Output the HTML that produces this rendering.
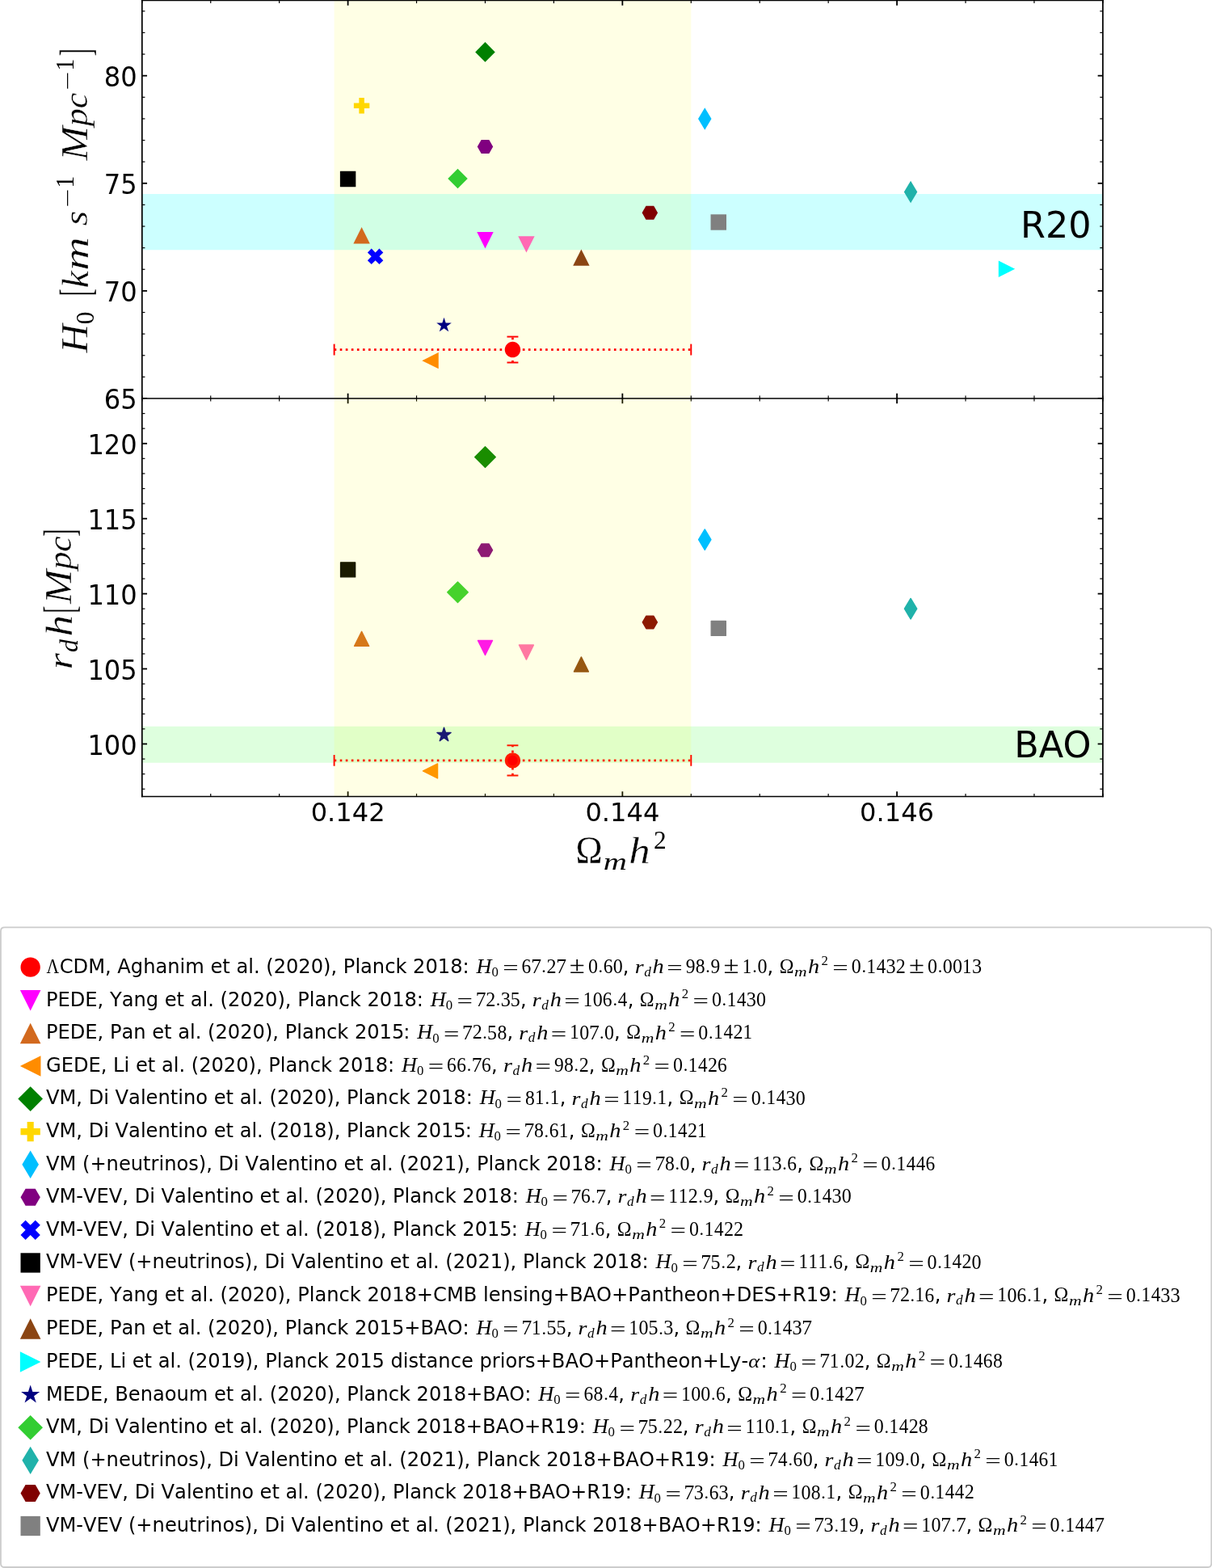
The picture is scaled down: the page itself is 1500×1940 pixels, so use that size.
<!DOCTYPE html>
<html><head><meta charset="utf-8"><title>H0 and r_d h versus Omega_m h^2</title>
<style>html,body{margin:0;padding:0;background:#fff;width:1500px;height:1940px;overflow:hidden}svg{display:block}</style>
</head><body>
<svg width="1500" height="1940" viewBox="0 0 1080 1396.8" version="1.1">
 <defs>
  <style type="text/css">*{stroke-linejoin: round; stroke-linecap: butt}</style>
 </defs>
 <g id="figure_1">
  <g id="patch_1">
   <path d="M 0 1396.8 
L 1080 1396.8 
L 1080 0 
L 0 0 
z
" style="fill: #ffffff"/>
  </g>
  <g id="axes_1">
   <g id="patch_2">
    <path d="M 126.576 354.96 
L 982.728 354.96 
L 982.728 0.36 
L 126.576 0.36 
z
" style="fill: #ffffff"/>
   </g>
   <g id="patch_3">
    <path d="M 126.576 222.703784 
L 982.728 222.703784 
L 982.728 172.868108 
L 126.576 172.868108 
z
" clip-path="url(#pdb8084b078)" style="fill: #00ffff; opacity: 0.2"/>
   </g>
   <g id="patch_4">
    <path d="M 297.8064 354.96 
L 615.805714 354.96 
L 615.805714 0.36 
L 297.8064 0.36 
z
" clip-path="url(#pdb8084b078)" style="fill: #ffff00; opacity: 0.1"/>
   </g>
   <g id="matplotlib.axis_1">
    <g id="xtick_1">
     <g id="line2d_1">
      <g>
       <path d="M 0 0 L 0 -4.5" transform="translate(310.037 354.96)" style="stroke: #000000; stroke-width: 1.3; stroke: #000000; stroke-width: 1.3"/>
      </g>
     </g>
     <g id="line2d_2">
      <g>
       <path d="M 0 0 L 0 4.5" transform="translate(310.037 0.36)" style="stroke: #000000; stroke-width: 1.3; stroke: #000000; stroke-width: 1.3"/>
      </g>
     </g>
    </g>
    <g id="xtick_2">
     <g id="line2d_3">
      <g>
       <path d="M 0 0 L 0 -4.5" transform="translate(554.652 354.96)" style="stroke: #000000; stroke-width: 1.3; stroke: #000000; stroke-width: 1.3"/>
      </g>
     </g>
     <g id="line2d_4">
      <g>
       <path d="M 0 0 L 0 4.5" transform="translate(554.652 0.36)" style="stroke: #000000; stroke-width: 1.3; stroke: #000000; stroke-width: 1.3"/>
      </g>
     </g>
    </g>
    <g id="xtick_3">
     <g id="line2d_5">
      <g>
       <path d="M 0 0 L 0 -4.5" transform="translate(799.267 354.96)" style="stroke: #000000; stroke-width: 1.3; stroke: #000000; stroke-width: 1.3"/>
      </g>
     </g>
     <g id="line2d_6">
      <g>
       <path d="M 0 0 L 0 4.5" transform="translate(799.267 0.36)" style="stroke: #000000; stroke-width: 1.3; stroke: #000000; stroke-width: 1.3"/>
      </g>
     </g>
    </g>
    <g id="xtick_4">
     <g id="line2d_7">
      <g>
       <path d="M 0 0 L 0 -2.6" transform="translate(126.576 354.96)" style="stroke: #000000; stroke-width: 0.85; stroke: #000000; stroke-width: 0.85"/>
      </g>
     </g>
     <g id="line2d_8">
      <g>
       <path d="M 0 0 L 0 2.6" transform="translate(126.576 0.36)" style="stroke: #000000; stroke-width: 0.85; stroke: #000000; stroke-width: 0.85"/>
      </g>
     </g>
    </g>
    <g id="xtick_5">
     <g id="line2d_9">
      <g>
       <path d="M 0 0 L 0 -2.6" transform="translate(187.73 354.96)" style="stroke: #000000; stroke-width: 0.85; stroke: #000000; stroke-width: 0.85"/>
      </g>
     </g>
     <g id="line2d_10">
      <g>
       <path d="M 0 0 L 0 2.6" transform="translate(187.73 0.36)" style="stroke: #000000; stroke-width: 0.85; stroke: #000000; stroke-width: 0.85"/>
      </g>
     </g>
    </g>
    <g id="xtick_6">
     <g id="line2d_11">
      <g>
       <path d="M 0 0 L 0 -2.6" transform="translate(248.883 354.96)" style="stroke: #000000; stroke-width: 0.85; stroke: #000000; stroke-width: 0.85"/>
      </g>
     </g>
     <g id="line2d_12">
      <g>
       <path d="M 0 0 L 0 2.6" transform="translate(248.883 0.36)" style="stroke: #000000; stroke-width: 0.85; stroke: #000000; stroke-width: 0.85"/>
      </g>
     </g>
    </g>
    <g id="xtick_7">
     <g id="line2d_13">
      <g>
       <path d="M 0 0 L 0 -2.6" transform="translate(371.191 354.96)" style="stroke: #000000; stroke-width: 0.85; stroke: #000000; stroke-width: 0.85"/>
      </g>
     </g>
     <g id="line2d_14">
      <g>
       <path d="M 0 0 L 0 2.6" transform="translate(371.191 0.36)" style="stroke: #000000; stroke-width: 0.85; stroke: #000000; stroke-width: 0.85"/>
      </g>
     </g>
    </g>
    <g id="xtick_8">
     <g id="line2d_15">
      <g>
       <path d="M 0 0 L 0 -2.6" transform="translate(432.345 354.96)" style="stroke: #000000; stroke-width: 0.85; stroke: #000000; stroke-width: 0.85"/>
      </g>
     </g>
     <g id="line2d_16">
      <g>
       <path d="M 0 0 L 0 2.6" transform="translate(432.345 0.36)" style="stroke: #000000; stroke-width: 0.85; stroke: #000000; stroke-width: 0.85"/>
      </g>
     </g>
    </g>
    <g id="xtick_9">
     <g id="line2d_17">
      <g>
       <path d="M 0 0 L 0 -2.6" transform="translate(493.498 354.96)" style="stroke: #000000; stroke-width: 0.85; stroke: #000000; stroke-width: 0.85"/>
      </g>
     </g>
     <g id="line2d_18">
      <g>
       <path d="M 0 0 L 0 2.6" transform="translate(493.498 0.36)" style="stroke: #000000; stroke-width: 0.85; stroke: #000000; stroke-width: 0.85"/>
      </g>
     </g>
    </g>
    <g id="xtick_10">
     <g id="line2d_19">
      <g>
       <path d="M 0 0 L 0 -2.6" transform="translate(615.806 354.96)" style="stroke: #000000; stroke-width: 0.85; stroke: #000000; stroke-width: 0.85"/>
      </g>
     </g>
     <g id="line2d_20">
      <g>
       <path d="M 0 0 L 0 2.6" transform="translate(615.806 0.36)" style="stroke: #000000; stroke-width: 0.85; stroke: #000000; stroke-width: 0.85"/>
      </g>
     </g>
    </g>
    <g id="xtick_11">
     <g id="line2d_21">
      <g>
       <path d="M 0 0 L 0 -2.6" transform="translate(676.959 354.96)" style="stroke: #000000; stroke-width: 0.85; stroke: #000000; stroke-width: 0.85"/>
      </g>
     </g>
     <g id="line2d_22">
      <g>
       <path d="M 0 0 L 0 2.6" transform="translate(676.959 0.36)" style="stroke: #000000; stroke-width: 0.85; stroke: #000000; stroke-width: 0.85"/>
      </g>
     </g>
    </g>
    <g id="xtick_12">
     <g id="line2d_23">
      <g>
       <path d="M 0 0 L 0 -2.6" transform="translate(738.113 354.96)" style="stroke: #000000; stroke-width: 0.85; stroke: #000000; stroke-width: 0.85"/>
      </g>
     </g>
     <g id="line2d_24">
      <g>
       <path d="M 0 0 L 0 2.6" transform="translate(738.113 0.36)" style="stroke: #000000; stroke-width: 0.85; stroke: #000000; stroke-width: 0.85"/>
      </g>
     </g>
    </g>
    <g id="xtick_13">
     <g id="line2d_25">
      <g>
       <path d="M 0 0 L 0 -2.6" transform="translate(860.421 354.96)" style="stroke: #000000; stroke-width: 0.85; stroke: #000000; stroke-width: 0.85"/>
      </g>
     </g>
     <g id="line2d_26">
      <g>
       <path d="M 0 0 L 0 2.6" transform="translate(860.421 0.36)" style="stroke: #000000; stroke-width: 0.85; stroke: #000000; stroke-width: 0.85"/>
      </g>
     </g>
    </g>
    <g id="xtick_14">
     <g id="line2d_27">
      <g>
       <path d="M 0 0 L 0 -2.6" transform="translate(921.574 354.96)" style="stroke: #000000; stroke-width: 0.85; stroke: #000000; stroke-width: 0.85"/>
      </g>
     </g>
     <g id="line2d_28">
      <g>
       <path d="M 0 0 L 0 2.6" transform="translate(921.574 0.36)" style="stroke: #000000; stroke-width: 0.85; stroke: #000000; stroke-width: 0.85"/>
      </g>
     </g>
    </g>
    <g id="xtick_15">
     <g id="line2d_29">
      <g>
       <path d="M 0 0 L 0 -2.6" transform="translate(982.728 354.96)" style="stroke: #000000; stroke-width: 0.85; stroke: #000000; stroke-width: 0.85"/>
      </g>
     </g>
     <g id="line2d_30">
      <g>
       <path d="M 0 0 L 0 2.6" transform="translate(982.728 0.36)" style="stroke: #000000; stroke-width: 0.85; stroke: #000000; stroke-width: 0.85"/>
      </g>
     </g>
    </g>
   </g>
   <g id="matplotlib.axis_2">
    <g id="ytick_1">
     <g id="line2d_31">
      <g>
       <path d="M 0 0 L 4.5 0" transform="translate(126.576 354.96)" style="stroke: #000000; stroke-width: 1.3; stroke: #000000; stroke-width: 1.3"/>
      </g>
     </g>
     <g id="line2d_32">
      <g>
       <path d="M 0 0 L -4.5 0" transform="translate(982.728 354.96)" style="stroke: #000000; stroke-width: 1.3; stroke: #000000; stroke-width: 1.3"/>
      </g>
     </g>
     <g id="text_1">
      <text style="font-size: 24px; font-family: 'DejaVu Sans', sans-serif; text-anchor: end" x="122.176" y="364.078" transform="translate(122.176 364.654) scale(0.964 1) translate(-122.176 -364.078)">65</text>
     </g>
    </g>
    <g id="ytick_2">
     <g id="line2d_33">
      <g>
       <path d="M 0 0 L 4.5 0" transform="translate(126.576 259.122)" style="stroke: #000000; stroke-width: 1.3; stroke: #000000; stroke-width: 1.3"/>
      </g>
     </g>
     <g id="line2d_34">
      <g>
       <path d="M 0 0 L -4.5 0" transform="translate(982.728 259.122)" style="stroke: #000000; stroke-width: 1.3; stroke: #000000; stroke-width: 1.3"/>
      </g>
     </g>
     <g id="text_2">
      <text style="font-size: 24px; font-family: 'DejaVu Sans', sans-serif; text-anchor: end" x="122.176" y="268.24" transform="translate(122.176 268.816) scale(0.964 1) translate(-122.176 -268.24)">70</text>
     </g>
    </g>
    <g id="ytick_3">
     <g id="line2d_35">
      <g>
       <path d="M 0 0 L 4.5 0" transform="translate(126.576 163.284)" style="stroke: #000000; stroke-width: 1.3; stroke: #000000; stroke-width: 1.3"/>
      </g>
     </g>
     <g id="line2d_36">
      <g>
       <path d="M 0 0 L -4.5 0" transform="translate(982.728 163.284)" style="stroke: #000000; stroke-width: 1.3; stroke: #000000; stroke-width: 1.3"/>
      </g>
     </g>
     <g id="text_3">
      <text style="font-size: 24px; font-family: 'DejaVu Sans', sans-serif; text-anchor: end" x="122.176" y="172.402" transform="translate(122.176 172.978) scale(0.964 1) translate(-122.176 -172.402)">75</text>
     </g>
    </g>
    <g id="ytick_4">
     <g id="line2d_37">
      <g>
       <path d="M 0 0 L 4.5 0" transform="translate(126.576 67.446)" style="stroke: #000000; stroke-width: 1.3; stroke: #000000; stroke-width: 1.3"/>
      </g>
     </g>
     <g id="line2d_38">
      <g>
       <path d="M 0 0 L -4.5 0" transform="translate(982.728 67.446)" style="stroke: #000000; stroke-width: 1.3; stroke: #000000; stroke-width: 1.3"/>
      </g>
     </g>
     <g id="text_4">
      <text style="font-size: 24px; font-family: 'DejaVu Sans', sans-serif; text-anchor: end" x="122.176" y="76.565" transform="translate(122.176 77.141) scale(0.964 1) translate(-122.176 -76.565)">80</text>
     </g>
    </g>
    <g id="ytick_5">
     <g id="line2d_39">
      <g>
       <path d="M 0 0 L 2.6 0" transform="translate(126.576 335.792)" style="stroke: #000000; stroke-width: 0.85; stroke: #000000; stroke-width: 0.85"/>
      </g>
     </g>
     <g id="line2d_40">
      <g>
       <path d="M 0 0 L -2.6 0" transform="translate(982.728 335.792)" style="stroke: #000000; stroke-width: 0.85; stroke: #000000; stroke-width: 0.85"/>
      </g>
     </g>
    </g>
    <g id="ytick_6">
     <g id="line2d_41">
      <g>
       <path d="M 0 0 L 2.6 0" transform="translate(126.576 316.625)" style="stroke: #000000; stroke-width: 0.85; stroke: #000000; stroke-width: 0.85"/>
      </g>
     </g>
     <g id="line2d_42">
      <g>
       <path d="M 0 0 L -2.6 0" transform="translate(982.728 316.625)" style="stroke: #000000; stroke-width: 0.85; stroke: #000000; stroke-width: 0.85"/>
      </g>
     </g>
    </g>
    <g id="ytick_7">
     <g id="line2d_43">
      <g>
       <path d="M 0 0 L 2.6 0" transform="translate(126.576 297.457)" style="stroke: #000000; stroke-width: 0.85; stroke: #000000; stroke-width: 0.85"/>
      </g>
     </g>
     <g id="line2d_44">
      <g>
       <path d="M 0 0 L -2.6 0" transform="translate(982.728 297.457)" style="stroke: #000000; stroke-width: 0.85; stroke: #000000; stroke-width: 0.85"/>
      </g>
     </g>
    </g>
    <g id="ytick_8">
     <g id="line2d_45">
      <g>
       <path d="M 0 0 L 2.6 0" transform="translate(126.576 278.29)" style="stroke: #000000; stroke-width: 0.85; stroke: #000000; stroke-width: 0.85"/>
      </g>
     </g>
     <g id="line2d_46">
      <g>
       <path d="M 0 0 L -2.6 0" transform="translate(982.728 278.29)" style="stroke: #000000; stroke-width: 0.85; stroke: #000000; stroke-width: 0.85"/>
      </g>
     </g>
    </g>
    <g id="ytick_9">
     <g id="line2d_47">
      <g>
       <path d="M 0 0 L 2.6 0" transform="translate(126.576 239.955)" style="stroke: #000000; stroke-width: 0.85; stroke: #000000; stroke-width: 0.85"/>
      </g>
     </g>
     <g id="line2d_48">
      <g>
       <path d="M 0 0 L -2.6 0" transform="translate(982.728 239.955)" style="stroke: #000000; stroke-width: 0.85; stroke: #000000; stroke-width: 0.85"/>
      </g>
     </g>
    </g>
    <g id="ytick_10">
     <g id="line2d_49">
      <g>
       <path d="M 0 0 L 2.6 0" transform="translate(126.576 220.787)" style="stroke: #000000; stroke-width: 0.85; stroke: #000000; stroke-width: 0.85"/>
      </g>
     </g>
     <g id="line2d_50">
      <g>
       <path d="M 0 0 L -2.6 0" transform="translate(982.728 220.787)" style="stroke: #000000; stroke-width: 0.85; stroke: #000000; stroke-width: 0.85"/>
      </g>
     </g>
    </g>
    <g id="ytick_11">
     <g id="line2d_51">
      <g>
       <path d="M 0 0 L 2.6 0" transform="translate(126.576 201.619)" style="stroke: #000000; stroke-width: 0.85; stroke: #000000; stroke-width: 0.85"/>
      </g>
     </g>
     <g id="line2d_52">
      <g>
       <path d="M 0 0 L -2.6 0" transform="translate(982.728 201.619)" style="stroke: #000000; stroke-width: 0.85; stroke: #000000; stroke-width: 0.85"/>
      </g>
     </g>
    </g>
    <g id="ytick_12">
     <g id="line2d_53">
      <g>
       <path d="M 0 0 L 2.6 0" transform="translate(126.576 182.452)" style="stroke: #000000; stroke-width: 0.85; stroke: #000000; stroke-width: 0.85"/>
      </g>
     </g>
     <g id="line2d_54">
      <g>
       <path d="M 0 0 L -2.6 0" transform="translate(982.728 182.452)" style="stroke: #000000; stroke-width: 0.85; stroke: #000000; stroke-width: 0.85"/>
      </g>
     </g>
    </g>
    <g id="ytick_13">
     <g id="line2d_55">
      <g>
       <path d="M 0 0 L 2.6 0" transform="translate(126.576 144.117)" style="stroke: #000000; stroke-width: 0.85; stroke: #000000; stroke-width: 0.85"/>
      </g>
     </g>
     <g id="line2d_56">
      <g>
       <path d="M 0 0 L -2.6 0" transform="translate(982.728 144.117)" style="stroke: #000000; stroke-width: 0.85; stroke: #000000; stroke-width: 0.85"/>
      </g>
     </g>
    </g>
    <g id="ytick_14">
     <g id="line2d_57">
      <g>
       <path d="M 0 0 L 2.6 0" transform="translate(126.576 124.949)" style="stroke: #000000; stroke-width: 0.85; stroke: #000000; stroke-width: 0.85"/>
      </g>
     </g>
     <g id="line2d_58">
      <g>
       <path d="M 0 0 L -2.6 0" transform="translate(982.728 124.949)" style="stroke: #000000; stroke-width: 0.85; stroke: #000000; stroke-width: 0.85"/>
      </g>
     </g>
    </g>
    <g id="ytick_15">
     <g id="line2d_59">
      <g>
       <path d="M 0 0 L 2.6 0" transform="translate(126.576 105.782)" style="stroke: #000000; stroke-width: 0.85; stroke: #000000; stroke-width: 0.85"/>
      </g>
     </g>
     <g id="line2d_60">
      <g>
       <path d="M 0 0 L -2.6 0" transform="translate(982.728 105.782)" style="stroke: #000000; stroke-width: 0.85; stroke: #000000; stroke-width: 0.85"/>
      </g>
     </g>
    </g>
    <g id="ytick_16">
     <g id="line2d_61">
      <g>
       <path d="M 0 0 L 2.6 0" transform="translate(126.576 86.614)" style="stroke: #000000; stroke-width: 0.85; stroke: #000000; stroke-width: 0.85"/>
      </g>
     </g>
     <g id="line2d_62">
      <g>
       <path d="M 0 0 L -2.6 0" transform="translate(982.728 86.614)" style="stroke: #000000; stroke-width: 0.85; stroke: #000000; stroke-width: 0.85"/>
      </g>
     </g>
    </g>
    <g id="ytick_17">
     <g id="line2d_63">
      <g>
       <path d="M 0 0 L 2.6 0" transform="translate(126.576 48.279)" style="stroke: #000000; stroke-width: 0.85; stroke: #000000; stroke-width: 0.85"/>
      </g>
     </g>
     <g id="line2d_64">
      <g>
       <path d="M 0 0 L -2.6 0" transform="translate(982.728 48.279)" style="stroke: #000000; stroke-width: 0.85; stroke: #000000; stroke-width: 0.85"/>
      </g>
     </g>
    </g>
    <g id="ytick_18">
     <g id="line2d_65">
      <g>
       <path d="M 0 0 L 2.6 0" transform="translate(126.576 29.111)" style="stroke: #000000; stroke-width: 0.85; stroke: #000000; stroke-width: 0.85"/>
      </g>
     </g>
     <g id="line2d_66">
      <g>
       <path d="M 0 0 L -2.6 0" transform="translate(982.728 29.111)" style="stroke: #000000; stroke-width: 0.85; stroke: #000000; stroke-width: 0.85"/>
      </g>
     </g>
    </g>
    <g id="ytick_19">
     <g id="line2d_67">
      <g>
       <path d="M 0 0 L 2.6 0" transform="translate(126.576 9.944)" style="stroke: #000000; stroke-width: 0.85; stroke: #000000; stroke-width: 0.85"/>
      </g>
     </g>
     <g id="line2d_68">
      <g>
       <path d="M 0 0 L -2.6 0" transform="translate(982.728 9.944)" style="stroke: #000000; stroke-width: 0.85; stroke: #000000; stroke-width: 0.85"/>
      </g>
     </g>
    </g>
    <g id="text_5">
     <!-- $H_0\ [km\ s^{-1}\ Mpc^{-1}]$ -->
     <g transform="translate(78.436 315.918) rotate(-90)">
      <text transform="translate(1.581 -0.498) scale(1.0873 1.0433)" style="font-size: 32.4px; font-family: 'Liberation Serif', serif; font-style: italic; stroke: #ffffff; stroke-width: 0.242; stroke-linejoin: round">H</text><text transform="translate(59.507 -0.134) scale(1.0557 1.0162)" style="font-size: 32.4px; font-family: 'Liberation Serif', serif; font-style: italic; stroke: #ffffff; stroke-width: 0.248; stroke-linejoin: round">k</text><text transform="translate(74.983 -0.134) scale(1.2798 0.9617)" style="font-size: 32.4px; font-family: 'Liberation Serif', serif; font-style: italic; stroke: #ffffff; stroke-width: 0.262; stroke-linejoin: round">m</text><text transform="translate(114.785 -0.432) scale(1.0592 0.9421)" style="font-size: 32.4px; font-family: 'Liberation Serif', serif; font-style: italic; stroke: #ffffff; stroke-width: 0.267; stroke-linejoin: round">s</text><text transform="translate(172.973 -0.498) scale(1.1283 1.0433)" style="font-size: 32.4px; font-family: 'Liberation Serif', serif; font-style: italic; stroke: #ffffff; stroke-width: 0.242; stroke-linejoin: round">M</text><text transform="translate(203.422 -0.627) scale(0.9945 0.9293)" style="font-size: 32.4px; font-family: 'Liberation Serif', serif; font-style: italic; stroke: #ffffff; stroke-width: 0.271; stroke-linejoin: round">p</text><text transform="translate(219.262 -0.432) scale(0.9697 0.9421)" style="font-size: 32.4px; font-family: 'Liberation Serif', serif; font-style: italic; stroke: #ffffff; stroke-width: 0.267; stroke-linejoin: round">c</text><text transform="translate(26.947 5.285) scale(0.9931 1.0195)" style="font-size: 22.68px; font-family: 'Liberation Serif', serif">0</text><text transform="translate(148.414 -12.895) scale(0.9487 1.0089)" style="font-size: 22.68px; font-family: 'Liberation Serif', serif">1</text><text transform="translate(252.664 -12.895) scale(0.9487 1.0089)" style="font-size: 22.68px; font-family: 'Liberation Serif', serif">1</text><text transform="translate(52.152 2.365) scale(0.614 1.2083)" style="font-size: 32.4px; font-family: 'Liberation Serif', serif; stroke: #ffffff; stroke-width: 0.209; stroke-linejoin: round">[</text><text transform="translate(265.977 2.365) scale(0.6162 1.2083)" style="font-size: 32.4px; font-family: 'Liberation Serif', serif; stroke: #ffffff; stroke-width: 0.209; stroke-linejoin: round">]</text><text transform="translate(131.12 -12.511) scale(1.3127 0.8039)" style="font-size: 22.68px; font-family: 'Liberation Serif', serif">−</text><text transform="translate(235.37 -12.511) scale(1.3127 0.8039)" style="font-size: 22.68px; font-family: 'Liberation Serif', serif">−</text>
     </g>
    </g>
   </g>
   <g id="LineCollection_1">
    <path d="M 297.8064 311.449622 
L 615.805714 311.449622 
" clip-path="url(#pdb8084b078)" style="fill: none; stroke-dasharray: 1.92,3.168; stroke-dashoffset: 0; stroke: #ff0000; stroke-width: 1.92"/>
   </g>
   <g id="line2d_69">
    <g clip-path="url(#pdb8084b078)">
     <path d="M 0 5 L 0 -5" transform="translate(297.806 311.45)" style="fill: #1f77b4; stroke: #ff0000; stroke-width: 1.4; stroke: #ff0000; stroke-width: 1.4"/>
    </g>
   </g>
   <g id="line2d_70">
    <g clip-path="url(#pdb8084b078)">
     <path d="M 0 5 L 0 -5" transform="translate(615.806 311.45)" style="fill: #1f77b4; stroke: #ff0000; stroke-width: 1.4; stroke: #ff0000; stroke-width: 1.4"/>
    </g>
   </g>
   <g id="LineCollection_2">
    <path d="M 456.806057 322.950162 
L 456.806057 299.949081 
" clip-path="url(#pdb8084b078)" style="fill: none; stroke-dasharray: 1.92,3.168; stroke-dashoffset: 0; stroke: #ff0000; stroke-width: 1.92"/>
   </g>
   <g id="line2d_71">
    <g clip-path="url(#pdb8084b078)">
     <path d="M 5 0 L -5 -0" transform="translate(456.806 322.95)" style="fill: #1f77b4; stroke: #ff0000; stroke-width: 1.4; stroke: #ff0000; stroke-width: 1.4"/>
    </g>
   </g>
   <g id="line2d_72">
    <g clip-path="url(#pdb8084b078)">
     <path d="M 5 0 L -5 -0" transform="translate(456.806 299.949)" style="fill: #1f77b4; stroke: #ff0000; stroke-width: 1.4; stroke: #ff0000; stroke-width: 1.4"/>
    </g>
   </g>
   <g id="line2d_73">
    <g clip-path="url(#pdb8084b078)">
     <path d="M 0 7 C 1.856422 7 3.637059 6.262436 4.949747 4.949747 C 6.262436 3.637059 7 1.856422 7 0 C 7 -1.856422 6.262436 -3.637059 4.949747 -4.949747 C 3.637059 -6.262436 1.856422 -7 0 -7 C -1.856422 -7 -3.637059 -6.262436 -4.949747 -4.949747 C -6.262436 -3.637059 -7 -1.856422 -7 0 C -7 1.856422 -6.262436 3.637059 -4.949747 4.949747 C -3.637059 6.262436 -1.856422 7 0 7 z" transform="translate(456.806 311.45)" style="fill: #ff0000"/>
    </g>
   </g>
   <g id="line2d_74">
    <g clip-path="url(#pdb8084b078)">
     <path d="M -0 7.35 L 7.35 -7.35 L -7.35 -7.35 z" transform="translate(432.345 214.078)" style="fill: #ff00ff"/>
    </g>
   </g>
   <g id="line2d_75">
    <g clip-path="url(#pdb8084b078)">
     <path d="M 0 -7.35 L -7.35 7.35 L 7.35 7.35 z" transform="translate(322.268 209.67)" style="fill: #d2691e"/>
    </g>
   </g>
   <g id="line2d_76">
    <g clip-path="url(#pdb8084b078)">
     <path d="M -7.35 -0 L 7.35 7.35 L 7.35 -7.35 z" transform="translate(383.422 321.225)" style="fill: #ff8c00"/>
    </g>
   </g>
   <g id="line2d_77">
    <g clip-path="url(#pdb8084b078)">
     <path d="M -0 8.838835 L 8.838835 0 L 0 -8.838835 L -8.838835 -0 z" transform="translate(432.345 46.362)" style="fill: #008000"/>
    </g>
   </g>
   <g id="line2d_78">
    <g clip-path="url(#pdb8084b078)">
     <path d="M -2.333333 7 L 2.333333 7 L 2.333333 2.333333 L 7 2.333333 L 7 -2.333333 L 2.333333 -2.333333 L 2.333333 -7 L -2.333333 -7 L -2.333333 -2.333333 L -7 -2.333333 L -7 2.333333 L -2.333333 2.333333 z" transform="translate(322.268 94.089)" style="fill: #ffd700"/>
    </g>
   </g>
   <g id="line2d_79">
    <g clip-path="url(#pdb8084b078)">
     <path d="M -0 9.899495 L 5.939697 0 L 0 -9.899495 L -5.939697 -0 z" transform="translate(628.036 105.782)" style="fill: #00bfff"/>
    </g>
   </g>
   <g id="line2d_80">
    <g clip-path="url(#pdb8084b078)">
     <path d="M -3.5 -6.062178 L -7 -0 L -3.5 6.062178 L 3.5 6.062178 L 7 0 L 3.5 -6.062178 z" transform="translate(432.345 130.699)" style="fill: #800080"/>
    </g>
   </g>
   <g id="line2d_81">
    <g clip-path="url(#pdb8084b078)">
     <path d="M -3.5 7 L 0 3.5 L 3.5 7 L 7 3.5 L 3.5 0 L 7 -3.5 L 3.5 -7 L 0 -3.5 L -3.5 -7 L -7 -3.5 L -3.5 0 L -7 3.5 z" transform="translate(334.499 228.454)" style="fill: #0000ff"/>
    </g>
   </g>
   <g id="line2d_82">
    <g clip-path="url(#pdb8084b078)">
     <path d="M -7 7 L 7 7 L 7 -7 L -7 -7 z" transform="translate(310.037 159.451)" style=""/>
    </g>
   </g>
   <g id="line2d_83">
    <g clip-path="url(#pdb8084b078)">
     <path d="M -0 7.35 L 7.35 -7.35 L -7.35 -7.35 z" transform="translate(469.037 217.72)" style="fill: #ff69b4"/>
    </g>
   </g>
   <g id="line2d_84">
    <g clip-path="url(#pdb8084b078)">
     <path d="M 0 -7.35 L -7.35 7.35 L 7.35 7.35 z" transform="translate(517.96 229.412)" style="fill: #8b4513"/>
    </g>
   </g>
   <g id="line2d_85">
    <g clip-path="url(#pdb8084b078)">
     <path d="M 7.35 0 L -7.35 -7.35 L -7.35 7.35 z" transform="translate(897.113 239.571)" style="fill: #00ffff"/>
    </g>
   </g>
   <g id="line2d_86">
    <g clip-path="url(#pdb8084b078)">
     <path d="M 0 -7 L -1.571598 -2.163119 L -6.657396 -2.163119 L -2.542899 0.826238 L -4.114497 5.663119 L -0 2.673762 L 4.114497 5.663119 L 2.542899 0.826238 L 6.657396 -2.163119 L 1.571598 -2.163119 z" transform="translate(395.652 289.79)" style="fill: #000080"/>
    </g>
   </g>
   <g id="line2d_87">
    <g clip-path="url(#pdb8084b078)">
     <path d="M -0 8.838835 L 8.838835 0 L 0 -8.838835 L -8.838835 -0 z" transform="translate(407.883 159.067)" style="fill: #32cd32"/>
    </g>
   </g>
   <g id="line2d_88">
    <g clip-path="url(#pdb8084b078)">
     <path d="M -0 9.899495 L 5.939697 0 L 0 -9.899495 L -5.939697 -0 z" transform="translate(811.498 170.951)" style="fill: #20b2aa"/>
    </g>
   </g>
   <g id="line2d_89">
    <g clip-path="url(#pdb8084b078)">
     <path d="M -3.5 -6.062178 L -7 -0 L -3.5 6.062178 L 3.5 6.062178 L 7 0 L 3.5 -6.062178 z" transform="translate(579.113 189.544)" style="fill: #800000"/>
    </g>
   </g>
   <g id="line2d_90">
    <g clip-path="url(#pdb8084b078)">
     <path d="M -7 7 L 7 7 L 7 -7 L -7 -7 z" transform="translate(640.267 197.978)" style="fill: #808080"/>
    </g>
   </g>
   <g id="text_6">
    <text style="font-size: 32px; font-family: 'DejaVu Sans', sans-serif; text-anchor: end" x="972.331869" y="211.854941" transform="rotate(-0 972.331869 211.854941)">R20</text>
   </g>
   <g id="patch_5">
    <path d="M 126.576 354.96 
L 126.576 0.36 
" style="fill: none; stroke: #000000; stroke-width: 1.25; stroke-linejoin: miter; stroke-linecap: square"/>
   </g>
   <g id="patch_6">
    <path d="M 982.728 354.96 
L 982.728 0.36 
" style="fill: none; stroke: #000000; stroke-width: 1.25; stroke-linejoin: miter; stroke-linecap: square"/>
   </g>
   <g id="patch_7">
    <path d="M 126.576 0.36 
L 982.728 0.36 
" style="fill: none; stroke: #000000; stroke-width: 1.25; stroke-linejoin: miter; stroke-linecap: square"/>
   </g>
  </g>
  <g id="axes_2">
   <g id="patch_8">
    <path d="M 126.576 709.56 
L 982.728 709.56 
L 982.728 354.96 
L 126.576 354.96 
z
" style="fill: #ffffff"/>
   </g>
   <g id="patch_9">
    <path d="M 126.576 679.452453 
L 982.728 679.452453 
L 982.728 647.070113 
L 126.576 647.070113 
z
" clip-path="url(#p4e50c6712b)" style="fill: #00ff00; opacity: 0.13"/>
   </g>
   <g id="matplotlib.axis_3">
    <g id="xtick_16">
     <g id="line2d_91">
      <g>
       <path d="M 0 0 L 0 -4.5" transform="translate(310.037 709.56)" style="stroke: #000000; stroke-width: 1.3; stroke: #000000; stroke-width: 1.3"/>
      </g>
     </g>
     <g id="line2d_92">
      <g>
       <path d="M 0 0 L 0 4.5" transform="translate(310.037 354.96)" style="stroke: #000000; stroke-width: 1.3; stroke: #000000; stroke-width: 1.3"/>
      </g>
     </g>
     <g id="text_7">
      <text style="font-size: 24px; font-family: 'DejaVu Sans', sans-serif; text-anchor: middle" x="310.037" y="732.196" transform="translate(310.037 731.764) scale(0.964 0.96) translate(-310.037 -732.196)">0.142</text>
     </g>
    </g>
    <g id="xtick_17">
     <g id="line2d_93">
      <g>
       <path d="M 0 0 L 0 -4.5" transform="translate(554.652 709.56)" style="stroke: #000000; stroke-width: 1.3; stroke: #000000; stroke-width: 1.3"/>
      </g>
     </g>
     <g id="line2d_94">
      <g>
       <path d="M 0 0 L 0 4.5" transform="translate(554.652 354.96)" style="stroke: #000000; stroke-width: 1.3; stroke: #000000; stroke-width: 1.3"/>
      </g>
     </g>
     <g id="text_8">
      <text style="font-size: 24px; font-family: 'DejaVu Sans', sans-serif; text-anchor: middle" x="554.652" y="732.196" transform="translate(554.652 731.764) scale(0.964 0.96) translate(-554.652 -732.196)">0.144</text>
     </g>
    </g>
    <g id="xtick_18">
     <g id="line2d_95">
      <g>
       <path d="M 0 0 L 0 -4.5" transform="translate(799.267 709.56)" style="stroke: #000000; stroke-width: 1.3; stroke: #000000; stroke-width: 1.3"/>
      </g>
     </g>
     <g id="line2d_96">
      <g>
       <path d="M 0 0 L 0 4.5" transform="translate(799.267 354.96)" style="stroke: #000000; stroke-width: 1.3; stroke: #000000; stroke-width: 1.3"/>
      </g>
     </g>
     <g id="text_9">
      <text style="font-size: 24px; font-family: 'DejaVu Sans', sans-serif; text-anchor: middle" x="799.267" y="732.196" transform="translate(799.267 731.764) scale(0.964 0.96) translate(-799.267 -732.196)">0.146</text>
     </g>
    </g>
    <g id="xtick_19">
     <g id="line2d_97">
      <g>
       <path d="M 0 0 L 0 -2.6" transform="translate(126.576 709.56)" style="stroke: #000000; stroke-width: 0.85; stroke: #000000; stroke-width: 0.85"/>
      </g>
     </g>
     <g id="line2d_98">
      <g>
       <path d="M 0 0 L 0 2.6" transform="translate(126.576 354.96)" style="stroke: #000000; stroke-width: 0.85; stroke: #000000; stroke-width: 0.85"/>
      </g>
     </g>
    </g>
    <g id="xtick_20">
     <g id="line2d_99">
      <g>
       <path d="M 0 0 L 0 -2.6" transform="translate(187.73 709.56)" style="stroke: #000000; stroke-width: 0.85; stroke: #000000; stroke-width: 0.85"/>
      </g>
     </g>
     <g id="line2d_100">
      <g>
       <path d="M 0 0 L 0 2.6" transform="translate(187.73 354.96)" style="stroke: #000000; stroke-width: 0.85; stroke: #000000; stroke-width: 0.85"/>
      </g>
     </g>
    </g>
    <g id="xtick_21">
     <g id="line2d_101">
      <g>
       <path d="M 0 0 L 0 -2.6" transform="translate(248.883 709.56)" style="stroke: #000000; stroke-width: 0.85; stroke: #000000; stroke-width: 0.85"/>
      </g>
     </g>
     <g id="line2d_102">
      <g>
       <path d="M 0 0 L 0 2.6" transform="translate(248.883 354.96)" style="stroke: #000000; stroke-width: 0.85; stroke: #000000; stroke-width: 0.85"/>
      </g>
     </g>
    </g>
    <g id="xtick_22">
     <g id="line2d_103">
      <g>
       <path d="M 0 0 L 0 -2.6" transform="translate(371.191 709.56)" style="stroke: #000000; stroke-width: 0.85; stroke: #000000; stroke-width: 0.85"/>
      </g>
     </g>
     <g id="line2d_104">
      <g>
       <path d="M 0 0 L 0 2.6" transform="translate(371.191 354.96)" style="stroke: #000000; stroke-width: 0.85; stroke: #000000; stroke-width: 0.85"/>
      </g>
     </g>
    </g>
    <g id="xtick_23">
     <g id="line2d_105">
      <g>
       <path d="M 0 0 L 0 -2.6" transform="translate(432.345 709.56)" style="stroke: #000000; stroke-width: 0.85; stroke: #000000; stroke-width: 0.85"/>
      </g>
     </g>
     <g id="line2d_106">
      <g>
       <path d="M 0 0 L 0 2.6" transform="translate(432.345 354.96)" style="stroke: #000000; stroke-width: 0.85; stroke: #000000; stroke-width: 0.85"/>
      </g>
     </g>
    </g>
    <g id="xtick_24">
     <g id="line2d_107">
      <g>
       <path d="M 0 0 L 0 -2.6" transform="translate(493.498 709.56)" style="stroke: #000000; stroke-width: 0.85; stroke: #000000; stroke-width: 0.85"/>
      </g>
     </g>
     <g id="line2d_108">
      <g>
       <path d="M 0 0 L 0 2.6" transform="translate(493.498 354.96)" style="stroke: #000000; stroke-width: 0.85; stroke: #000000; stroke-width: 0.85"/>
      </g>
     </g>
    </g>
    <g id="xtick_25">
     <g id="line2d_109">
      <g>
       <path d="M 0 0 L 0 -2.6" transform="translate(615.806 709.56)" style="stroke: #000000; stroke-width: 0.85; stroke: #000000; stroke-width: 0.85"/>
      </g>
     </g>
     <g id="line2d_110">
      <g>
       <path d="M 0 0 L 0 2.6" transform="translate(615.806 354.96)" style="stroke: #000000; stroke-width: 0.85; stroke: #000000; stroke-width: 0.85"/>
      </g>
     </g>
    </g>
    <g id="xtick_26">
     <g id="line2d_111">
      <g>
       <path d="M 0 0 L 0 -2.6" transform="translate(676.959 709.56)" style="stroke: #000000; stroke-width: 0.85; stroke: #000000; stroke-width: 0.85"/>
      </g>
     </g>
     <g id="line2d_112">
      <g>
       <path d="M 0 0 L 0 2.6" transform="translate(676.959 354.96)" style="stroke: #000000; stroke-width: 0.85; stroke: #000000; stroke-width: 0.85"/>
      </g>
     </g>
    </g>
    <g id="xtick_27">
     <g id="line2d_113">
      <g>
       <path d="M 0 0 L 0 -2.6" transform="translate(738.113 709.56)" style="stroke: #000000; stroke-width: 0.85; stroke: #000000; stroke-width: 0.85"/>
      </g>
     </g>
     <g id="line2d_114">
      <g>
       <path d="M 0 0 L 0 2.6" transform="translate(738.113 354.96)" style="stroke: #000000; stroke-width: 0.85; stroke: #000000; stroke-width: 0.85"/>
      </g>
     </g>
    </g>
    <g id="xtick_28">
     <g id="line2d_115">
      <g>
       <path d="M 0 0 L 0 -2.6" transform="translate(860.421 709.56)" style="stroke: #000000; stroke-width: 0.85; stroke: #000000; stroke-width: 0.85"/>
      </g>
     </g>
     <g id="line2d_116">
      <g>
       <path d="M 0 0 L 0 2.6" transform="translate(860.421 354.96)" style="stroke: #000000; stroke-width: 0.85; stroke: #000000; stroke-width: 0.85"/>
      </g>
     </g>
    </g>
    <g id="xtick_29">
     <g id="line2d_117">
      <g>
       <path d="M 0 0 L 0 -2.6" transform="translate(921.574 709.56)" style="stroke: #000000; stroke-width: 0.85; stroke: #000000; stroke-width: 0.85"/>
      </g>
     </g>
     <g id="line2d_118">
      <g>
       <path d="M 0 0 L 0 2.6" transform="translate(921.574 354.96)" style="stroke: #000000; stroke-width: 0.85; stroke: #000000; stroke-width: 0.85"/>
      </g>
     </g>
    </g>
    <g id="xtick_30">
     <g id="line2d_119">
      <g>
       <path d="M 0 0 L 0 -2.6" transform="translate(982.728 709.56)" style="stroke: #000000; stroke-width: 0.85; stroke: #000000; stroke-width: 0.85"/>
      </g>
     </g>
     <g id="line2d_120">
      <g>
       <path d="M 0 0 L 0 2.6" transform="translate(982.728 354.96)" style="stroke: #000000; stroke-width: 0.85; stroke: #000000; stroke-width: 0.85"/>
      </g>
     </g>
    </g>
    <g id="text_10">
     <!-- $\Omega_mh^2$ -->
     <g transform="translate(513.18 769.221312)">
      <text transform="translate(-0.235 -0.498) scale(0.9893 1.0649)" style="font-size: 32.4px; font-family: 'Liberation Serif', serif; stroke: #ffffff; stroke-width: 0.237; stroke-linejoin: round">Ω</text><text transform="translate(24.398 5.267) scale(1.2798 0.9617)" style="font-size: 22.68px; font-family: 'Liberation Serif', serif; font-style: italic">m</text><text transform="translate(47.16 -0.134) scale(1.1734 1.0162)" style="font-size: 32.4px; font-family: 'Liberation Serif', serif; font-style: italic; stroke: #ffffff; stroke-width: 0.248; stroke-linejoin: round">h</text><text transform="translate(69.363 -12.895) scale(0.9963 1.0059)" style="font-size: 22.68px; font-family: 'Liberation Serif', serif">2</text>
     </g>
    </g>
   </g>
   <g id="matplotlib.axis_4">
    <g id="ytick_20">
     <g id="line2d_121">
      <g>
       <path d="M 0 0 L 4.5 0" transform="translate(126.576 662.726)" style="stroke: #000000; stroke-width: 1.3; stroke: #000000; stroke-width: 1.3"/>
      </g>
     </g>
     <g id="line2d_122">
      <g>
       <path d="M 0 0 L -4.5 0" transform="translate(982.728 662.726)" style="stroke: #000000; stroke-width: 1.3; stroke: #000000; stroke-width: 1.3"/>
      </g>
     </g>
     <g id="text_11">
      <text style="font-size: 24px; font-family: 'DejaVu Sans', sans-serif; text-anchor: end" x="122.176" y="671.844" transform="translate(122.176 672.42) scale(0.964 1) translate(-122.176 -671.844)">100</text>
     </g>
    </g>
    <g id="ytick_21">
     <g id="line2d_123">
      <g>
       <path d="M 0 0 L 4.5 0" transform="translate(126.576 595.82)" style="stroke: #000000; stroke-width: 1.3; stroke: #000000; stroke-width: 1.3"/>
      </g>
     </g>
     <g id="line2d_124">
      <g>
       <path d="M 0 0 L -4.5 0" transform="translate(982.728 595.82)" style="stroke: #000000; stroke-width: 1.3; stroke: #000000; stroke-width: 1.3"/>
      </g>
     </g>
     <g id="text_12">
      <text style="font-size: 24px; font-family: 'DejaVu Sans', sans-serif; text-anchor: end" x="122.176" y="604.939" transform="translate(122.176 605.515) scale(0.964 1) translate(-122.176 -604.939)">105</text>
     </g>
    </g>
    <g id="ytick_22">
     <g id="line2d_125">
      <g>
       <path d="M 0 0 L 4.5 0" transform="translate(126.576 528.915)" style="stroke: #000000; stroke-width: 1.3; stroke: #000000; stroke-width: 1.3"/>
      </g>
     </g>
     <g id="line2d_126">
      <g>
       <path d="M 0 0 L -4.5 0" transform="translate(982.728 528.915)" style="stroke: #000000; stroke-width: 1.3; stroke: #000000; stroke-width: 1.3"/>
      </g>
     </g>
     <g id="text_13">
      <text style="font-size: 24px; font-family: 'DejaVu Sans', sans-serif; text-anchor: end" x="122.176" y="538.033" transform="translate(122.176 538.609) scale(0.964 1) translate(-122.176 -538.033)">110</text>
     </g>
    </g>
    <g id="ytick_23">
     <g id="line2d_127">
      <g>
       <path d="M 0 0 L 4.5 0" transform="translate(126.576 462.009)" style="stroke: #000000; stroke-width: 1.3; stroke: #000000; stroke-width: 1.3"/>
      </g>
     </g>
     <g id="line2d_128">
      <g>
       <path d="M 0 0 L -4.5 0" transform="translate(982.728 462.009)" style="stroke: #000000; stroke-width: 1.3; stroke: #000000; stroke-width: 1.3"/>
      </g>
     </g>
     <g id="text_14">
      <text style="font-size: 24px; font-family: 'DejaVu Sans', sans-serif; text-anchor: end" x="122.176" y="471.127" transform="translate(122.176 471.703) scale(0.964 1) translate(-122.176 -471.127)">115</text>
     </g>
    </g>
    <g id="ytick_24">
     <g id="line2d_129">
      <g>
       <path d="M 0 0 L 4.5 0" transform="translate(126.576 395.103)" style="stroke: #000000; stroke-width: 1.3; stroke: #000000; stroke-width: 1.3"/>
      </g>
     </g>
     <g id="line2d_130">
      <g>
       <path d="M 0 0 L -4.5 0" transform="translate(982.728 395.103)" style="stroke: #000000; stroke-width: 1.3; stroke: #000000; stroke-width: 1.3"/>
      </g>
     </g>
     <g id="text_15">
      <text style="font-size: 24px; font-family: 'DejaVu Sans', sans-serif; text-anchor: end" x="122.176" y="404.222" transform="translate(122.176 404.798) scale(0.964 1) translate(-122.176 -404.222)">120</text>
     </g>
    </g>
    <g id="ytick_25">
     <g id="line2d_131">
      <g>
       <path d="M 0 0 L 2.6 0" transform="translate(126.576 702.869)" style="stroke: #000000; stroke-width: 0.85; stroke: #000000; stroke-width: 0.85"/>
      </g>
     </g>
     <g id="line2d_132">
      <g>
       <path d="M 0 0 L -2.6 0" transform="translate(982.728 702.869)" style="stroke: #000000; stroke-width: 0.85; stroke: #000000; stroke-width: 0.85"/>
      </g>
     </g>
    </g>
    <g id="ytick_26">
     <g id="line2d_133">
      <g>
       <path d="M 0 0 L 2.6 0" transform="translate(126.576 689.488)" style="stroke: #000000; stroke-width: 0.85; stroke: #000000; stroke-width: 0.85"/>
      </g>
     </g>
     <g id="line2d_134">
      <g>
       <path d="M 0 0 L -2.6 0" transform="translate(982.728 689.488)" style="stroke: #000000; stroke-width: 0.85; stroke: #000000; stroke-width: 0.85"/>
      </g>
     </g>
    </g>
    <g id="ytick_27">
     <g id="line2d_135">
      <g>
       <path d="M 0 0 L 2.6 0" transform="translate(126.576 676.107)" style="stroke: #000000; stroke-width: 0.85; stroke: #000000; stroke-width: 0.85"/>
      </g>
     </g>
     <g id="line2d_136">
      <g>
       <path d="M 0 0 L -2.6 0" transform="translate(982.728 676.107)" style="stroke: #000000; stroke-width: 0.85; stroke: #000000; stroke-width: 0.85"/>
      </g>
     </g>
    </g>
    <g id="ytick_28">
     <g id="line2d_137">
      <g>
       <path d="M 0 0 L 2.6 0" transform="translate(126.576 649.345)" style="stroke: #000000; stroke-width: 0.85; stroke: #000000; stroke-width: 0.85"/>
      </g>
     </g>
     <g id="line2d_138">
      <g>
       <path d="M 0 0 L -2.6 0" transform="translate(982.728 649.345)" style="stroke: #000000; stroke-width: 0.85; stroke: #000000; stroke-width: 0.85"/>
      </g>
     </g>
    </g>
    <g id="ytick_29">
     <g id="line2d_139">
      <g>
       <path d="M 0 0 L 2.6 0" transform="translate(126.576 635.964)" style="stroke: #000000; stroke-width: 0.85; stroke: #000000; stroke-width: 0.85"/>
      </g>
     </g>
     <g id="line2d_140">
      <g>
       <path d="M 0 0 L -2.6 0" transform="translate(982.728 635.964)" style="stroke: #000000; stroke-width: 0.85; stroke: #000000; stroke-width: 0.85"/>
      </g>
     </g>
    </g>
    <g id="ytick_30">
     <g id="line2d_141">
      <g>
       <path d="M 0 0 L 2.6 0" transform="translate(126.576 622.583)" style="stroke: #000000; stroke-width: 0.85; stroke: #000000; stroke-width: 0.85"/>
      </g>
     </g>
     <g id="line2d_142">
      <g>
       <path d="M 0 0 L -2.6 0" transform="translate(982.728 622.583)" style="stroke: #000000; stroke-width: 0.85; stroke: #000000; stroke-width: 0.85"/>
      </g>
     </g>
    </g>
    <g id="ytick_31">
     <g id="line2d_143">
      <g>
       <path d="M 0 0 L 2.6 0" transform="translate(126.576 609.202)" style="stroke: #000000; stroke-width: 0.85; stroke: #000000; stroke-width: 0.85"/>
      </g>
     </g>
     <g id="line2d_144">
      <g>
       <path d="M 0 0 L -2.6 0" transform="translate(982.728 609.202)" style="stroke: #000000; stroke-width: 0.85; stroke: #000000; stroke-width: 0.85"/>
      </g>
     </g>
    </g>
    <g id="ytick_32">
     <g id="line2d_145">
      <g>
       <path d="M 0 0 L 2.6 0" transform="translate(126.576 582.439)" style="stroke: #000000; stroke-width: 0.85; stroke: #000000; stroke-width: 0.85"/>
      </g>
     </g>
     <g id="line2d_146">
      <g>
       <path d="M 0 0 L -2.6 0" transform="translate(982.728 582.439)" style="stroke: #000000; stroke-width: 0.85; stroke: #000000; stroke-width: 0.85"/>
      </g>
     </g>
    </g>
    <g id="ytick_33">
     <g id="line2d_147">
      <g>
       <path d="M 0 0 L 2.6 0" transform="translate(126.576 569.058)" style="stroke: #000000; stroke-width: 0.85; stroke: #000000; stroke-width: 0.85"/>
      </g>
     </g>
     <g id="line2d_148">
      <g>
       <path d="M 0 0 L -2.6 0" transform="translate(982.728 569.058)" style="stroke: #000000; stroke-width: 0.85; stroke: #000000; stroke-width: 0.85"/>
      </g>
     </g>
    </g>
    <g id="ytick_34">
     <g id="line2d_149">
      <g>
       <path d="M 0 0 L 2.6 0" transform="translate(126.576 555.677)" style="stroke: #000000; stroke-width: 0.85; stroke: #000000; stroke-width: 0.85"/>
      </g>
     </g>
     <g id="line2d_150">
      <g>
       <path d="M 0 0 L -2.6 0" transform="translate(982.728 555.677)" style="stroke: #000000; stroke-width: 0.85; stroke: #000000; stroke-width: 0.85"/>
      </g>
     </g>
    </g>
    <g id="ytick_35">
     <g id="line2d_151">
      <g>
       <path d="M 0 0 L 2.6 0" transform="translate(126.576 542.296)" style="stroke: #000000; stroke-width: 0.85; stroke: #000000; stroke-width: 0.85"/>
      </g>
     </g>
     <g id="line2d_152">
      <g>
       <path d="M 0 0 L -2.6 0" transform="translate(982.728 542.296)" style="stroke: #000000; stroke-width: 0.85; stroke: #000000; stroke-width: 0.85"/>
      </g>
     </g>
    </g>
    <g id="ytick_36">
     <g id="line2d_153">
      <g>
       <path d="M 0 0 L 2.6 0" transform="translate(126.576 515.534)" style="stroke: #000000; stroke-width: 0.85; stroke: #000000; stroke-width: 0.85"/>
      </g>
     </g>
     <g id="line2d_154">
      <g>
       <path d="M 0 0 L -2.6 0" transform="translate(982.728 515.534)" style="stroke: #000000; stroke-width: 0.85; stroke: #000000; stroke-width: 0.85"/>
      </g>
     </g>
    </g>
    <g id="ytick_37">
     <g id="line2d_155">
      <g>
       <path d="M 0 0 L 2.6 0" transform="translate(126.576 502.152)" style="stroke: #000000; stroke-width: 0.85; stroke: #000000; stroke-width: 0.85"/>
      </g>
     </g>
     <g id="line2d_156">
      <g>
       <path d="M 0 0 L -2.6 0" transform="translate(982.728 502.152)" style="stroke: #000000; stroke-width: 0.85; stroke: #000000; stroke-width: 0.85"/>
      </g>
     </g>
    </g>
    <g id="ytick_38">
     <g id="line2d_157">
      <g>
       <path d="M 0 0 L 2.6 0" transform="translate(126.576 488.771)" style="stroke: #000000; stroke-width: 0.85; stroke: #000000; stroke-width: 0.85"/>
      </g>
     </g>
     <g id="line2d_158">
      <g>
       <path d="M 0 0 L -2.6 0" transform="translate(982.728 488.771)" style="stroke: #000000; stroke-width: 0.85; stroke: #000000; stroke-width: 0.85"/>
      </g>
     </g>
    </g>
    <g id="ytick_39">
     <g id="line2d_159">
      <g>
       <path d="M 0 0 L 2.6 0" transform="translate(126.576 475.39)" style="stroke: #000000; stroke-width: 0.85; stroke: #000000; stroke-width: 0.85"/>
      </g>
     </g>
     <g id="line2d_160">
      <g>
       <path d="M 0 0 L -2.6 0" transform="translate(982.728 475.39)" style="stroke: #000000; stroke-width: 0.85; stroke: #000000; stroke-width: 0.85"/>
      </g>
     </g>
    </g>
    <g id="ytick_40">
     <g id="line2d_161">
      <g>
       <path d="M 0 0 L 2.6 0" transform="translate(126.576 448.628)" style="stroke: #000000; stroke-width: 0.85; stroke: #000000; stroke-width: 0.85"/>
      </g>
     </g>
     <g id="line2d_162">
      <g>
       <path d="M 0 0 L -2.6 0" transform="translate(982.728 448.628)" style="stroke: #000000; stroke-width: 0.85; stroke: #000000; stroke-width: 0.85"/>
      </g>
     </g>
    </g>
    <g id="ytick_41">
     <g id="line2d_163">
      <g>
       <path d="M 0 0 L 2.6 0" transform="translate(126.576 435.247)" style="stroke: #000000; stroke-width: 0.85; stroke: #000000; stroke-width: 0.85"/>
      </g>
     </g>
     <g id="line2d_164">
      <g>
       <path d="M 0 0 L -2.6 0" transform="translate(982.728 435.247)" style="stroke: #000000; stroke-width: 0.85; stroke: #000000; stroke-width: 0.85"/>
      </g>
     </g>
    </g>
    <g id="ytick_42">
     <g id="line2d_165">
      <g>
       <path d="M 0 0 L 2.6 0" transform="translate(126.576 421.866)" style="stroke: #000000; stroke-width: 0.85; stroke: #000000; stroke-width: 0.85"/>
      </g>
     </g>
     <g id="line2d_166">
      <g>
       <path d="M 0 0 L -2.6 0" transform="translate(982.728 421.866)" style="stroke: #000000; stroke-width: 0.85; stroke: #000000; stroke-width: 0.85"/>
      </g>
     </g>
    </g>
    <g id="ytick_43">
     <g id="line2d_167">
      <g>
       <path d="M 0 0 L 2.6 0" transform="translate(126.576 408.485)" style="stroke: #000000; stroke-width: 0.85; stroke: #000000; stroke-width: 0.85"/>
      </g>
     </g>
     <g id="line2d_168">
      <g>
       <path d="M 0 0 L -2.6 0" transform="translate(982.728 408.485)" style="stroke: #000000; stroke-width: 0.85; stroke: #000000; stroke-width: 0.85"/>
      </g>
     </g>
    </g>
    <g id="ytick_44">
     <g id="line2d_169">
      <g>
       <path d="M 0 0 L 2.6 0" transform="translate(126.576 381.722)" style="stroke: #000000; stroke-width: 0.85; stroke: #000000; stroke-width: 0.85"/>
      </g>
     </g>
     <g id="line2d_170">
      <g>
       <path d="M 0 0 L -2.6 0" transform="translate(982.728 381.722)" style="stroke: #000000; stroke-width: 0.85; stroke: #000000; stroke-width: 0.85"/>
      </g>
     </g>
    </g>
    <g id="ytick_45">
     <g id="line2d_171">
      <g>
       <path d="M 0 0 L 2.6 0" transform="translate(126.576 368.341)" style="stroke: #000000; stroke-width: 0.85; stroke: #000000; stroke-width: 0.85"/>
      </g>
     </g>
     <g id="line2d_172">
      <g>
       <path d="M 0 0 L -2.6 0" transform="translate(982.728 368.341)" style="stroke: #000000; stroke-width: 0.85; stroke: #000000; stroke-width: 0.85"/>
      </g>
     </g>
    </g>
    <g id="ytick_46">
     <g id="line2d_173">
      <g>
       <path d="M 0 0 L 2.6 0" transform="translate(126.576 354.96)" style="stroke: #000000; stroke-width: 0.85; stroke: #000000; stroke-width: 0.85"/>
      </g>
     </g>
     <g id="line2d_174">
      <g>
       <path d="M 0 0 L -2.6 0" transform="translate(982.728 354.96)" style="stroke: #000000; stroke-width: 0.85; stroke: #000000; stroke-width: 0.85"/>
      </g>
     </g>
    </g>
    <g id="text_16">
     <!-- $r_dh[Mpc]$ -->
     <g transform="translate(64.066 595.764) rotate(-90)">
      <text transform="translate(-0.651 -0.339) scale(1.1583 0.9617)" style="font-size: 32.4px; font-family: 'Liberation Serif', serif; font-style: italic; stroke: #ffffff; stroke-width: 0.262; stroke-linejoin: round">r</text><text transform="translate(28.821 -0.339) scale(1.1734 1.0162)" style="font-size: 32.4px; font-family: 'Liberation Serif', serif; font-style: italic; stroke: #ffffff; stroke-width: 0.248; stroke-linejoin: round">h</text><text transform="translate(57.858 -0.703) scale(1.1283 1.0433)" style="font-size: 32.4px; font-family: 'Liberation Serif', serif; font-style: italic; stroke: #ffffff; stroke-width: 0.242; stroke-linejoin: round">M</text><text transform="translate(88.307 -0.833) scale(0.9945 0.9293)" style="font-size: 32.4px; font-family: 'Liberation Serif', serif; font-style: italic; stroke: #ffffff; stroke-width: 0.271; stroke-linejoin: round">p</text><text transform="translate(104.148 -0.637) scale(0.9697 0.9421)" style="font-size: 32.4px; font-family: 'Liberation Serif', serif; font-style: italic; stroke: #ffffff; stroke-width: 0.267; stroke-linejoin: round">c</text><text transform="translate(14.778 4.829) scale(1.0186 1.0014)" style="font-size: 22.68px; font-family: 'Liberation Serif', serif; font-style: italic">d</text><text transform="translate(49.485 2.159) scale(0.614 1.2083)" style="font-size: 32.4px; font-family: 'Liberation Serif', serif; stroke: #ffffff; stroke-width: 0.209; stroke-linejoin: round">[</text><text transform="translate(117.804 2.159) scale(0.6162 1.2083)" style="font-size: 32.4px; font-family: 'Liberation Serif', serif; stroke: #ffffff; stroke-width: 0.209; stroke-linejoin: round">]</text>
     </g>
    </g>
   </g>
   <g id="LineCollection_3">
    <path d="M 297.8064 677.445283 
L 615.805714 677.445283 
" clip-path="url(#p4e50c6712b)" style="fill: none; stroke-dasharray: 1.92,3.168; stroke-dashoffset: 0; stroke: #ff0000; stroke-width: 1.92"/>
   </g>
   <g id="line2d_175">
    <g clip-path="url(#p4e50c6712b)">
     <path d="M 0 5 L 0 -5" transform="translate(297.806 677.445)" style="fill: #1f77b4; stroke: #ff0000; stroke-width: 1.4; stroke: #ff0000; stroke-width: 1.4"/>
    </g>
   </g>
   <g id="line2d_176">
    <g clip-path="url(#p4e50c6712b)">
     <path d="M 0 5 L 0 -5" transform="translate(615.806 677.445)" style="fill: #1f77b4; stroke: #ff0000; stroke-width: 1.4; stroke: #ff0000; stroke-width: 1.4"/>
    </g>
   </g>
   <g id="LineCollection_4">
    <path d="M 456.806057 690.826415 
L 456.806057 664.064151 
" clip-path="url(#p4e50c6712b)" style="fill: none; stroke-dasharray: 1.92,3.168; stroke-dashoffset: 0; stroke: #ff0000; stroke-width: 1.92"/>
   </g>
   <g id="line2d_177">
    <g clip-path="url(#p4e50c6712b)">
     <path d="M 5 0 L -5 -0" transform="translate(456.806 690.826)" style="fill: #1f77b4; stroke: #ff0000; stroke-width: 1.4; stroke: #ff0000; stroke-width: 1.4"/>
    </g>
   </g>
   <g id="line2d_178">
    <g clip-path="url(#p4e50c6712b)">
     <path d="M 5 0 L -5 -0" transform="translate(456.806 664.064)" style="fill: #1f77b4; stroke: #ff0000; stroke-width: 1.4; stroke: #ff0000; stroke-width: 1.4"/>
    </g>
   </g>
   <g id="PathCollection_1">
    <g clip-path="url(#p4e50c6712b)">
     <path d="M 0 6.5 C 1.72382 6.5 3.377269 5.815119 4.596194 4.596194 C 5.815119 3.377269 6.5 1.72382 6.5 0 C 6.5 -1.72382 5.815119 -3.377269 4.596194 -4.596194 C 3.377269 -5.815119 1.72382 -6.5 0 -6.5 C -1.72382 -6.5 -3.377269 -5.815119 -4.596194 -4.596194 C -5.815119 -3.377269 -6.5 -1.72382 -6.5 0 C -6.5 1.72382 -5.815119 3.377269 -4.596194 4.596194 C -3.377269 5.815119 -1.72382 6.5 0 6.5 z" transform="translate(456.806 677.445)" style="fill: #ff0000; stroke: #ff0000; stroke: #ff0000"/>
    </g>
   </g>
   <g id="PathCollection_2">
    <g clip-path="url(#p4e50c6712b)">
     <path d="M -0 6.5 L 6.5 -6.5 L -6.5 -6.5 z" transform="translate(432.345 577.087)" style="fill: #ff00ff; stroke: #ff00ff; stroke: #ff00ff"/>
    </g>
   </g>
   <g id="PathCollection_3">
    <g clip-path="url(#p4e50c6712b)">
     <path d="M 0 -6.5 L -6.5 6.5 L 6.5 6.5 z" transform="translate(322.268 569.058)" style="fill: #d2691e; stroke: #d2691e; stroke: #d2691e"/>
    </g>
   </g>
   <g id="PathCollection_4">
    <g clip-path="url(#p4e50c6712b)">
     <path d="M -6.5 -0 L 6.5 6.5 L 6.5 -6.5 z" transform="translate(383.422 686.812)" style="fill: #ff8c00; stroke: #ff8c00; stroke: #ff8c00"/>
    </g>
   </g>
   <g id="PathCollection_5">
    <g clip-path="url(#p4e50c6712b)">
     <path d="M -0 9.192388 L 9.192388 0 L 0 -9.192388 L -9.192388 -0 z" transform="translate(432.345 407.146)" style="fill: #008000; stroke: #008000; stroke: #008000"/>
    </g>
   </g>
   <g id="PathCollection_6">
    <g clip-path="url(#p4e50c6712b)">
     <path d="M -0 9.192388 L 5.515433 0 L 0 -9.192388 L -5.515433 -0 z" transform="translate(628.036 480.743)" style="fill: #00bfff; stroke: #00bfff; stroke: #00bfff"/>
    </g>
   </g>
   <g id="PathCollection_7">
    <g clip-path="url(#p4e50c6712b)">
     <path d="M -3.25 -5.629165 L -6.5 -0 L -3.25 5.629165 L 3.25 5.629165 L 6.5 0 L 3.25 -5.629165 z" transform="translate(432.345 490.109)" style="fill: #800080; stroke: #800080; stroke: #800080"/>
    </g>
   </g>
   <g id="PathCollection_8">
    <g clip-path="url(#p4e50c6712b)">
     <path d="M -6.5 6.5 L 6.5 6.5 L 6.5 -6.5 L -6.5 -6.5 z" transform="translate(310.037 507.505)" style="stroke: #000000; stroke: #000000"/>
    </g>
   </g>
   <g id="PathCollection_9">
    <g clip-path="url(#p4e50c6712b)">
     <path d="M -0 6.5 L 6.5 -6.5 L -6.5 -6.5 z" transform="translate(469.037 581.101)" style="fill: #ff69b4; stroke: #ff69b4; stroke: #ff69b4"/>
    </g>
   </g>
   <g id="PathCollection_10">
    <g clip-path="url(#p4e50c6712b)">
     <path d="M 0 -6.5 L -6.5 6.5 L 6.5 6.5 z" transform="translate(517.96 591.806)" style="fill: #8b4513; stroke: #8b4513; stroke: #8b4513"/>
    </g>
   </g>
   <g id="PathCollection_11">
    <g clip-path="url(#p4e50c6712b)">
     <path d="M 0 -6.5 L -1.459341 -2.00861 L -6.181867 -2.00861 L -2.361263 0.767221 L -3.820604 5.25861 L -0 2.482779 L 3.820604 5.25861 L 2.361263 0.767221 L 6.181867 -2.00861 L 1.459341 -2.00861 z" transform="translate(395.652 654.697)" style="fill: #000080; stroke: #000080; stroke: #000080"/>
    </g>
   </g>
   <g id="PathCollection_12">
    <g clip-path="url(#p4e50c6712b)">
     <path d="M -0 9.192388 L 9.192388 0 L 0 -9.192388 L -9.192388 -0 z" transform="translate(407.883 527.577)" style="fill: #32cd32; stroke: #32cd32; stroke: #32cd32"/>
    </g>
   </g>
   <g id="PathCollection_13">
    <g clip-path="url(#p4e50c6712b)">
     <path d="M -0 9.192388 L 5.515433 0 L 0 -9.192388 L -5.515433 -0 z" transform="translate(811.498 542.296)" style="fill: #20b2aa; stroke: #20b2aa; stroke: #20b2aa"/>
    </g>
   </g>
   <g id="PathCollection_14">
    <g clip-path="url(#p4e50c6712b)">
     <path d="M -3.25 -5.629165 L -6.5 -0 L -3.25 5.629165 L 3.25 5.629165 L 6.5 0 L 3.25 -5.629165 z" transform="translate(579.113 554.339)" style="fill: #800000; stroke: #800000; stroke: #800000"/>
    </g>
   </g>
   <g id="PathCollection_15">
    <g clip-path="url(#p4e50c6712b)">
     <path d="M -6.5 6.5 L 6.5 6.5 L 6.5 -6.5 L -6.5 -6.5 z" transform="translate(640.267 559.691)" style="fill: #808080; stroke: #808080; stroke: #808080"/>
    </g>
   </g>
   <g id="text_17">
    <text style="font-size: 32px; font-family: 'DejaVu Sans', sans-serif; text-anchor: end" x="972.331869" y="674.769057" transform="rotate(-0 972.331869 674.769057)">BAO</text>
   </g>
   <g id="patch_10">
    <path d="M 297.8064 709.56 
L 615.805714 709.56 
L 615.805714 354.96 
L 297.8064 354.96 
z
" clip-path="url(#p4e50c6712b)" style="fill: #ffff00; opacity: 0.1"/>
   </g>
   <g id="line2d_179">
    <g clip-path="url(#p4e50c6712b)">
     <path d="M 0 4.4 C 1.166894 4.4 2.286151 3.936388 3.11127 3.11127 C 3.936388 2.286151 4.4 1.166894 4.4 0 C 4.4 -1.166894 3.936388 -2.286151 3.11127 -3.11127 C 2.286151 -3.936388 1.166894 -4.4 0 -4.4 C -1.166894 -4.4 -2.286151 -3.936388 -3.11127 -3.11127 C -3.936388 -2.286151 -4.4 -1.166894 -4.4 0 C -4.4 1.166894 -3.936388 2.286151 -3.11127 3.11127 C -2.286151 3.936388 -1.166894 4.4 0 4.4 z" transform="translate(456.806 677.445)" style="fill: #ff0000"/>
    </g>
   </g>
   <g id="patch_11">
    <path d="M 126.576 709.56 
L 126.576 354.96 
" style="fill: none; stroke: #000000; stroke-width: 1.25; stroke-linejoin: miter; stroke-linecap: square"/>
   </g>
   <g id="patch_12">
    <path d="M 982.728 709.56 
L 982.728 354.96 
" style="fill: none; stroke: #000000; stroke-width: 1.25; stroke-linejoin: miter; stroke-linecap: square"/>
   </g>
   <g id="patch_13">
    <path d="M 126.576 709.56 
L 982.728 709.56 
" style="fill: none; stroke: #000000; stroke-width: 1.25; stroke-linejoin: miter; stroke-linecap: square"/>
   </g>
  </g>
  <g id="legend_1">
   <g id="patch_14">
    <path d="M 4.1496 1396.0962 
L 1075.9896 1396.0962 
Q 1079.4696 1396.0962 1079.4696 1392.6162 
L 1079.4696 829.536 
Q 1079.4696 826.056 1075.9896 826.056 
L 4.1496 826.056 
Q 0.6696 826.056 0.6696 829.536 
L 0.6696 1392.6162 
Q 0.6696 1396.0962 4.1496 1396.0962 
z
" style="fill: #ffffff; stroke: #cccccc; stroke-width: 1.3; stroke-linejoin: miter"/>
   </g>
   <g id="line2d_180">
    <g>
     <path d="M 0 8.75 C 2.320527 8.75 4.546324 7.828045 6.187184 6.187184 C 7.828045 4.546324 8.75 2.320527 8.75 0 C 8.75 -2.320527 7.828045 -4.546324 6.187184 -6.187184 C 4.546324 -7.828045 2.320527 -8.75 0 -8.75 C -2.320527 -8.75 -4.546324 -7.828045 -6.187184 -6.187184 C -7.828045 -4.546324 -8.75 -2.320527 -8.75 0 C -8.75 2.320527 -7.828045 4.546324 -6.187184 6.187184 C -4.546324 7.828045 -2.320527 8.75 0 8.75 z" transform="translate(27.118 861.636)" style="fill: #ff0000"/>
    </g>
   </g>
   <g id="text_18">
    <!-- $\Lambda$CDM, Aghanim et al. (2020), Planck 2018: $H_0=67.27\pm0.60$, $r_dh=98.9\pm1.0$, $\Omega_mh^2=0.1432\pm0.0013$ -->
    <g transform="translate(41.0376 866.79)">
     <text><tspan x="12.066437" y="-0.237366" style="font-size: 17.4px; font-family: 'DejaVu Sans', sans-serif">C</tspan><tspan x="24.198395" y="-0.237366" style="font-size: 17.4px; font-family: 'DejaVu Sans', sans-serif">D</tspan><tspan x="37.577484" y="-0.237366" style="font-size: 17.4px; font-family: 'DejaVu Sans', sans-serif">M</tspan><tspan x="52.568512" y="-0.237366" style="font-size: 17.4px; font-family: 'DejaVu Sans', sans-serif">,</tspan><tspan x="58.091522" y="-0.237366" style="font-size: 17.4px; font-family: 'DejaVu Sans', sans-serif"> </tspan><tspan x="63.614532" y="-0.237366" style="font-size: 17.4px; font-family: 'DejaVu Sans', sans-serif">A</tspan><tspan x="75.500458" y="-0.237366" style="font-size: 17.4px; font-family: 'DejaVu Sans', sans-serif">g</tspan><tspan x="86.52951" y="-0.237366" style="font-size: 17.4px; font-family: 'DejaVu Sans', sans-serif">h</tspan><tspan x="97.541595" y="-0.237366" style="font-size: 17.4px; font-family: 'DejaVu Sans', sans-serif">a</tspan><tspan x="108.188873" y="-0.237366" style="font-size: 17.4px; font-family: 'DejaVu Sans', sans-serif">n</tspan><tspan x="119.200958" y="-0.237366" style="font-size: 17.4px; font-family: 'DejaVu Sans', sans-serif">i</tspan><tspan x="124.02829" y="-0.237366" style="font-size: 17.4px; font-family: 'DejaVu Sans', sans-serif">m</tspan><tspan x="140.953644" y="-0.237366" style="font-size: 17.4px; font-family: 'DejaVu Sans', sans-serif"> </tspan><tspan x="146.476654" y="-0.237366" style="font-size: 17.4px; font-family: 'DejaVu Sans', sans-serif">e</tspan><tspan x="157.166351" y="-0.237366" style="font-size: 17.4px; font-family: 'DejaVu Sans', sans-serif">t</tspan><tspan x="163.978912" y="-0.237366" style="font-size: 17.4px; font-family: 'DejaVu Sans', sans-serif"> </tspan><tspan x="169.501923" y="-0.237366" style="font-size: 17.4px; font-family: 'DejaVu Sans', sans-serif">a</tspan><tspan x="180.1492" y="-0.237366" style="font-size: 17.4px; font-family: 'DejaVu Sans', sans-serif">l</tspan><tspan x="184.976532" y="-0.237366" style="font-size: 17.4px; font-family: 'DejaVu Sans', sans-serif">.</tspan><tspan x="190.499542" y="-0.237366" style="font-size: 17.4px; font-family: 'DejaVu Sans', sans-serif"> </tspan><tspan x="196.022552" y="-0.237366" style="font-size: 17.4px; font-family: 'DejaVu Sans', sans-serif">(</tspan><tspan x="202.801178" y="-0.237366" style="font-size: 17.4px; font-family: 'DejaVu Sans', sans-serif">2</tspan><tspan x="213.855682" y="-0.237366" style="font-size: 17.4px; font-family: 'DejaVu Sans', sans-serif">0</tspan><tspan x="224.910187" y="-0.237366" style="font-size: 17.4px; font-family: 'DejaVu Sans', sans-serif">2</tspan><tspan x="235.964691" y="-0.237366" style="font-size: 17.4px; font-family: 'DejaVu Sans', sans-serif">0</tspan><tspan x="247.019196" y="-0.237366" style="font-size: 17.4px; font-family: 'DejaVu Sans', sans-serif">)</tspan><tspan x="253.797821" y="-0.237366" style="font-size: 17.4px; font-family: 'DejaVu Sans', sans-serif">,</tspan><tspan x="259.320831" y="-0.237366" style="font-size: 17.4px; font-family: 'DejaVu Sans', sans-serif"> </tspan><tspan x="264.843842" y="-0.237366" style="font-size: 17.4px; font-family: 'DejaVu Sans', sans-serif">P</tspan><tspan x="275.321442" y="-0.237366" style="font-size: 17.4px; font-family: 'DejaVu Sans', sans-serif">l</tspan><tspan x="280.148773" y="-0.237366" style="font-size: 17.4px; font-family: 'DejaVu Sans', sans-serif">a</tspan><tspan x="290.796051" y="-0.237366" style="font-size: 17.4px; font-family: 'DejaVu Sans', sans-serif">n</tspan><tspan x="301.808136" y="-0.237366" style="font-size: 17.4px; font-family: 'DejaVu Sans', sans-serif">c</tspan><tspan x="311.360992" y="-0.237366" style="font-size: 17.4px; font-family: 'DejaVu Sans', sans-serif">k</tspan><tspan x="321.422882" y="-0.237366" style="font-size: 17.4px; font-family: 'DejaVu Sans', sans-serif"> </tspan><tspan x="326.945892" y="-0.237366" style="font-size: 17.4px; font-family: 'DejaVu Sans', sans-serif">2</tspan><tspan x="338.000397" y="-0.237366" style="font-size: 17.4px; font-family: 'DejaVu Sans', sans-serif">0</tspan><tspan x="349.054901" y="-0.237366" style="font-size: 17.4px; font-family: 'DejaVu Sans', sans-serif">1</tspan><tspan x="360.109406" y="-0.237366" style="font-size: 17.4px; font-family: 'DejaVu Sans', sans-serif">8</tspan><tspan x="371.16391" y="-0.237366" style="font-size: 17.4px; font-family: 'DejaVu Sans', sans-serif">:</tspan><tspan x="377.017792" y="-0.237366" style="font-size: 17.4px; font-family: 'DejaVu Sans', sans-serif"> </tspan><tspan x="513.920476" y="-0.237366" style="font-size: 17.4px; font-family: 'DejaVu Sans', sans-serif">,</tspan><tspan x="519.443487" y="-0.237366" style="font-size: 17.4px; font-family: 'DejaVu Sans', sans-serif"> </tspan><tspan x="642.612837" y="-0.237366" style="font-size: 17.4px; font-family: 'DejaVu Sans', sans-serif">,</tspan><tspan x="648.135847" y="-0.237366" style="font-size: 17.4px; font-family: 'DejaVu Sans', sans-serif"> </tspan></text><text transform="translate(0.409 -0.237) scale(0.892 1.0843)" style="font-size: 17.4px; font-family: 'Liberation Serif', serif">Λ</text><text transform="translate(406.982 0.829) scale(1.4292 0.9375)" style="font-size: 17.4px; font-family: 'Liberation Serif', serif">=</text><text transform="translate(423.811 -0.029) scale(0.9714 1.024)" style="font-size: 17.4px; font-family: 'Liberation Serif', serif">6</text><text transform="translate(432.266 0.145) scale(1.0578 1.0656)" style="font-size: 17.4px; font-family: 'Liberation Serif', serif">7</text><text transform="translate(446.117 -0.237) scale(0.9963 1.0059)" style="font-size: 17.4px; font-family: 'Liberation Serif', serif">2</text><text transform="translate(454.471 0.145) scale(1.0578 1.0656)" style="font-size: 17.4px; font-family: 'Liberation Serif', serif">7</text><text transform="translate(483.041 -0.028) scale(0.9931 1.0195)" style="font-size: 17.4px; font-family: 'Liberation Serif', serif">0</text><text transform="translate(496.534 -0.029) scale(0.9714 1.024)" style="font-size: 17.4px; font-family: 'Liberation Serif', serif">6</text><text transform="translate(505.247 -0.028) scale(0.9931 1.0195)" style="font-size: 17.4px; font-family: 'Liberation Serif', serif">0</text><text transform="translate(553.065 0.829) scale(1.4292 0.9375)" style="font-size: 17.4px; font-family: 'Liberation Serif', serif">=</text><text transform="translate(570.075 -0.029) scale(0.9725 1.024)" style="font-size: 17.4px; font-family: 'Liberation Serif', serif">9</text><text transform="translate(578.667 -0.028) scale(0.9793 1.0195)" style="font-size: 17.4px; font-family: 'Liberation Serif', serif">8</text><text transform="translate(592.28 -0.029) scale(0.9725 1.024)" style="font-size: 17.4px; font-family: 'Liberation Serif', serif">9</text><text transform="translate(620.469 -0.237) scale(0.9487 1.0089)" style="font-size: 17.4px; font-family: 'Liberation Serif', serif">1</text><text transform="translate(633.939 -0.028) scale(0.9931 1.0195)" style="font-size: 17.4px; font-family: 'Liberation Serif', serif">0</text><text transform="translate(653.533 -0.237) scale(0.9893 1.0649)" style="font-size: 17.4px; font-family: 'Liberation Serif', serif">Ω</text><text transform="translate(700.815 0.829) scale(1.4292 0.9375)" style="font-size: 17.4px; font-family: 'Liberation Serif', serif">=</text><text transform="translate(717.662 -0.028) scale(0.9931 1.0195)" style="font-size: 17.4px; font-family: 'Liberation Serif', serif">0</text><text transform="translate(731.212 -0.237) scale(0.9487 1.0089)" style="font-size: 17.4px; font-family: 'Liberation Serif', serif">1</text><text transform="translate(740.006 -0.237) scale(0.9538 1.0119)" style="font-size: 17.4px; font-family: 'Liberation Serif', serif">4</text><text transform="translate(748.435 -0.029) scale(1.0047 1.024)" style="font-size: 17.4px; font-family: 'Liberation Serif', serif">3</text><text transform="translate(757.341 -0.237) scale(0.9963 1.0059)" style="font-size: 17.4px; font-family: 'Liberation Serif', serif">2</text><text transform="translate(785.57 -0.028) scale(0.9931 1.0195)" style="font-size: 17.4px; font-family: 'Liberation Serif', serif">0</text><text transform="translate(799.08 -0.028) scale(0.9931 1.0195)" style="font-size: 17.4px; font-family: 'Liberation Serif', serif">0</text><text transform="translate(807.776 -0.028) scale(0.9931 1.0195)" style="font-size: 17.4px; font-family: 'Liberation Serif', serif">0</text><text transform="translate(816.511 -0.237) scale(0.9487 1.0089)" style="font-size: 17.4px; font-family: 'Liberation Serif', serif">1</text><text transform="translate(825.039 -0.029) scale(1.0047 1.024)" style="font-size: 17.4px; font-family: 'Liberation Serif', serif">3</text><text transform="translate(383.39 -0.237) scale(1.0873 1.0433)" style="font-size: 17.4px; font-family: 'Liberation Serif', serif; font-style: italic">H</text><text transform="translate(441.987 -0.466) scale(0.9298 0.9298)" style="font-size: 17.4px; font-family: 'Liberation Serif', serif; font-style: italic">.</text><text transform="translate(492.505 -0.466) scale(0.9298 0.9298)" style="font-size: 17.4px; font-family: 'Liberation Serif', serif; font-style: italic">.</text><text transform="translate(524.617 -0.042) scale(1.1583 0.9617)" style="font-size: 17.4px; font-family: 'Liberation Serif', serif; font-style: italic">r</text><text transform="translate(540.441 -0.042) scale(1.1734 1.0162)" style="font-size: 17.4px; font-family: 'Liberation Serif', serif; font-style: italic">h</text><text transform="translate(588.07 -0.466) scale(0.9298 0.9298)" style="font-size: 17.4px; font-family: 'Liberation Serif', serif; font-style: italic">.</text><text transform="translate(629.893 -0.466) scale(0.9298 0.9298)" style="font-size: 17.4px; font-family: 'Liberation Serif', serif; font-style: italic">.</text><text transform="translate(678.98 -0.042) scale(1.1734 1.0162)" style="font-size: 17.4px; font-family: 'Liberation Serif', serif; font-style: italic">h</text><text transform="translate(727.126 -0.466) scale(0.9298 0.9298)" style="font-size: 17.4px; font-family: 'Liberation Serif', serif; font-style: italic">.</text><text transform="translate(795.034 -0.466) scale(0.9298 0.9298)" style="font-size: 17.4px; font-family: 'Liberation Serif', serif; font-style: italic">.</text><text transform="translate(397.008 2.868) scale(0.9931 1.0195)" style="font-size: 12.18px; font-family: 'Liberation Serif', serif">0</text><text transform="translate(690.9 -6.895) scale(0.9963 1.0059)" style="font-size: 12.18px; font-family: 'Liberation Serif', serif">2</text><text transform="translate(466.401 -0.237) scale(1.4292 1.1789)" style="font-size: 17.4px; font-family: 'Liberation Serif', serif">±</text><text transform="translate(603.789 -0.237) scale(1.4292 1.1789)" style="font-size: 17.4px; font-family: 'Liberation Serif', serif">±</text><text transform="translate(768.93 -0.237) scale(1.4292 1.1789)" style="font-size: 17.4px; font-family: 'Liberation Serif', serif">±</text><text transform="translate(532.901 2.733) scale(1.0186 1.0014)" style="font-size: 12.18px; font-family: 'Liberation Serif', serif; font-style: italic">d</text><text transform="translate(666.758 2.859) scale(1.2798 0.9617)" style="font-size: 12.18px; font-family: 'Liberation Serif', serif; font-style: italic">m</text>
    </g>
   </g>
   <g id="line2d_181">
    <g>
     <path d="M -0 9.1875 L 9.1875 -9.1875 L -9.1875 -9.1875 z" transform="translate(27.118 891.199)" style="fill: #ff00ff"/>
    </g>
   </g>
   <g id="text_19">
    <!-- PEDE, Yang et al. (2020), Planck 2018: $H_0=72.35$, $r_dh=106.4$, $\Omega_mh^2=0.1430$ -->
    <g transform="translate(41.0376 896.3526)">
     <text><tspan x="0" y="-0.237366" style="font-size: 17.4px; font-family: 'DejaVu Sans', sans-serif">P</tspan><tspan x="10.4776" y="-0.237366" style="font-size: 17.4px; font-family: 'DejaVu Sans', sans-serif">E</tspan><tspan x="21.45575" y="-0.237366" style="font-size: 17.4px; font-family: 'DejaVu Sans', sans-serif">D</tspan><tspan x="34.834839" y="-0.237366" style="font-size: 17.4px; font-family: 'DejaVu Sans', sans-serif">E</tspan><tspan x="45.812988" y="-0.237366" style="font-size: 17.4px; font-family: 'DejaVu Sans', sans-serif">,</tspan><tspan x="51.335999" y="-0.237366" style="font-size: 17.4px; font-family: 'DejaVu Sans', sans-serif"> </tspan><tspan x="56.859009" y="-0.237366" style="font-size: 17.4px; font-family: 'DejaVu Sans', sans-serif">Y</tspan><tspan x="67.472351" y="-0.237366" style="font-size: 17.4px; font-family: 'DejaVu Sans', sans-serif">a</tspan><tspan x="78.119629" y="-0.237366" style="font-size: 17.4px; font-family: 'DejaVu Sans', sans-serif">n</tspan><tspan x="89.131714" y="-0.237366" style="font-size: 17.4px; font-family: 'DejaVu Sans', sans-serif">g</tspan><tspan x="100.160767" y="-0.237366" style="font-size: 17.4px; font-family: 'DejaVu Sans', sans-serif"> </tspan><tspan x="105.683777" y="-0.237366" style="font-size: 17.4px; font-family: 'DejaVu Sans', sans-serif">e</tspan><tspan x="116.373474" y="-0.237366" style="font-size: 17.4px; font-family: 'DejaVu Sans', sans-serif">t</tspan><tspan x="123.186035" y="-0.237366" style="font-size: 17.4px; font-family: 'DejaVu Sans', sans-serif"> </tspan><tspan x="128.709045" y="-0.237366" style="font-size: 17.4px; font-family: 'DejaVu Sans', sans-serif">a</tspan><tspan x="139.356323" y="-0.237366" style="font-size: 17.4px; font-family: 'DejaVu Sans', sans-serif">l</tspan><tspan x="144.183655" y="-0.237366" style="font-size: 17.4px; font-family: 'DejaVu Sans', sans-serif">.</tspan><tspan x="149.706665" y="-0.237366" style="font-size: 17.4px; font-family: 'DejaVu Sans', sans-serif"> </tspan><tspan x="155.229675" y="-0.237366" style="font-size: 17.4px; font-family: 'DejaVu Sans', sans-serif">(</tspan><tspan x="162.008301" y="-0.237366" style="font-size: 17.4px; font-family: 'DejaVu Sans', sans-serif">2</tspan><tspan x="173.062805" y="-0.237366" style="font-size: 17.4px; font-family: 'DejaVu Sans', sans-serif">0</tspan><tspan x="184.11731" y="-0.237366" style="font-size: 17.4px; font-family: 'DejaVu Sans', sans-serif">2</tspan><tspan x="195.171814" y="-0.237366" style="font-size: 17.4px; font-family: 'DejaVu Sans', sans-serif">0</tspan><tspan x="206.226318" y="-0.237366" style="font-size: 17.4px; font-family: 'DejaVu Sans', sans-serif">)</tspan><tspan x="213.004944" y="-0.237366" style="font-size: 17.4px; font-family: 'DejaVu Sans', sans-serif">,</tspan><tspan x="218.527954" y="-0.237366" style="font-size: 17.4px; font-family: 'DejaVu Sans', sans-serif"> </tspan><tspan x="224.050964" y="-0.237366" style="font-size: 17.4px; font-family: 'DejaVu Sans', sans-serif">P</tspan><tspan x="234.528564" y="-0.237366" style="font-size: 17.4px; font-family: 'DejaVu Sans', sans-serif">l</tspan><tspan x="239.355896" y="-0.237366" style="font-size: 17.4px; font-family: 'DejaVu Sans', sans-serif">a</tspan><tspan x="250.003174" y="-0.237366" style="font-size: 17.4px; font-family: 'DejaVu Sans', sans-serif">n</tspan><tspan x="261.015259" y="-0.237366" style="font-size: 17.4px; font-family: 'DejaVu Sans', sans-serif">c</tspan><tspan x="270.568115" y="-0.237366" style="font-size: 17.4px; font-family: 'DejaVu Sans', sans-serif">k</tspan><tspan x="280.630005" y="-0.237366" style="font-size: 17.4px; font-family: 'DejaVu Sans', sans-serif"> </tspan><tspan x="286.153015" y="-0.237366" style="font-size: 17.4px; font-family: 'DejaVu Sans', sans-serif">2</tspan><tspan x="297.20752" y="-0.237366" style="font-size: 17.4px; font-family: 'DejaVu Sans', sans-serif">0</tspan><tspan x="308.262024" y="-0.237366" style="font-size: 17.4px; font-family: 'DejaVu Sans', sans-serif">1</tspan><tspan x="319.316528" y="-0.237366" style="font-size: 17.4px; font-family: 'DejaVu Sans', sans-serif">8</tspan><tspan x="330.371033" y="-0.237366" style="font-size: 17.4px; font-family: 'DejaVu Sans', sans-serif">:</tspan><tspan x="336.224915" y="-0.237366" style="font-size: 17.4px; font-family: 'DejaVu Sans', sans-serif"> </tspan><tspan x="422.609887" y="-0.237366" style="font-size: 17.4px; font-family: 'DejaVu Sans', sans-serif">,</tspan><tspan x="428.132897" y="-0.237366" style="font-size: 17.4px; font-family: 'DejaVu Sans', sans-serif"> </tspan><tspan x="518.17516" y="-0.237366" style="font-size: 17.4px; font-family: 'DejaVu Sans', sans-serif">,</tspan><tspan x="523.69817" y="-0.237366" style="font-size: 17.4px; font-family: 'DejaVu Sans', sans-serif"> </tspan></text><text transform="translate(342.597 -0.237) scale(1.0873 1.0433)" style="font-size: 17.4px; font-family: 'Liberation Serif', serif; font-style: italic">H</text><text transform="translate(401.194 -0.466) scale(0.9298 0.9298)" style="font-size: 17.4px; font-family: 'Liberation Serif', serif; font-style: italic">.</text><text transform="translate(433.306 -0.042) scale(1.1583 0.9617)" style="font-size: 17.4px; font-family: 'Liberation Serif', serif; font-style: italic">r</text><text transform="translate(449.13 -0.042) scale(1.1734 1.0162)" style="font-size: 17.4px; font-family: 'Liberation Serif', serif; font-style: italic">h</text><text transform="translate(505.455 -0.466) scale(0.9298 0.9298)" style="font-size: 17.4px; font-family: 'Liberation Serif', serif; font-style: italic">.</text><text transform="translate(554.542 -0.042) scale(1.1734 1.0162)" style="font-size: 17.4px; font-family: 'Liberation Serif', serif; font-style: italic">h</text><text transform="translate(602.688 -0.466) scale(0.9298 0.9298)" style="font-size: 17.4px; font-family: 'Liberation Serif', serif; font-style: italic">.</text><text transform="translate(356.216 2.868) scale(0.9931 1.0195)" style="font-size: 12.18px; font-family: 'Liberation Serif', serif">0</text><text transform="translate(566.463 -6.895) scale(0.9963 1.0059)" style="font-size: 12.18px; font-family: 'Liberation Serif', serif">2</text><text transform="translate(366.189 0.829) scale(1.4292 0.9375)" style="font-size: 17.4px; font-family: 'Liberation Serif', serif">=</text><text transform="translate(382.778 0.145) scale(1.0578 1.0656)" style="font-size: 17.4px; font-family: 'Liberation Serif', serif">7</text><text transform="translate(391.814 -0.237) scale(0.9963 1.0059)" style="font-size: 17.4px; font-family: 'Liberation Serif', serif">2</text><text transform="translate(405.113 -0.029) scale(1.0047 1.024)" style="font-size: 17.4px; font-family: 'Liberation Serif', serif">3</text><text transform="translate(413.779 -0.031) scale(0.9915 1.0353)" style="font-size: 17.4px; font-family: 'Liberation Serif', serif">5</text><text transform="translate(461.754 0.829) scale(1.4292 0.9375)" style="font-size: 17.4px; font-family: 'Liberation Serif', serif">=</text><text transform="translate(478.641 -0.237) scale(0.9487 1.0089)" style="font-size: 17.4px; font-family: 'Liberation Serif', serif">1</text><text transform="translate(487.296 -0.028) scale(0.9931 1.0195)" style="font-size: 17.4px; font-family: 'Liberation Serif', serif">0</text><text transform="translate(495.974 -0.029) scale(0.9714 1.024)" style="font-size: 17.4px; font-family: 'Liberation Serif', serif">6</text><text transform="translate(509.64 -0.237) scale(0.9538 1.0119)" style="font-size: 17.4px; font-family: 'Liberation Serif', serif">4</text><text transform="translate(529.095 -0.237) scale(0.9893 1.0649)" style="font-size: 17.4px; font-family: 'Liberation Serif', serif">Ω</text><text transform="translate(576.378 0.829) scale(1.4292 0.9375)" style="font-size: 17.4px; font-family: 'Liberation Serif', serif">=</text><text transform="translate(593.224 -0.028) scale(0.9931 1.0195)" style="font-size: 17.4px; font-family: 'Liberation Serif', serif">0</text><text transform="translate(606.774 -0.237) scale(0.9487 1.0089)" style="font-size: 17.4px; font-family: 'Liberation Serif', serif">1</text><text transform="translate(615.568 -0.237) scale(0.9538 1.0119)" style="font-size: 17.4px; font-family: 'Liberation Serif', serif">4</text><text transform="translate(623.997 -0.029) scale(1.0047 1.024)" style="font-size: 17.4px; font-family: 'Liberation Serif', serif">3</text><text transform="translate(632.82 -0.028) scale(0.9931 1.0195)" style="font-size: 17.4px; font-family: 'Liberation Serif', serif">0</text><text transform="translate(441.59 2.733) scale(1.0186 1.0014)" style="font-size: 12.18px; font-family: 'Liberation Serif', serif; font-style: italic">d</text><text transform="translate(542.321 2.859) scale(1.2798 0.9617)" style="font-size: 12.18px; font-family: 'Liberation Serif', serif; font-style: italic">m</text>
    </g>
   </g>
   <g id="line2d_182">
    <g>
     <path d="M 0 -9.1875 L -9.1875 9.1875 L 9.1875 9.1875 z" transform="translate(27.118 920.449)" style="fill: #d2691e"/>
    </g>
   </g>
   <g id="text_20">
    <!-- PEDE, Pan et al. (2020), Planck 2015: $H_0=72.58$, $r_dh=107.0$, $\Omega_mh^2=0.1421$ -->
    <g transform="translate(41.0376 925.6025)">
     <text><tspan x="0" y="-0.237366" style="font-size: 17.4px; font-family: 'DejaVu Sans', sans-serif">P</tspan><tspan x="10.4776" y="-0.237366" style="font-size: 17.4px; font-family: 'DejaVu Sans', sans-serif">E</tspan><tspan x="21.45575" y="-0.237366" style="font-size: 17.4px; font-family: 'DejaVu Sans', sans-serif">D</tspan><tspan x="34.834839" y="-0.237366" style="font-size: 17.4px; font-family: 'DejaVu Sans', sans-serif">E</tspan><tspan x="45.812988" y="-0.237366" style="font-size: 17.4px; font-family: 'DejaVu Sans', sans-serif">,</tspan><tspan x="51.335999" y="-0.237366" style="font-size: 17.4px; font-family: 'DejaVu Sans', sans-serif"> </tspan><tspan x="56.859009" y="-0.237366" style="font-size: 17.4px; font-family: 'DejaVu Sans', sans-serif">P</tspan><tspan x="67.336609" y="-0.237366" style="font-size: 17.4px; font-family: 'DejaVu Sans', sans-serif">a</tspan><tspan x="77.983887" y="-0.237366" style="font-size: 17.4px; font-family: 'DejaVu Sans', sans-serif">n</tspan><tspan x="88.995972" y="-0.237366" style="font-size: 17.4px; font-family: 'DejaVu Sans', sans-serif"> </tspan><tspan x="94.518982" y="-0.237366" style="font-size: 17.4px; font-family: 'DejaVu Sans', sans-serif">e</tspan><tspan x="105.208679" y="-0.237366" style="font-size: 17.4px; font-family: 'DejaVu Sans', sans-serif">t</tspan><tspan x="112.02124" y="-0.237366" style="font-size: 17.4px; font-family: 'DejaVu Sans', sans-serif"> </tspan><tspan x="117.54425" y="-0.237366" style="font-size: 17.4px; font-family: 'DejaVu Sans', sans-serif">a</tspan><tspan x="128.191528" y="-0.237366" style="font-size: 17.4px; font-family: 'DejaVu Sans', sans-serif">l</tspan><tspan x="133.01886" y="-0.237366" style="font-size: 17.4px; font-family: 'DejaVu Sans', sans-serif">.</tspan><tspan x="138.54187" y="-0.237366" style="font-size: 17.4px; font-family: 'DejaVu Sans', sans-serif"> </tspan><tspan x="144.06488" y="-0.237366" style="font-size: 17.4px; font-family: 'DejaVu Sans', sans-serif">(</tspan><tspan x="150.843506" y="-0.237366" style="font-size: 17.4px; font-family: 'DejaVu Sans', sans-serif">2</tspan><tspan x="161.89801" y="-0.237366" style="font-size: 17.4px; font-family: 'DejaVu Sans', sans-serif">0</tspan><tspan x="172.952515" y="-0.237366" style="font-size: 17.4px; font-family: 'DejaVu Sans', sans-serif">2</tspan><tspan x="184.007019" y="-0.237366" style="font-size: 17.4px; font-family: 'DejaVu Sans', sans-serif">0</tspan><tspan x="195.061523" y="-0.237366" style="font-size: 17.4px; font-family: 'DejaVu Sans', sans-serif">)</tspan><tspan x="201.840149" y="-0.237366" style="font-size: 17.4px; font-family: 'DejaVu Sans', sans-serif">,</tspan><tspan x="207.363159" y="-0.237366" style="font-size: 17.4px; font-family: 'DejaVu Sans', sans-serif"> </tspan><tspan x="212.886169" y="-0.237366" style="font-size: 17.4px; font-family: 'DejaVu Sans', sans-serif">P</tspan><tspan x="223.36377" y="-0.237366" style="font-size: 17.4px; font-family: 'DejaVu Sans', sans-serif">l</tspan><tspan x="228.191101" y="-0.237366" style="font-size: 17.4px; font-family: 'DejaVu Sans', sans-serif">a</tspan><tspan x="238.838379" y="-0.237366" style="font-size: 17.4px; font-family: 'DejaVu Sans', sans-serif">n</tspan><tspan x="249.850464" y="-0.237366" style="font-size: 17.4px; font-family: 'DejaVu Sans', sans-serif">c</tspan><tspan x="259.40332" y="-0.237366" style="font-size: 17.4px; font-family: 'DejaVu Sans', sans-serif">k</tspan><tspan x="269.46521" y="-0.237366" style="font-size: 17.4px; font-family: 'DejaVu Sans', sans-serif"> </tspan><tspan x="274.98822" y="-0.237366" style="font-size: 17.4px; font-family: 'DejaVu Sans', sans-serif">2</tspan><tspan x="286.042725" y="-0.237366" style="font-size: 17.4px; font-family: 'DejaVu Sans', sans-serif">0</tspan><tspan x="297.097229" y="-0.237366" style="font-size: 17.4px; font-family: 'DejaVu Sans', sans-serif">1</tspan><tspan x="308.151733" y="-0.237366" style="font-size: 17.4px; font-family: 'DejaVu Sans', sans-serif">5</tspan><tspan x="318.456238" y="-0.237366" style="font-size: 17.4px; font-family: 'DejaVu Sans', sans-serif">:</tspan><tspan x="324.31012" y="-0.237366" style="font-size: 17.4px; font-family: 'DejaVu Sans', sans-serif"> </tspan><tspan x="410.695092" y="-0.237366" style="font-size: 17.4px; font-family: 'DejaVu Sans', sans-serif">,</tspan><tspan x="416.218102" y="-0.237366" style="font-size: 17.4px; font-family: 'DejaVu Sans', sans-serif"> </tspan><tspan x="506.260365" y="-0.237366" style="font-size: 17.4px; font-family: 'DejaVu Sans', sans-serif">,</tspan><tspan x="511.783375" y="-0.237366" style="font-size: 17.4px; font-family: 'DejaVu Sans', sans-serif"> </tspan></text><text transform="translate(330.682 -0.237) scale(1.0873 1.0433)" style="font-size: 17.4px; font-family: 'Liberation Serif', serif; font-style: italic">H</text><text transform="translate(389.28 -0.466) scale(0.9298 0.9298)" style="font-size: 17.4px; font-family: 'Liberation Serif', serif; font-style: italic">.</text><text transform="translate(421.392 -0.042) scale(1.1583 0.9617)" style="font-size: 17.4px; font-family: 'Liberation Serif', serif; font-style: italic">r</text><text transform="translate(437.216 -0.042) scale(1.1734 1.0162)" style="font-size: 17.4px; font-family: 'Liberation Serif', serif; font-style: italic">h</text><text transform="translate(493.54 -0.466) scale(0.9298 0.9298)" style="font-size: 17.4px; font-family: 'Liberation Serif', serif; font-style: italic">.</text><text transform="translate(542.628 -0.042) scale(1.1734 1.0162)" style="font-size: 17.4px; font-family: 'Liberation Serif', serif; font-style: italic">h</text><text transform="translate(590.773 -0.466) scale(0.9298 0.9298)" style="font-size: 17.4px; font-family: 'Liberation Serif', serif; font-style: italic">.</text><text transform="translate(344.301 2.868) scale(0.9931 1.0195)" style="font-size: 12.18px; font-family: 'Liberation Serif', serif">0</text><text transform="translate(554.548 -6.895) scale(0.9963 1.0059)" style="font-size: 12.18px; font-family: 'Liberation Serif', serif">2</text><text transform="translate(354.274 0.829) scale(1.4292 0.9375)" style="font-size: 17.4px; font-family: 'Liberation Serif', serif">=</text><text transform="translate(370.863 0.145) scale(1.0578 1.0656)" style="font-size: 17.4px; font-family: 'Liberation Serif', serif">7</text><text transform="translate(379.899 -0.237) scale(0.9963 1.0059)" style="font-size: 17.4px; font-family: 'Liberation Serif', serif">2</text><text transform="translate(393.169 -0.031) scale(0.9915 1.0353)" style="font-size: 17.4px; font-family: 'Liberation Serif', serif">5</text><text transform="translate(402.081 -0.028) scale(0.9793 1.0195)" style="font-size: 17.4px; font-family: 'Liberation Serif', serif">8</text><text transform="translate(449.839 0.829) scale(1.4292 0.9375)" style="font-size: 17.4px; font-family: 'Liberation Serif', serif">=</text><text transform="translate(466.726 -0.237) scale(0.9487 1.0089)" style="font-size: 17.4px; font-family: 'Liberation Serif', serif">1</text><text transform="translate(475.381 -0.028) scale(0.9931 1.0195)" style="font-size: 17.4px; font-family: 'Liberation Serif', serif">0</text><text transform="translate(483.819 0.145) scale(1.0578 1.0656)" style="font-size: 17.4px; font-family: 'Liberation Serif', serif">7</text><text transform="translate(497.587 -0.028) scale(0.9931 1.0195)" style="font-size: 17.4px; font-family: 'Liberation Serif', serif">0</text><text transform="translate(517.18 -0.237) scale(0.9893 1.0649)" style="font-size: 17.4px; font-family: 'Liberation Serif', serif">Ω</text><text transform="translate(564.463 0.829) scale(1.4292 0.9375)" style="font-size: 17.4px; font-family: 'Liberation Serif', serif">=</text><text transform="translate(581.309 -0.028) scale(0.9931 1.0195)" style="font-size: 17.4px; font-family: 'Liberation Serif', serif">0</text><text transform="translate(594.859 -0.237) scale(0.9487 1.0089)" style="font-size: 17.4px; font-family: 'Liberation Serif', serif">1</text><text transform="translate(603.653 -0.237) scale(0.9538 1.0119)" style="font-size: 17.4px; font-family: 'Liberation Serif', serif">4</text><text transform="translate(612.293 -0.237) scale(0.9963 1.0059)" style="font-size: 17.4px; font-family: 'Liberation Serif', serif">2</text><text transform="translate(620.945 -0.237) scale(0.9487 1.0089)" style="font-size: 17.4px; font-family: 'Liberation Serif', serif">1</text><text transform="translate(429.676 2.733) scale(1.0186 1.0014)" style="font-size: 12.18px; font-family: 'Liberation Serif', serif; font-style: italic">d</text><text transform="translate(530.406 2.859) scale(1.2798 0.9617)" style="font-size: 12.18px; font-family: 'Liberation Serif', serif; font-style: italic">m</text>
    </g>
   </g>
   <g id="line2d_183">
    <g>
     <path d="M -9.1875 -0 L 9.1875 9.1875 L 9.1875 -9.1875 z" transform="translate(27.118 949.663)" style="fill: #ff8c00"/>
    </g>
   </g>
   <g id="text_21">
    <!-- GEDE, Li et al. (2020), Planck 2018: $H_0=66.76$, $r_dh=98.2$, $\Omega_mh^2=0.1426$ -->
    <g transform="translate(41.0376 954.8171)">
     <text><tspan x="0" y="-0.237366" style="font-size: 17.4px; font-family: 'DejaVu Sans', sans-serif">G</tspan><tspan x="13.463928" y="-0.237366" style="font-size: 17.4px; font-family: 'DejaVu Sans', sans-serif">E</tspan><tspan x="24.442078" y="-0.237366" style="font-size: 17.4px; font-family: 'DejaVu Sans', sans-serif">D</tspan><tspan x="37.821167" y="-0.237366" style="font-size: 17.4px; font-family: 'DejaVu Sans', sans-serif">E</tspan><tspan x="48.799316" y="-0.237366" style="font-size: 17.4px; font-family: 'DejaVu Sans', sans-serif">,</tspan><tspan x="54.322327" y="-0.237366" style="font-size: 17.4px; font-family: 'DejaVu Sans', sans-serif"> </tspan><tspan x="59.845337" y="-0.237366" style="font-size: 17.4px; font-family: 'DejaVu Sans', sans-serif">L</tspan><tspan x="69.525452" y="-0.237366" style="font-size: 17.4px; font-family: 'DejaVu Sans', sans-serif">i</tspan><tspan x="74.352783" y="-0.237366" style="font-size: 17.4px; font-family: 'DejaVu Sans', sans-serif"> </tspan><tspan x="79.875793" y="-0.237366" style="font-size: 17.4px; font-family: 'DejaVu Sans', sans-serif">e</tspan><tspan x="90.565491" y="-0.237366" style="font-size: 17.4px; font-family: 'DejaVu Sans', sans-serif">t</tspan><tspan x="97.378052" y="-0.237366" style="font-size: 17.4px; font-family: 'DejaVu Sans', sans-serif"> </tspan><tspan x="102.901062" y="-0.237366" style="font-size: 17.4px; font-family: 'DejaVu Sans', sans-serif">a</tspan><tspan x="113.54834" y="-0.237366" style="font-size: 17.4px; font-family: 'DejaVu Sans', sans-serif">l</tspan><tspan x="118.375671" y="-0.237366" style="font-size: 17.4px; font-family: 'DejaVu Sans', sans-serif">.</tspan><tspan x="123.898682" y="-0.237366" style="font-size: 17.4px; font-family: 'DejaVu Sans', sans-serif"> </tspan><tspan x="129.421692" y="-0.237366" style="font-size: 17.4px; font-family: 'DejaVu Sans', sans-serif">(</tspan><tspan x="136.200317" y="-0.237366" style="font-size: 17.4px; font-family: 'DejaVu Sans', sans-serif">2</tspan><tspan x="147.254822" y="-0.237366" style="font-size: 17.4px; font-family: 'DejaVu Sans', sans-serif">0</tspan><tspan x="158.309326" y="-0.237366" style="font-size: 17.4px; font-family: 'DejaVu Sans', sans-serif">2</tspan><tspan x="169.363831" y="-0.237366" style="font-size: 17.4px; font-family: 'DejaVu Sans', sans-serif">0</tspan><tspan x="180.418335" y="-0.237366" style="font-size: 17.4px; font-family: 'DejaVu Sans', sans-serif">)</tspan><tspan x="187.19696" y="-0.237366" style="font-size: 17.4px; font-family: 'DejaVu Sans', sans-serif">,</tspan><tspan x="192.719971" y="-0.237366" style="font-size: 17.4px; font-family: 'DejaVu Sans', sans-serif"> </tspan><tspan x="198.242981" y="-0.237366" style="font-size: 17.4px; font-family: 'DejaVu Sans', sans-serif">P</tspan><tspan x="208.720581" y="-0.237366" style="font-size: 17.4px; font-family: 'DejaVu Sans', sans-serif">l</tspan><tspan x="213.547913" y="-0.237366" style="font-size: 17.4px; font-family: 'DejaVu Sans', sans-serif">a</tspan><tspan x="224.19519" y="-0.237366" style="font-size: 17.4px; font-family: 'DejaVu Sans', sans-serif">n</tspan><tspan x="235.207275" y="-0.237366" style="font-size: 17.4px; font-family: 'DejaVu Sans', sans-serif">c</tspan><tspan x="244.760132" y="-0.237366" style="font-size: 17.4px; font-family: 'DejaVu Sans', sans-serif">k</tspan><tspan x="254.822021" y="-0.237366" style="font-size: 17.4px; font-family: 'DejaVu Sans', sans-serif"> </tspan><tspan x="260.345032" y="-0.237366" style="font-size: 17.4px; font-family: 'DejaVu Sans', sans-serif">2</tspan><tspan x="271.399536" y="-0.237366" style="font-size: 17.4px; font-family: 'DejaVu Sans', sans-serif">0</tspan><tspan x="282.454041" y="-0.237366" style="font-size: 17.4px; font-family: 'DejaVu Sans', sans-serif">1</tspan><tspan x="293.508545" y="-0.237366" style="font-size: 17.4px; font-family: 'DejaVu Sans', sans-serif">8</tspan><tspan x="304.563049" y="-0.237366" style="font-size: 17.4px; font-family: 'DejaVu Sans', sans-serif">:</tspan><tspan x="310.416931" y="-0.237366" style="font-size: 17.4px; font-family: 'DejaVu Sans', sans-serif"> </tspan><tspan x="396.801903" y="-0.237366" style="font-size: 17.4px; font-family: 'DejaVu Sans', sans-serif">,</tspan><tspan x="402.324914" y="-0.237366" style="font-size: 17.4px; font-family: 'DejaVu Sans', sans-serif"> </tspan><tspan x="483.671864" y="-0.237366" style="font-size: 17.4px; font-family: 'DejaVu Sans', sans-serif">,</tspan><tspan x="489.194874" y="-0.237366" style="font-size: 17.4px; font-family: 'DejaVu Sans', sans-serif"> </tspan></text><text transform="translate(316.789 -0.237) scale(1.0873 1.0433)" style="font-size: 17.4px; font-family: 'Liberation Serif', serif; font-style: italic">H</text><text transform="translate(375.386 -0.466) scale(0.9298 0.9298)" style="font-size: 17.4px; font-family: 'Liberation Serif', serif; font-style: italic">.</text><text transform="translate(407.498 -0.042) scale(1.1583 0.9617)" style="font-size: 17.4px; font-family: 'Liberation Serif', serif; font-style: italic">r</text><text transform="translate(423.323 -0.042) scale(1.1734 1.0162)" style="font-size: 17.4px; font-family: 'Liberation Serif', serif; font-style: italic">h</text><text transform="translate(470.952 -0.466) scale(0.9298 0.9298)" style="font-size: 17.4px; font-family: 'Liberation Serif', serif; font-style: italic">.</text><text transform="translate(520.039 -0.042) scale(1.1734 1.0162)" style="font-size: 17.4px; font-family: 'Liberation Serif', serif; font-style: italic">h</text><text transform="translate(568.185 -0.466) scale(0.9298 0.9298)" style="font-size: 17.4px; font-family: 'Liberation Serif', serif; font-style: italic">.</text><text transform="translate(330.408 2.868) scale(0.9931 1.0195)" style="font-size: 12.18px; font-family: 'Liberation Serif', serif">0</text><text transform="translate(531.959 -6.895) scale(0.9963 1.0059)" style="font-size: 12.18px; font-family: 'Liberation Serif', serif">2</text><text transform="translate(340.381 0.829) scale(1.4292 0.9375)" style="font-size: 17.4px; font-family: 'Liberation Serif', serif">=</text><text transform="translate(357.21 -0.029) scale(0.9714 1.024)" style="font-size: 17.4px; font-family: 'Liberation Serif', serif">6</text><text transform="translate(365.906 -0.029) scale(0.9714 1.024)" style="font-size: 17.4px; font-family: 'Liberation Serif', serif">6</text><text transform="translate(379.175 0.145) scale(1.0578 1.0656)" style="font-size: 17.4px; font-family: 'Liberation Serif', serif">7</text><text transform="translate(388.111 -0.029) scale(0.9714 1.024)" style="font-size: 17.4px; font-family: 'Liberation Serif', serif">6</text><text transform="translate(435.946 0.829) scale(1.4292 0.9375)" style="font-size: 17.4px; font-family: 'Liberation Serif', serif">=</text><text transform="translate(452.957 -0.029) scale(0.9725 1.024)" style="font-size: 17.4px; font-family: 'Liberation Serif', serif">9</text><text transform="translate(461.548 -0.028) scale(0.9793 1.0195)" style="font-size: 17.4px; font-family: 'Liberation Serif', serif">8</text><text transform="translate(475.081 -0.237) scale(0.9963 1.0059)" style="font-size: 17.4px; font-family: 'Liberation Serif', serif">2</text><text transform="translate(494.592 -0.237) scale(0.9893 1.0649)" style="font-size: 17.4px; font-family: 'Liberation Serif', serif">Ω</text><text transform="translate(541.874 0.829) scale(1.4292 0.9375)" style="font-size: 17.4px; font-family: 'Liberation Serif', serif">=</text><text transform="translate(558.721 -0.028) scale(0.9931 1.0195)" style="font-size: 17.4px; font-family: 'Liberation Serif', serif">0</text><text transform="translate(572.271 -0.237) scale(0.9487 1.0089)" style="font-size: 17.4px; font-family: 'Liberation Serif', serif">1</text><text transform="translate(581.065 -0.237) scale(0.9538 1.0119)" style="font-size: 17.4px; font-family: 'Liberation Serif', serif">4</text><text transform="translate(589.705 -0.237) scale(0.9963 1.0059)" style="font-size: 17.4px; font-family: 'Liberation Serif', serif">2</text><text transform="translate(598.3 -0.029) scale(0.9714 1.024)" style="font-size: 17.4px; font-family: 'Liberation Serif', serif">6</text><text transform="translate(415.782 2.733) scale(1.0186 1.0014)" style="font-size: 12.18px; font-family: 'Liberation Serif', serif; font-style: italic">d</text><text transform="translate(507.817 2.859) scale(1.2798 0.9617)" style="font-size: 12.18px; font-family: 'Liberation Serif', serif; font-style: italic">m</text>
    </g>
   </g>
   <g id="line2d_184">
    <g>
     <path d="M -0 11.048543 L 11.048543 0 L 0 -11.048543 L -11.048543 -0 z" transform="translate(27.118 978.878)" style="fill: #008000"/>
    </g>
   </g>
   <g id="text_22">
    <!-- VM, Di Valentino et al. (2020), Planck 2018: $H_0=81.1$, $r_dh=119.1$, $\Omega_mh^2=0.1430$ -->
    <g transform="translate(41.0376 984.0317)">
     <text><tspan x="0" y="-0.237366" style="font-size: 17.4px; font-family: 'DejaVu Sans', sans-serif">V</tspan><tspan x="11.885925" y="-0.237366" style="font-size: 17.4px; font-family: 'DejaVu Sans', sans-serif">M</tspan><tspan x="26.876953" y="-0.237366" style="font-size: 17.4px; font-family: 'DejaVu Sans', sans-serif">,</tspan><tspan x="32.399963" y="-0.237366" style="font-size: 17.4px; font-family: 'DejaVu Sans', sans-serif"> </tspan><tspan x="37.922974" y="-0.237366" style="font-size: 17.4px; font-family: 'DejaVu Sans', sans-serif">D</tspan><tspan x="51.302063" y="-0.237366" style="font-size: 17.4px; font-family: 'DejaVu Sans', sans-serif">i</tspan><tspan x="56.129395" y="-0.237366" style="font-size: 17.4px; font-family: 'DejaVu Sans', sans-serif"> </tspan><tspan x="61.652405" y="-0.237366" style="font-size: 17.4px; font-family: 'DejaVu Sans', sans-serif">V</tspan><tspan x="73.53833" y="-0.237366" style="font-size: 17.4px; font-family: 'DejaVu Sans', sans-serif">a</tspan><tspan x="84.185608" y="-0.237366" style="font-size: 17.4px; font-family: 'DejaVu Sans', sans-serif">l</tspan><tspan x="89.012939" y="-0.237366" style="font-size: 17.4px; font-family: 'DejaVu Sans', sans-serif">e</tspan><tspan x="99.702637" y="-0.237366" style="font-size: 17.4px; font-family: 'DejaVu Sans', sans-serif">n</tspan><tspan x="110.714722" y="-0.237366" style="font-size: 17.4px; font-family: 'DejaVu Sans', sans-serif">t</tspan><tspan x="117.527283" y="-0.237366" style="font-size: 17.4px; font-family: 'DejaVu Sans', sans-serif">i</tspan><tspan x="122.354614" y="-0.237366" style="font-size: 17.4px; font-family: 'DejaVu Sans', sans-serif">n</tspan><tspan x="133.366699" y="-0.237366" style="font-size: 17.4px; font-family: 'DejaVu Sans', sans-serif">o</tspan><tspan x="143.997009" y="-0.237366" style="font-size: 17.4px; font-family: 'DejaVu Sans', sans-serif"> </tspan><tspan x="149.52002" y="-0.237366" style="font-size: 17.4px; font-family: 'DejaVu Sans', sans-serif">e</tspan><tspan x="160.209717" y="-0.237366" style="font-size: 17.4px; font-family: 'DejaVu Sans', sans-serif">t</tspan><tspan x="167.022278" y="-0.237366" style="font-size: 17.4px; font-family: 'DejaVu Sans', sans-serif"> </tspan><tspan x="172.545288" y="-0.237366" style="font-size: 17.4px; font-family: 'DejaVu Sans', sans-serif">a</tspan><tspan x="183.192566" y="-0.237366" style="font-size: 17.4px; font-family: 'DejaVu Sans', sans-serif">l</tspan><tspan x="188.019897" y="-0.237366" style="font-size: 17.4px; font-family: 'DejaVu Sans', sans-serif">.</tspan><tspan x="193.542908" y="-0.237366" style="font-size: 17.4px; font-family: 'DejaVu Sans', sans-serif"> </tspan><tspan x="199.065918" y="-0.237366" style="font-size: 17.4px; font-family: 'DejaVu Sans', sans-serif">(</tspan><tspan x="205.844543" y="-0.237366" style="font-size: 17.4px; font-family: 'DejaVu Sans', sans-serif">2</tspan><tspan x="216.899048" y="-0.237366" style="font-size: 17.4px; font-family: 'DejaVu Sans', sans-serif">0</tspan><tspan x="227.953552" y="-0.237366" style="font-size: 17.4px; font-family: 'DejaVu Sans', sans-serif">2</tspan><tspan x="239.008057" y="-0.237366" style="font-size: 17.4px; font-family: 'DejaVu Sans', sans-serif">0</tspan><tspan x="250.062561" y="-0.237366" style="font-size: 17.4px; font-family: 'DejaVu Sans', sans-serif">)</tspan><tspan x="256.841187" y="-0.237366" style="font-size: 17.4px; font-family: 'DejaVu Sans', sans-serif">,</tspan><tspan x="262.364197" y="-0.237366" style="font-size: 17.4px; font-family: 'DejaVu Sans', sans-serif"> </tspan><tspan x="267.887207" y="-0.237366" style="font-size: 17.4px; font-family: 'DejaVu Sans', sans-serif">P</tspan><tspan x="278.364807" y="-0.237366" style="font-size: 17.4px; font-family: 'DejaVu Sans', sans-serif">l</tspan><tspan x="283.192139" y="-0.237366" style="font-size: 17.4px; font-family: 'DejaVu Sans', sans-serif">a</tspan><tspan x="293.839417" y="-0.237366" style="font-size: 17.4px; font-family: 'DejaVu Sans', sans-serif">n</tspan><tspan x="304.851501" y="-0.237366" style="font-size: 17.4px; font-family: 'DejaVu Sans', sans-serif">c</tspan><tspan x="314.404358" y="-0.237366" style="font-size: 17.4px; font-family: 'DejaVu Sans', sans-serif">k</tspan><tspan x="324.466248" y="-0.237366" style="font-size: 17.4px; font-family: 'DejaVu Sans', sans-serif"> </tspan><tspan x="329.989258" y="-0.237366" style="font-size: 17.4px; font-family: 'DejaVu Sans', sans-serif">2</tspan><tspan x="341.043762" y="-0.237366" style="font-size: 17.4px; font-family: 'DejaVu Sans', sans-serif">0</tspan><tspan x="352.098267" y="-0.237366" style="font-size: 17.4px; font-family: 'DejaVu Sans', sans-serif">1</tspan><tspan x="363.152771" y="-0.237366" style="font-size: 17.4px; font-family: 'DejaVu Sans', sans-serif">8</tspan><tspan x="374.207275" y="-0.237366" style="font-size: 17.4px; font-family: 'DejaVu Sans', sans-serif">:</tspan><tspan x="380.061157" y="-0.237366" style="font-size: 17.4px; font-family: 'DejaVu Sans', sans-serif"> </tspan><tspan x="457.750817" y="-0.237366" style="font-size: 17.4px; font-family: 'DejaVu Sans', sans-serif">,</tspan><tspan x="463.273827" y="-0.237366" style="font-size: 17.4px; font-family: 'DejaVu Sans', sans-serif"> </tspan><tspan x="553.31609" y="-0.237366" style="font-size: 17.4px; font-family: 'DejaVu Sans', sans-serif">,</tspan><tspan x="558.8391" y="-0.237366" style="font-size: 17.4px; font-family: 'DejaVu Sans', sans-serif"> </tspan></text><text transform="translate(386.433 -0.237) scale(1.0873 1.0433)" style="font-size: 17.4px; font-family: 'Liberation Serif', serif; font-style: italic">H</text><text transform="translate(445.031 -0.466) scale(0.9298 0.9298)" style="font-size: 17.4px; font-family: 'Liberation Serif', serif; font-style: italic">.</text><text transform="translate(468.447 -0.042) scale(1.1583 0.9617)" style="font-size: 17.4px; font-family: 'Liberation Serif', serif; font-style: italic">r</text><text transform="translate(484.271 -0.042) scale(1.1734 1.0162)" style="font-size: 17.4px; font-family: 'Liberation Serif', serif; font-style: italic">h</text><text transform="translate(540.596 -0.466) scale(0.9298 0.9298)" style="font-size: 17.4px; font-family: 'Liberation Serif', serif; font-style: italic">.</text><text transform="translate(589.683 -0.042) scale(1.1734 1.0162)" style="font-size: 17.4px; font-family: 'Liberation Serif', serif; font-style: italic">h</text><text transform="translate(637.829 -0.466) scale(0.9298 0.9298)" style="font-size: 17.4px; font-family: 'Liberation Serif', serif; font-style: italic">.</text><text transform="translate(400.052 2.868) scale(0.9931 1.0195)" style="font-size: 12.18px; font-family: 'Liberation Serif', serif">0</text><text transform="translate(601.603 -6.895) scale(0.9963 1.0059)" style="font-size: 12.18px; font-family: 'Liberation Serif', serif">2</text><text transform="translate(410.025 0.829) scale(1.4292 0.9375)" style="font-size: 17.4px; font-family: 'Liberation Serif', serif">=</text><text transform="translate(426.932 -0.028) scale(0.9793 1.0195)" style="font-size: 17.4px; font-family: 'Liberation Serif', serif">8</text><text transform="translate(435.607 -0.237) scale(0.9487 1.0089)" style="font-size: 17.4px; font-family: 'Liberation Serif', serif">1</text><text transform="translate(449.117 -0.237) scale(0.9487 1.0089)" style="font-size: 17.4px; font-family: 'Liberation Serif', serif">1</text><text transform="translate(496.895 0.829) scale(1.4292 0.9375)" style="font-size: 17.4px; font-family: 'Liberation Serif', serif">=</text><text transform="translate(513.782 -0.237) scale(0.9487 1.0089)" style="font-size: 17.4px; font-family: 'Liberation Serif', serif">1</text><text transform="translate(522.477 -0.237) scale(0.9487 1.0089)" style="font-size: 17.4px; font-family: 'Liberation Serif', serif">1</text><text transform="translate(531.296 -0.029) scale(0.9725 1.024)" style="font-size: 17.4px; font-family: 'Liberation Serif', serif">9</text><text transform="translate(544.682 -0.237) scale(0.9487 1.0089)" style="font-size: 17.4px; font-family: 'Liberation Serif', serif">1</text><text transform="translate(564.236 -0.237) scale(0.9893 1.0649)" style="font-size: 17.4px; font-family: 'Liberation Serif', serif">Ω</text><text transform="translate(611.519 0.829) scale(1.4292 0.9375)" style="font-size: 17.4px; font-family: 'Liberation Serif', serif">=</text><text transform="translate(628.365 -0.028) scale(0.9931 1.0195)" style="font-size: 17.4px; font-family: 'Liberation Serif', serif">0</text><text transform="translate(641.915 -0.237) scale(0.9487 1.0089)" style="font-size: 17.4px; font-family: 'Liberation Serif', serif">1</text><text transform="translate(650.709 -0.237) scale(0.9538 1.0119)" style="font-size: 17.4px; font-family: 'Liberation Serif', serif">4</text><text transform="translate(659.138 -0.029) scale(1.0047 1.024)" style="font-size: 17.4px; font-family: 'Liberation Serif', serif">3</text><text transform="translate(667.961 -0.028) scale(0.9931 1.0195)" style="font-size: 17.4px; font-family: 'Liberation Serif', serif">0</text><text transform="translate(476.731 2.733) scale(1.0186 1.0014)" style="font-size: 12.18px; font-family: 'Liberation Serif', serif; font-style: italic">d</text><text transform="translate(577.462 2.859) scale(1.2798 0.9617)" style="font-size: 12.18px; font-family: 'Liberation Serif', serif; font-style: italic">m</text>
    </g>
   </g>
   <g id="line2d_185">
    <g>
     <path d="M -2.916667 8.75 L 2.916667 8.75 L 2.916667 2.916667 L 8.75 2.916667 L 8.75 -2.916667 L 2.916667 -2.916667 L 2.916667 -8.75 L -2.916667 -8.75 L -2.916667 -2.916667 L -8.75 -2.916667 L -8.75 2.916667 L -2.916667 2.916667 z" transform="translate(27.118 1008.092)" style="fill: #ffd700"/>
    </g>
   </g>
   <g id="text_23">
    <!-- VM, Di Valentino et al. (2018), Planck 2015: $H_0=78.61$, $\Omega_mh^2=0.1421$ -->
    <g transform="translate(41.0376 1013.2463)">
     <text><tspan x="0" y="-0.237366" style="font-size: 17.4px; font-family: 'DejaVu Sans', sans-serif">V</tspan><tspan x="11.885925" y="-0.237366" style="font-size: 17.4px; font-family: 'DejaVu Sans', sans-serif">M</tspan><tspan x="26.876953" y="-0.237366" style="font-size: 17.4px; font-family: 'DejaVu Sans', sans-serif">,</tspan><tspan x="32.399963" y="-0.237366" style="font-size: 17.4px; font-family: 'DejaVu Sans', sans-serif"> </tspan><tspan x="37.922974" y="-0.237366" style="font-size: 17.4px; font-family: 'DejaVu Sans', sans-serif">D</tspan><tspan x="51.302063" y="-0.237366" style="font-size: 17.4px; font-family: 'DejaVu Sans', sans-serif">i</tspan><tspan x="56.129395" y="-0.237366" style="font-size: 17.4px; font-family: 'DejaVu Sans', sans-serif"> </tspan><tspan x="61.652405" y="-0.237366" style="font-size: 17.4px; font-family: 'DejaVu Sans', sans-serif">V</tspan><tspan x="73.53833" y="-0.237366" style="font-size: 17.4px; font-family: 'DejaVu Sans', sans-serif">a</tspan><tspan x="84.185608" y="-0.237366" style="font-size: 17.4px; font-family: 'DejaVu Sans', sans-serif">l</tspan><tspan x="89.012939" y="-0.237366" style="font-size: 17.4px; font-family: 'DejaVu Sans', sans-serif">e</tspan><tspan x="99.702637" y="-0.237366" style="font-size: 17.4px; font-family: 'DejaVu Sans', sans-serif">n</tspan><tspan x="110.714722" y="-0.237366" style="font-size: 17.4px; font-family: 'DejaVu Sans', sans-serif">t</tspan><tspan x="117.527283" y="-0.237366" style="font-size: 17.4px; font-family: 'DejaVu Sans', sans-serif">i</tspan><tspan x="122.354614" y="-0.237366" style="font-size: 17.4px; font-family: 'DejaVu Sans', sans-serif">n</tspan><tspan x="133.366699" y="-0.237366" style="font-size: 17.4px; font-family: 'DejaVu Sans', sans-serif">o</tspan><tspan x="143.997009" y="-0.237366" style="font-size: 17.4px; font-family: 'DejaVu Sans', sans-serif"> </tspan><tspan x="149.52002" y="-0.237366" style="font-size: 17.4px; font-family: 'DejaVu Sans', sans-serif">e</tspan><tspan x="160.209717" y="-0.237366" style="font-size: 17.4px; font-family: 'DejaVu Sans', sans-serif">t</tspan><tspan x="167.022278" y="-0.237366" style="font-size: 17.4px; font-family: 'DejaVu Sans', sans-serif"> </tspan><tspan x="172.545288" y="-0.237366" style="font-size: 17.4px; font-family: 'DejaVu Sans', sans-serif">a</tspan><tspan x="183.192566" y="-0.237366" style="font-size: 17.4px; font-family: 'DejaVu Sans', sans-serif">l</tspan><tspan x="188.019897" y="-0.237366" style="font-size: 17.4px; font-family: 'DejaVu Sans', sans-serif">.</tspan><tspan x="193.542908" y="-0.237366" style="font-size: 17.4px; font-family: 'DejaVu Sans', sans-serif"> </tspan><tspan x="199.065918" y="-0.237366" style="font-size: 17.4px; font-family: 'DejaVu Sans', sans-serif">(</tspan><tspan x="205.844543" y="-0.237366" style="font-size: 17.4px; font-family: 'DejaVu Sans', sans-serif">2</tspan><tspan x="216.899048" y="-0.237366" style="font-size: 17.4px; font-family: 'DejaVu Sans', sans-serif">0</tspan><tspan x="227.953552" y="-0.237366" style="font-size: 17.4px; font-family: 'DejaVu Sans', sans-serif">1</tspan><tspan x="239.008057" y="-0.237366" style="font-size: 17.4px; font-family: 'DejaVu Sans', sans-serif">8</tspan><tspan x="250.062561" y="-0.237366" style="font-size: 17.4px; font-family: 'DejaVu Sans', sans-serif">)</tspan><tspan x="256.841187" y="-0.237366" style="font-size: 17.4px; font-family: 'DejaVu Sans', sans-serif">,</tspan><tspan x="262.364197" y="-0.237366" style="font-size: 17.4px; font-family: 'DejaVu Sans', sans-serif"> </tspan><tspan x="267.887207" y="-0.237366" style="font-size: 17.4px; font-family: 'DejaVu Sans', sans-serif">P</tspan><tspan x="278.364807" y="-0.237366" style="font-size: 17.4px; font-family: 'DejaVu Sans', sans-serif">l</tspan><tspan x="283.192139" y="-0.237366" style="font-size: 17.4px; font-family: 'DejaVu Sans', sans-serif">a</tspan><tspan x="293.839417" y="-0.237366" style="font-size: 17.4px; font-family: 'DejaVu Sans', sans-serif">n</tspan><tspan x="304.851501" y="-0.237366" style="font-size: 17.4px; font-family: 'DejaVu Sans', sans-serif">c</tspan><tspan x="314.404358" y="-0.237366" style="font-size: 17.4px; font-family: 'DejaVu Sans', sans-serif">k</tspan><tspan x="324.466248" y="-0.237366" style="font-size: 17.4px; font-family: 'DejaVu Sans', sans-serif"> </tspan><tspan x="329.989258" y="-0.237366" style="font-size: 17.4px; font-family: 'DejaVu Sans', sans-serif">2</tspan><tspan x="341.043762" y="-0.237366" style="font-size: 17.4px; font-family: 'DejaVu Sans', sans-serif">0</tspan><tspan x="352.098267" y="-0.237366" style="font-size: 17.4px; font-family: 'DejaVu Sans', sans-serif">1</tspan><tspan x="363.152771" y="-0.237366" style="font-size: 17.4px; font-family: 'DejaVu Sans', sans-serif">5</tspan><tspan x="373.457275" y="-0.237366" style="font-size: 17.4px; font-family: 'DejaVu Sans', sans-serif">:</tspan><tspan x="379.311157" y="-0.237366" style="font-size: 17.4px; font-family: 'DejaVu Sans', sans-serif"> </tspan><tspan x="465.696129" y="-0.237366" style="font-size: 17.4px; font-family: 'DejaVu Sans', sans-serif">,</tspan><tspan x="471.21914" y="-0.237366" style="font-size: 17.4px; font-family: 'DejaVu Sans', sans-serif"> </tspan></text><text transform="translate(385.683 -0.237) scale(1.0873 1.0433)" style="font-size: 17.4px; font-family: 'Liberation Serif', serif; font-style: italic">H</text><text transform="translate(444.281 -0.466) scale(0.9298 0.9298)" style="font-size: 17.4px; font-family: 'Liberation Serif', serif; font-style: italic">.</text><text transform="translate(502.063 -0.042) scale(1.1734 1.0162)" style="font-size: 17.4px; font-family: 'Liberation Serif', serif; font-style: italic">h</text><text transform="translate(550.209 -0.466) scale(0.9298 0.9298)" style="font-size: 17.4px; font-family: 'Liberation Serif', serif; font-style: italic">.</text><text transform="translate(399.302 2.868) scale(0.9931 1.0195)" style="font-size: 12.18px; font-family: 'Liberation Serif', serif">0</text><text transform="translate(513.984 -6.895) scale(0.9963 1.0059)" style="font-size: 12.18px; font-family: 'Liberation Serif', serif">2</text><text transform="translate(409.275 0.829) scale(1.4292 0.9375)" style="font-size: 17.4px; font-family: 'Liberation Serif', serif">=</text><text transform="translate(425.864 0.145) scale(1.0578 1.0656)" style="font-size: 17.4px; font-family: 'Liberation Serif', serif">7</text><text transform="translate(434.877 -0.028) scale(0.9793 1.0195)" style="font-size: 17.4px; font-family: 'Liberation Serif', serif">8</text><text transform="translate(448.31 -0.029) scale(0.9714 1.024)" style="font-size: 17.4px; font-family: 'Liberation Serif', serif">6</text><text transform="translate(457.062 -0.237) scale(0.9487 1.0089)" style="font-size: 17.4px; font-family: 'Liberation Serif', serif">1</text><text transform="translate(476.616 -0.237) scale(0.9893 1.0649)" style="font-size: 17.4px; font-family: 'Liberation Serif', serif">Ω</text><text transform="translate(523.899 0.829) scale(1.4292 0.9375)" style="font-size: 17.4px; font-family: 'Liberation Serif', serif">=</text><text transform="translate(540.745 -0.028) scale(0.9931 1.0195)" style="font-size: 17.4px; font-family: 'Liberation Serif', serif">0</text><text transform="translate(554.295 -0.237) scale(0.9487 1.0089)" style="font-size: 17.4px; font-family: 'Liberation Serif', serif">1</text><text transform="translate(563.089 -0.237) scale(0.9538 1.0119)" style="font-size: 17.4px; font-family: 'Liberation Serif', serif">4</text><text transform="translate(571.729 -0.237) scale(0.9963 1.0059)" style="font-size: 17.4px; font-family: 'Liberation Serif', serif">2</text><text transform="translate(580.381 -0.237) scale(0.9487 1.0089)" style="font-size: 17.4px; font-family: 'Liberation Serif', serif">1</text><text transform="translate(489.842 2.859) scale(1.2798 0.9617)" style="font-size: 12.18px; font-family: 'Liberation Serif', serif; font-style: italic">m</text>
    </g>
   </g>
   <g id="line2d_186">
    <g>
     <path d="M -0 12.374369 L 7.424621 0 L 0 -12.374369 L -7.424621 -0 z" transform="translate(27.118 1037.307)" style="fill: #00bfff"/>
    </g>
   </g>
   <g id="text_24">
    <!-- VM (+neutrinos), Di Valentino et al. (2021), Planck 2018: $H_0=78.0$, $r_dh=113.6$, $\Omega_mh^2=0.1446$ -->
    <g transform="translate(41.0376 1042.4609)">
     <text><tspan x="0" y="-0.237366" style="font-size: 17.4px; font-family: 'DejaVu Sans', sans-serif">V</tspan><tspan x="11.885925" y="-0.237366" style="font-size: 17.4px; font-family: 'DejaVu Sans', sans-serif">M</tspan><tspan x="26.876953" y="-0.237366" style="font-size: 17.4px; font-family: 'DejaVu Sans', sans-serif"> </tspan><tspan x="32.399963" y="-0.237366" style="font-size: 17.4px; font-family: 'DejaVu Sans', sans-serif">(</tspan><tspan x="39.178589" y="-0.237366" style="font-size: 17.4px; font-family: 'DejaVu Sans', sans-serif">+</tspan><tspan x="53.736938" y="-0.237366" style="font-size: 17.4px; font-family: 'DejaVu Sans', sans-serif">n</tspan><tspan x="64.749023" y="-0.237366" style="font-size: 17.4px; font-family: 'DejaVu Sans', sans-serif">e</tspan><tspan x="75.438721" y="-0.237366" style="font-size: 17.4px; font-family: 'DejaVu Sans', sans-serif">u</tspan><tspan x="86.450806" y="-0.237366" style="font-size: 17.4px; font-family: 'DejaVu Sans', sans-serif">t</tspan><tspan x="93.263367" y="-0.237366" style="font-size: 17.4px; font-family: 'DejaVu Sans', sans-serif">r</tspan><tspan x="100.406799" y="-0.237366" style="font-size: 17.4px; font-family: 'DejaVu Sans', sans-serif">i</tspan><tspan x="105.234131" y="-0.237366" style="font-size: 17.4px; font-family: 'DejaVu Sans', sans-serif">n</tspan><tspan x="116.246216" y="-0.237366" style="font-size: 17.4px; font-family: 'DejaVu Sans', sans-serif">o</tspan><tspan x="126.876526" y="-0.237366" style="font-size: 17.4px; font-family: 'DejaVu Sans', sans-serif">s</tspan><tspan x="135.928833" y="-0.237366" style="font-size: 17.4px; font-family: 'DejaVu Sans', sans-serif">)</tspan><tspan x="142.707458" y="-0.237366" style="font-size: 17.4px; font-family: 'DejaVu Sans', sans-serif">,</tspan><tspan x="148.230469" y="-0.237366" style="font-size: 17.4px; font-family: 'DejaVu Sans', sans-serif"> </tspan><tspan x="153.753479" y="-0.237366" style="font-size: 17.4px; font-family: 'DejaVu Sans', sans-serif">D</tspan><tspan x="167.132568" y="-0.237366" style="font-size: 17.4px; font-family: 'DejaVu Sans', sans-serif">i</tspan><tspan x="171.9599" y="-0.237366" style="font-size: 17.4px; font-family: 'DejaVu Sans', sans-serif"> </tspan><tspan x="177.48291" y="-0.237366" style="font-size: 17.4px; font-family: 'DejaVu Sans', sans-serif">V</tspan><tspan x="189.368835" y="-0.237366" style="font-size: 17.4px; font-family: 'DejaVu Sans', sans-serif">a</tspan><tspan x="200.016113" y="-0.237366" style="font-size: 17.4px; font-family: 'DejaVu Sans', sans-serif">l</tspan><tspan x="204.843445" y="-0.237366" style="font-size: 17.4px; font-family: 'DejaVu Sans', sans-serif">e</tspan><tspan x="215.533142" y="-0.237366" style="font-size: 17.4px; font-family: 'DejaVu Sans', sans-serif">n</tspan><tspan x="226.545227" y="-0.237366" style="font-size: 17.4px; font-family: 'DejaVu Sans', sans-serif">t</tspan><tspan x="233.357788" y="-0.237366" style="font-size: 17.4px; font-family: 'DejaVu Sans', sans-serif">i</tspan><tspan x="238.18512" y="-0.237366" style="font-size: 17.4px; font-family: 'DejaVu Sans', sans-serif">n</tspan><tspan x="249.197205" y="-0.237366" style="font-size: 17.4px; font-family: 'DejaVu Sans', sans-serif">o</tspan><tspan x="259.827515" y="-0.237366" style="font-size: 17.4px; font-family: 'DejaVu Sans', sans-serif"> </tspan><tspan x="265.350525" y="-0.237366" style="font-size: 17.4px; font-family: 'DejaVu Sans', sans-serif">e</tspan><tspan x="276.040222" y="-0.237366" style="font-size: 17.4px; font-family: 'DejaVu Sans', sans-serif">t</tspan><tspan x="282.852783" y="-0.237366" style="font-size: 17.4px; font-family: 'DejaVu Sans', sans-serif"> </tspan><tspan x="288.375793" y="-0.237366" style="font-size: 17.4px; font-family: 'DejaVu Sans', sans-serif">a</tspan><tspan x="299.023071" y="-0.237366" style="font-size: 17.4px; font-family: 'DejaVu Sans', sans-serif">l</tspan><tspan x="303.850403" y="-0.237366" style="font-size: 17.4px; font-family: 'DejaVu Sans', sans-serif">.</tspan><tspan x="309.373413" y="-0.237366" style="font-size: 17.4px; font-family: 'DejaVu Sans', sans-serif"> </tspan><tspan x="314.896423" y="-0.237366" style="font-size: 17.4px; font-family: 'DejaVu Sans', sans-serif">(</tspan><tspan x="321.675049" y="-0.237366" style="font-size: 17.4px; font-family: 'DejaVu Sans', sans-serif">2</tspan><tspan x="332.729553" y="-0.237366" style="font-size: 17.4px; font-family: 'DejaVu Sans', sans-serif">0</tspan><tspan x="343.784058" y="-0.237366" style="font-size: 17.4px; font-family: 'DejaVu Sans', sans-serif">2</tspan><tspan x="354.838562" y="-0.237366" style="font-size: 17.4px; font-family: 'DejaVu Sans', sans-serif">1</tspan><tspan x="365.893066" y="-0.237366" style="font-size: 17.4px; font-family: 'DejaVu Sans', sans-serif">)</tspan><tspan x="372.671692" y="-0.237366" style="font-size: 17.4px; font-family: 'DejaVu Sans', sans-serif">,</tspan><tspan x="378.194702" y="-0.237366" style="font-size: 17.4px; font-family: 'DejaVu Sans', sans-serif"> </tspan><tspan x="383.717712" y="-0.237366" style="font-size: 17.4px; font-family: 'DejaVu Sans', sans-serif">P</tspan><tspan x="394.195312" y="-0.237366" style="font-size: 17.4px; font-family: 'DejaVu Sans', sans-serif">l</tspan><tspan x="399.022644" y="-0.237366" style="font-size: 17.4px; font-family: 'DejaVu Sans', sans-serif">a</tspan><tspan x="409.669922" y="-0.237366" style="font-size: 17.4px; font-family: 'DejaVu Sans', sans-serif">n</tspan><tspan x="420.682007" y="-0.237366" style="font-size: 17.4px; font-family: 'DejaVu Sans', sans-serif">c</tspan><tspan x="430.234863" y="-0.237366" style="font-size: 17.4px; font-family: 'DejaVu Sans', sans-serif">k</tspan><tspan x="440.296753" y="-0.237366" style="font-size: 17.4px; font-family: 'DejaVu Sans', sans-serif"> </tspan><tspan x="445.819763" y="-0.237366" style="font-size: 17.4px; font-family: 'DejaVu Sans', sans-serif">2</tspan><tspan x="456.874268" y="-0.237366" style="font-size: 17.4px; font-family: 'DejaVu Sans', sans-serif">0</tspan><tspan x="467.928772" y="-0.237366" style="font-size: 17.4px; font-family: 'DejaVu Sans', sans-serif">1</tspan><tspan x="478.983276" y="-0.237366" style="font-size: 17.4px; font-family: 'DejaVu Sans', sans-serif">8</tspan><tspan x="490.037781" y="-0.237366" style="font-size: 17.4px; font-family: 'DejaVu Sans', sans-serif">:</tspan><tspan x="495.891663" y="-0.237366" style="font-size: 17.4px; font-family: 'DejaVu Sans', sans-serif"> </tspan><tspan x="573.581322" y="-0.237366" style="font-size: 17.4px; font-family: 'DejaVu Sans', sans-serif">,</tspan><tspan x="579.104332" y="-0.237366" style="font-size: 17.4px; font-family: 'DejaVu Sans', sans-serif"> </tspan><tspan x="669.146595" y="-0.237366" style="font-size: 17.4px; font-family: 'DejaVu Sans', sans-serif">,</tspan><tspan x="674.669606" y="-0.237366" style="font-size: 17.4px; font-family: 'DejaVu Sans', sans-serif"> </tspan></text><text transform="translate(502.264 -0.237) scale(1.0873 1.0433)" style="font-size: 17.4px; font-family: 'Liberation Serif', serif; font-style: italic">H</text><text transform="translate(560.861 -0.466) scale(0.9298 0.9298)" style="font-size: 17.4px; font-family: 'Liberation Serif', serif; font-style: italic">.</text><text transform="translate(584.278 -0.042) scale(1.1583 0.9617)" style="font-size: 17.4px; font-family: 'Liberation Serif', serif; font-style: italic">r</text><text transform="translate(600.102 -0.042) scale(1.1734 1.0162)" style="font-size: 17.4px; font-family: 'Liberation Serif', serif; font-style: italic">h</text><text transform="translate(656.426 -0.466) scale(0.9298 0.9298)" style="font-size: 17.4px; font-family: 'Liberation Serif', serif; font-style: italic">.</text><text transform="translate(705.514 -0.042) scale(1.1734 1.0162)" style="font-size: 17.4px; font-family: 'Liberation Serif', serif; font-style: italic">h</text><text transform="translate(753.659 -0.466) scale(0.9298 0.9298)" style="font-size: 17.4px; font-family: 'Liberation Serif', serif; font-style: italic">.</text><text transform="translate(515.882 2.868) scale(0.9931 1.0195)" style="font-size: 12.18px; font-family: 'Liberation Serif', serif">0</text><text transform="translate(717.434 -6.895) scale(0.9963 1.0059)" style="font-size: 12.18px; font-family: 'Liberation Serif', serif">2</text><text transform="translate(525.856 0.829) scale(1.4292 0.9375)" style="font-size: 17.4px; font-family: 'Liberation Serif', serif">=</text><text transform="translate(542.444 0.145) scale(1.0578 1.0656)" style="font-size: 17.4px; font-family: 'Liberation Serif', serif">7</text><text transform="translate(551.458 -0.028) scale(0.9793 1.0195)" style="font-size: 17.4px; font-family: 'Liberation Serif', serif">8</text><text transform="translate(564.908 -0.028) scale(0.9931 1.0195)" style="font-size: 17.4px; font-family: 'Liberation Serif', serif">0</text><text transform="translate(612.726 0.829) scale(1.4292 0.9375)" style="font-size: 17.4px; font-family: 'Liberation Serif', serif">=</text><text transform="translate(629.612 -0.237) scale(0.9487 1.0089)" style="font-size: 17.4px; font-family: 'Liberation Serif', serif">1</text><text transform="translate(638.307 -0.237) scale(0.9487 1.0089)" style="font-size: 17.4px; font-family: 'Liberation Serif', serif">1</text><text transform="translate(646.835 -0.029) scale(1.0047 1.024)" style="font-size: 17.4px; font-family: 'Liberation Serif', serif">3</text><text transform="translate(660.456 -0.029) scale(0.9714 1.024)" style="font-size: 17.4px; font-family: 'Liberation Serif', serif">6</text><text transform="translate(680.066 -0.237) scale(0.9893 1.0649)" style="font-size: 17.4px; font-family: 'Liberation Serif', serif">Ω</text><text transform="translate(727.349 0.829) scale(1.4292 0.9375)" style="font-size: 17.4px; font-family: 'Liberation Serif', serif">=</text><text transform="translate(744.196 -0.028) scale(0.9931 1.0195)" style="font-size: 17.4px; font-family: 'Liberation Serif', serif">0</text><text transform="translate(757.746 -0.237) scale(0.9487 1.0089)" style="font-size: 17.4px; font-family: 'Liberation Serif', serif">1</text><text transform="translate(766.54 -0.237) scale(0.9538 1.0119)" style="font-size: 17.4px; font-family: 'Liberation Serif', serif">4</text><text transform="translate(775.235 -0.237) scale(0.9538 1.0119)" style="font-size: 17.4px; font-family: 'Liberation Serif', serif">4</text><text transform="translate(783.774 -0.029) scale(0.9714 1.024)" style="font-size: 17.4px; font-family: 'Liberation Serif', serif">6</text><text transform="translate(592.562 2.733) scale(1.0186 1.0014)" style="font-size: 12.18px; font-family: 'Liberation Serif', serif; font-style: italic">d</text><text transform="translate(693.292 2.859) scale(1.2798 0.9617)" style="font-size: 12.18px; font-family: 'Liberation Serif', serif; font-style: italic">m</text>
    </g>
   </g>
   <g id="line2d_187">
    <g>
     <path d="M -4.375 -7.577722 L -8.75 -0 L -4.375 7.577722 L 4.375 7.577722 L 8.75 0 L 4.375 -7.577722 z" transform="translate(27.118 1066.522)" style="fill: #800080"/>
    </g>
   </g>
   <g id="text_25">
    <!-- VM-VEV, Di Valentino et al. (2020), Planck 2018: $H_0=76.7$, $r_dh=112.9$, $\Omega_mh^2=0.1430$ -->
    <g transform="translate(41.0376 1071.6755)">
     <text><tspan x="0" y="-0.237366" style="font-size: 17.4px; font-family: 'DejaVu Sans', sans-serif">V</tspan><tspan x="11.885925" y="-0.237366" style="font-size: 17.4px; font-family: 'DejaVu Sans', sans-serif">M</tspan><tspan x="26.876953" y="-0.237366" style="font-size: 17.4px; font-family: 'DejaVu Sans', sans-serif">-</tspan><tspan x="33.146545" y="-0.237366" style="font-size: 17.4px; font-family: 'DejaVu Sans', sans-serif">V</tspan><tspan x="45.032471" y="-0.237366" style="font-size: 17.4px; font-family: 'DejaVu Sans', sans-serif">E</tspan><tspan x="56.01062" y="-0.237366" style="font-size: 17.4px; font-family: 'DejaVu Sans', sans-serif">V</tspan><tspan x="67.896545" y="-0.237366" style="font-size: 17.4px; font-family: 'DejaVu Sans', sans-serif">,</tspan><tspan x="73.419556" y="-0.237366" style="font-size: 17.4px; font-family: 'DejaVu Sans', sans-serif"> </tspan><tspan x="78.942566" y="-0.237366" style="font-size: 17.4px; font-family: 'DejaVu Sans', sans-serif">D</tspan><tspan x="92.321655" y="-0.237366" style="font-size: 17.4px; font-family: 'DejaVu Sans', sans-serif">i</tspan><tspan x="97.148987" y="-0.237366" style="font-size: 17.4px; font-family: 'DejaVu Sans', sans-serif"> </tspan><tspan x="102.671997" y="-0.237366" style="font-size: 17.4px; font-family: 'DejaVu Sans', sans-serif">V</tspan><tspan x="114.557922" y="-0.237366" style="font-size: 17.4px; font-family: 'DejaVu Sans', sans-serif">a</tspan><tspan x="125.2052" y="-0.237366" style="font-size: 17.4px; font-family: 'DejaVu Sans', sans-serif">l</tspan><tspan x="130.032532" y="-0.237366" style="font-size: 17.4px; font-family: 'DejaVu Sans', sans-serif">e</tspan><tspan x="140.722229" y="-0.237366" style="font-size: 17.4px; font-family: 'DejaVu Sans', sans-serif">n</tspan><tspan x="151.734314" y="-0.237366" style="font-size: 17.4px; font-family: 'DejaVu Sans', sans-serif">t</tspan><tspan x="158.546875" y="-0.237366" style="font-size: 17.4px; font-family: 'DejaVu Sans', sans-serif">i</tspan><tspan x="163.374207" y="-0.237366" style="font-size: 17.4px; font-family: 'DejaVu Sans', sans-serif">n</tspan><tspan x="174.386292" y="-0.237366" style="font-size: 17.4px; font-family: 'DejaVu Sans', sans-serif">o</tspan><tspan x="185.016602" y="-0.237366" style="font-size: 17.4px; font-family: 'DejaVu Sans', sans-serif"> </tspan><tspan x="190.539612" y="-0.237366" style="font-size: 17.4px; font-family: 'DejaVu Sans', sans-serif">e</tspan><tspan x="201.229309" y="-0.237366" style="font-size: 17.4px; font-family: 'DejaVu Sans', sans-serif">t</tspan><tspan x="208.04187" y="-0.237366" style="font-size: 17.4px; font-family: 'DejaVu Sans', sans-serif"> </tspan><tspan x="213.56488" y="-0.237366" style="font-size: 17.4px; font-family: 'DejaVu Sans', sans-serif">a</tspan><tspan x="224.212158" y="-0.237366" style="font-size: 17.4px; font-family: 'DejaVu Sans', sans-serif">l</tspan><tspan x="229.03949" y="-0.237366" style="font-size: 17.4px; font-family: 'DejaVu Sans', sans-serif">.</tspan><tspan x="234.5625" y="-0.237366" style="font-size: 17.4px; font-family: 'DejaVu Sans', sans-serif"> </tspan><tspan x="240.08551" y="-0.237366" style="font-size: 17.4px; font-family: 'DejaVu Sans', sans-serif">(</tspan><tspan x="246.864136" y="-0.237366" style="font-size: 17.4px; font-family: 'DejaVu Sans', sans-serif">2</tspan><tspan x="257.91864" y="-0.237366" style="font-size: 17.4px; font-family: 'DejaVu Sans', sans-serif">0</tspan><tspan x="268.973145" y="-0.237366" style="font-size: 17.4px; font-family: 'DejaVu Sans', sans-serif">2</tspan><tspan x="280.027649" y="-0.237366" style="font-size: 17.4px; font-family: 'DejaVu Sans', sans-serif">0</tspan><tspan x="291.082153" y="-0.237366" style="font-size: 17.4px; font-family: 'DejaVu Sans', sans-serif">)</tspan><tspan x="297.860779" y="-0.237366" style="font-size: 17.4px; font-family: 'DejaVu Sans', sans-serif">,</tspan><tspan x="303.383789" y="-0.237366" style="font-size: 17.4px; font-family: 'DejaVu Sans', sans-serif"> </tspan><tspan x="308.906799" y="-0.237366" style="font-size: 17.4px; font-family: 'DejaVu Sans', sans-serif">P</tspan><tspan x="319.384399" y="-0.237366" style="font-size: 17.4px; font-family: 'DejaVu Sans', sans-serif">l</tspan><tspan x="324.211731" y="-0.237366" style="font-size: 17.4px; font-family: 'DejaVu Sans', sans-serif">a</tspan><tspan x="334.859009" y="-0.237366" style="font-size: 17.4px; font-family: 'DejaVu Sans', sans-serif">n</tspan><tspan x="345.871094" y="-0.237366" style="font-size: 17.4px; font-family: 'DejaVu Sans', sans-serif">c</tspan><tspan x="355.42395" y="-0.237366" style="font-size: 17.4px; font-family: 'DejaVu Sans', sans-serif">k</tspan><tspan x="365.48584" y="-0.237366" style="font-size: 17.4px; font-family: 'DejaVu Sans', sans-serif"> </tspan><tspan x="371.00885" y="-0.237366" style="font-size: 17.4px; font-family: 'DejaVu Sans', sans-serif">2</tspan><tspan x="382.063354" y="-0.237366" style="font-size: 17.4px; font-family: 'DejaVu Sans', sans-serif">0</tspan><tspan x="393.117859" y="-0.237366" style="font-size: 17.4px; font-family: 'DejaVu Sans', sans-serif">1</tspan><tspan x="404.172363" y="-0.237366" style="font-size: 17.4px; font-family: 'DejaVu Sans', sans-serif">8</tspan><tspan x="415.226868" y="-0.237366" style="font-size: 17.4px; font-family: 'DejaVu Sans', sans-serif">:</tspan><tspan x="421.08075" y="-0.237366" style="font-size: 17.4px; font-family: 'DejaVu Sans', sans-serif"> </tspan><tspan x="498.770409" y="-0.237366" style="font-size: 17.4px; font-family: 'DejaVu Sans', sans-serif">,</tspan><tspan x="504.293419" y="-0.237366" style="font-size: 17.4px; font-family: 'DejaVu Sans', sans-serif"> </tspan><tspan x="594.335682" y="-0.237366" style="font-size: 17.4px; font-family: 'DejaVu Sans', sans-serif">,</tspan><tspan x="599.858692" y="-0.237366" style="font-size: 17.4px; font-family: 'DejaVu Sans', sans-serif"> </tspan></text><text transform="translate(427.453 -0.237) scale(1.0873 1.0433)" style="font-size: 17.4px; font-family: 'Liberation Serif', serif; font-style: italic">H</text><text transform="translate(486.05 -0.466) scale(0.9298 0.9298)" style="font-size: 17.4px; font-family: 'Liberation Serif', serif; font-style: italic">.</text><text transform="translate(509.467 -0.042) scale(1.1583 0.9617)" style="font-size: 17.4px; font-family: 'Liberation Serif', serif; font-style: italic">r</text><text transform="translate(525.291 -0.042) scale(1.1734 1.0162)" style="font-size: 17.4px; font-family: 'Liberation Serif', serif; font-style: italic">h</text><text transform="translate(581.616 -0.466) scale(0.9298 0.9298)" style="font-size: 17.4px; font-family: 'Liberation Serif', serif; font-style: italic">.</text><text transform="translate(630.703 -0.042) scale(1.1734 1.0162)" style="font-size: 17.4px; font-family: 'Liberation Serif', serif; font-style: italic">h</text><text transform="translate(678.848 -0.466) scale(0.9298 0.9298)" style="font-size: 17.4px; font-family: 'Liberation Serif', serif; font-style: italic">.</text><text transform="translate(441.071 2.868) scale(0.9931 1.0195)" style="font-size: 12.18px; font-family: 'Liberation Serif', serif">0</text><text transform="translate(642.623 -6.895) scale(0.9963 1.0059)" style="font-size: 12.18px; font-family: 'Liberation Serif', serif">2</text><text transform="translate(451.045 0.829) scale(1.4292 0.9375)" style="font-size: 17.4px; font-family: 'Liberation Serif', serif">=</text><text transform="translate(467.634 0.145) scale(1.0578 1.0656)" style="font-size: 17.4px; font-family: 'Liberation Serif', serif">7</text><text transform="translate(476.569 -0.029) scale(0.9714 1.024)" style="font-size: 17.4px; font-family: 'Liberation Serif', serif">6</text><text transform="translate(489.839 0.145) scale(1.0578 1.0656)" style="font-size: 17.4px; font-family: 'Liberation Serif', serif">7</text><text transform="translate(537.915 0.829) scale(1.4292 0.9375)" style="font-size: 17.4px; font-family: 'Liberation Serif', serif">=</text><text transform="translate(554.801 -0.237) scale(0.9487 1.0089)" style="font-size: 17.4px; font-family: 'Liberation Serif', serif">1</text><text transform="translate(563.497 -0.237) scale(0.9487 1.0089)" style="font-size: 17.4px; font-family: 'Liberation Serif', serif">1</text><text transform="translate(572.235 -0.237) scale(0.9963 1.0059)" style="font-size: 17.4px; font-family: 'Liberation Serif', serif">2</text><text transform="translate(585.826 -0.029) scale(0.9725 1.024)" style="font-size: 17.4px; font-family: 'Liberation Serif', serif">9</text><text transform="translate(605.255 -0.237) scale(0.9893 1.0649)" style="font-size: 17.4px; font-family: 'Liberation Serif', serif">Ω</text><text transform="translate(652.538 0.829) scale(1.4292 0.9375)" style="font-size: 17.4px; font-family: 'Liberation Serif', serif">=</text><text transform="translate(669.385 -0.028) scale(0.9931 1.0195)" style="font-size: 17.4px; font-family: 'Liberation Serif', serif">0</text><text transform="translate(682.935 -0.237) scale(0.9487 1.0089)" style="font-size: 17.4px; font-family: 'Liberation Serif', serif">1</text><text transform="translate(691.729 -0.237) scale(0.9538 1.0119)" style="font-size: 17.4px; font-family: 'Liberation Serif', serif">4</text><text transform="translate(700.158 -0.029) scale(1.0047 1.024)" style="font-size: 17.4px; font-family: 'Liberation Serif', serif">3</text><text transform="translate(708.981 -0.028) scale(0.9931 1.0195)" style="font-size: 17.4px; font-family: 'Liberation Serif', serif">0</text><text transform="translate(517.751 2.733) scale(1.0186 1.0014)" style="font-size: 12.18px; font-family: 'Liberation Serif', serif; font-style: italic">d</text><text transform="translate(618.481 2.859) scale(1.2798 0.9617)" style="font-size: 12.18px; font-family: 'Liberation Serif', serif; font-style: italic">m</text>
    </g>
   </g>
   <g id="line2d_188">
    <g>
     <path d="M -4.375 8.75 L 0 4.375 L 4.375 8.75 L 8.75 4.375 L 4.375 0 L 8.75 -4.375 L 4.375 -8.75 L 0 -4.375 L -4.375 -8.75 L -8.75 -4.375 L -4.375 0 L -8.75 4.375 z" transform="translate(27.118 1095.736)" style="fill: #0000ff"/>
    </g>
   </g>
   <g id="text_26">
    <!-- VM-VEV, Di Valentino et al. (2018), Planck 2015: $H_0=71.6$, $\Omega_mh^2=0.1422$ -->
    <g transform="translate(41.0376 1100.8901)">
     <text><tspan x="0" y="-0.237366" style="font-size: 17.4px; font-family: 'DejaVu Sans', sans-serif">V</tspan><tspan x="11.885925" y="-0.237366" style="font-size: 17.4px; font-family: 'DejaVu Sans', sans-serif">M</tspan><tspan x="26.876953" y="-0.237366" style="font-size: 17.4px; font-family: 'DejaVu Sans', sans-serif">-</tspan><tspan x="33.146545" y="-0.237366" style="font-size: 17.4px; font-family: 'DejaVu Sans', sans-serif">V</tspan><tspan x="45.032471" y="-0.237366" style="font-size: 17.4px; font-family: 'DejaVu Sans', sans-serif">E</tspan><tspan x="56.01062" y="-0.237366" style="font-size: 17.4px; font-family: 'DejaVu Sans', sans-serif">V</tspan><tspan x="67.896545" y="-0.237366" style="font-size: 17.4px; font-family: 'DejaVu Sans', sans-serif">,</tspan><tspan x="73.419556" y="-0.237366" style="font-size: 17.4px; font-family: 'DejaVu Sans', sans-serif"> </tspan><tspan x="78.942566" y="-0.237366" style="font-size: 17.4px; font-family: 'DejaVu Sans', sans-serif">D</tspan><tspan x="92.321655" y="-0.237366" style="font-size: 17.4px; font-family: 'DejaVu Sans', sans-serif">i</tspan><tspan x="97.148987" y="-0.237366" style="font-size: 17.4px; font-family: 'DejaVu Sans', sans-serif"> </tspan><tspan x="102.671997" y="-0.237366" style="font-size: 17.4px; font-family: 'DejaVu Sans', sans-serif">V</tspan><tspan x="114.557922" y="-0.237366" style="font-size: 17.4px; font-family: 'DejaVu Sans', sans-serif">a</tspan><tspan x="125.2052" y="-0.237366" style="font-size: 17.4px; font-family: 'DejaVu Sans', sans-serif">l</tspan><tspan x="130.032532" y="-0.237366" style="font-size: 17.4px; font-family: 'DejaVu Sans', sans-serif">e</tspan><tspan x="140.722229" y="-0.237366" style="font-size: 17.4px; font-family: 'DejaVu Sans', sans-serif">n</tspan><tspan x="151.734314" y="-0.237366" style="font-size: 17.4px; font-family: 'DejaVu Sans', sans-serif">t</tspan><tspan x="158.546875" y="-0.237366" style="font-size: 17.4px; font-family: 'DejaVu Sans', sans-serif">i</tspan><tspan x="163.374207" y="-0.237366" style="font-size: 17.4px; font-family: 'DejaVu Sans', sans-serif">n</tspan><tspan x="174.386292" y="-0.237366" style="font-size: 17.4px; font-family: 'DejaVu Sans', sans-serif">o</tspan><tspan x="185.016602" y="-0.237366" style="font-size: 17.4px; font-family: 'DejaVu Sans', sans-serif"> </tspan><tspan x="190.539612" y="-0.237366" style="font-size: 17.4px; font-family: 'DejaVu Sans', sans-serif">e</tspan><tspan x="201.229309" y="-0.237366" style="font-size: 17.4px; font-family: 'DejaVu Sans', sans-serif">t</tspan><tspan x="208.04187" y="-0.237366" style="font-size: 17.4px; font-family: 'DejaVu Sans', sans-serif"> </tspan><tspan x="213.56488" y="-0.237366" style="font-size: 17.4px; font-family: 'DejaVu Sans', sans-serif">a</tspan><tspan x="224.212158" y="-0.237366" style="font-size: 17.4px; font-family: 'DejaVu Sans', sans-serif">l</tspan><tspan x="229.03949" y="-0.237366" style="font-size: 17.4px; font-family: 'DejaVu Sans', sans-serif">.</tspan><tspan x="234.5625" y="-0.237366" style="font-size: 17.4px; font-family: 'DejaVu Sans', sans-serif"> </tspan><tspan x="240.08551" y="-0.237366" style="font-size: 17.4px; font-family: 'DejaVu Sans', sans-serif">(</tspan><tspan x="246.864136" y="-0.237366" style="font-size: 17.4px; font-family: 'DejaVu Sans', sans-serif">2</tspan><tspan x="257.91864" y="-0.237366" style="font-size: 17.4px; font-family: 'DejaVu Sans', sans-serif">0</tspan><tspan x="268.973145" y="-0.237366" style="font-size: 17.4px; font-family: 'DejaVu Sans', sans-serif">1</tspan><tspan x="280.027649" y="-0.237366" style="font-size: 17.4px; font-family: 'DejaVu Sans', sans-serif">8</tspan><tspan x="291.082153" y="-0.237366" style="font-size: 17.4px; font-family: 'DejaVu Sans', sans-serif">)</tspan><tspan x="297.860779" y="-0.237366" style="font-size: 17.4px; font-family: 'DejaVu Sans', sans-serif">,</tspan><tspan x="303.383789" y="-0.237366" style="font-size: 17.4px; font-family: 'DejaVu Sans', sans-serif"> </tspan><tspan x="308.906799" y="-0.237366" style="font-size: 17.4px; font-family: 'DejaVu Sans', sans-serif">P</tspan><tspan x="319.384399" y="-0.237366" style="font-size: 17.4px; font-family: 'DejaVu Sans', sans-serif">l</tspan><tspan x="324.211731" y="-0.237366" style="font-size: 17.4px; font-family: 'DejaVu Sans', sans-serif">a</tspan><tspan x="334.859009" y="-0.237366" style="font-size: 17.4px; font-family: 'DejaVu Sans', sans-serif">n</tspan><tspan x="345.871094" y="-0.237366" style="font-size: 17.4px; font-family: 'DejaVu Sans', sans-serif">c</tspan><tspan x="355.42395" y="-0.237366" style="font-size: 17.4px; font-family: 'DejaVu Sans', sans-serif">k</tspan><tspan x="365.48584" y="-0.237366" style="font-size: 17.4px; font-family: 'DejaVu Sans', sans-serif"> </tspan><tspan x="371.00885" y="-0.237366" style="font-size: 17.4px; font-family: 'DejaVu Sans', sans-serif">2</tspan><tspan x="382.063354" y="-0.237366" style="font-size: 17.4px; font-family: 'DejaVu Sans', sans-serif">0</tspan><tspan x="393.117859" y="-0.237366" style="font-size: 17.4px; font-family: 'DejaVu Sans', sans-serif">1</tspan><tspan x="404.172363" y="-0.237366" style="font-size: 17.4px; font-family: 'DejaVu Sans', sans-serif">5</tspan><tspan x="414.476868" y="-0.237366" style="font-size: 17.4px; font-family: 'DejaVu Sans', sans-serif">:</tspan><tspan x="420.33075" y="-0.237366" style="font-size: 17.4px; font-family: 'DejaVu Sans', sans-serif"> </tspan><tspan x="498.020409" y="-0.237366" style="font-size: 17.4px; font-family: 'DejaVu Sans', sans-serif">,</tspan><tspan x="503.543419" y="-0.237366" style="font-size: 17.4px; font-family: 'DejaVu Sans', sans-serif"> </tspan></text><text transform="translate(426.703 -0.237) scale(1.0873 1.0433)" style="font-size: 17.4px; font-family: 'Liberation Serif', serif; font-style: italic">H</text><text transform="translate(485.3 -0.466) scale(0.9298 0.9298)" style="font-size: 17.4px; font-family: 'Liberation Serif', serif; font-style: italic">.</text><text transform="translate(534.388 -0.042) scale(1.1734 1.0162)" style="font-size: 17.4px; font-family: 'Liberation Serif', serif; font-style: italic">h</text><text transform="translate(582.533 -0.466) scale(0.9298 0.9298)" style="font-size: 17.4px; font-family: 'Liberation Serif', serif; font-style: italic">.</text><text transform="translate(440.321 2.868) scale(0.9931 1.0195)" style="font-size: 12.18px; font-family: 'Liberation Serif', serif">0</text><text transform="translate(546.308 -6.895) scale(0.9963 1.0059)" style="font-size: 12.18px; font-family: 'Liberation Serif', serif">2</text><text transform="translate(450.295 0.829) scale(1.4292 0.9375)" style="font-size: 17.4px; font-family: 'Liberation Serif', serif">=</text><text transform="translate(466.884 0.145) scale(1.0578 1.0656)" style="font-size: 17.4px; font-family: 'Liberation Serif', serif">7</text><text transform="translate(475.877 -0.237) scale(0.9487 1.0089)" style="font-size: 17.4px; font-family: 'Liberation Serif', serif">1</text><text transform="translate(489.329 -0.029) scale(0.9714 1.024)" style="font-size: 17.4px; font-family: 'Liberation Serif', serif">6</text><text transform="translate(508.94 -0.237) scale(0.9893 1.0649)" style="font-size: 17.4px; font-family: 'Liberation Serif', serif">Ω</text><text transform="translate(556.223 0.829) scale(1.4292 0.9375)" style="font-size: 17.4px; font-family: 'Liberation Serif', serif">=</text><text transform="translate(573.07 -0.028) scale(0.9931 1.0195)" style="font-size: 17.4px; font-family: 'Liberation Serif', serif">0</text><text transform="translate(586.619 -0.237) scale(0.9487 1.0089)" style="font-size: 17.4px; font-family: 'Liberation Serif', serif">1</text><text transform="translate(595.413 -0.237) scale(0.9538 1.0119)" style="font-size: 17.4px; font-family: 'Liberation Serif', serif">4</text><text transform="translate(604.053 -0.237) scale(0.9963 1.0059)" style="font-size: 17.4px; font-family: 'Liberation Serif', serif">2</text><text transform="translate(612.749 -0.237) scale(0.9963 1.0059)" style="font-size: 17.4px; font-family: 'Liberation Serif', serif">2</text><text transform="translate(522.166 2.859) scale(1.2798 0.9617)" style="font-size: 12.18px; font-family: 'Liberation Serif', serif; font-style: italic">m</text>
    </g>
   </g>
   <g id="line2d_189">
    <g>
     <path d="M -8.75 8.75 L 8.75 8.75 L 8.75 -8.75 L -8.75 -8.75 z" transform="translate(27.118 1124.951)" style=""/>
    </g>
   </g>
   <g id="text_27">
    <!-- VM-VEV (+neutrinos), Di Valentino et al. (2021), Planck 2018: $H_0=75.2$, $r_dh=111.6$, $\Omega_mh^2=0.1420$ -->
    <g transform="translate(41.0376 1130.1047)">
     <text><tspan x="0" y="-0.237366" style="font-size: 17.4px; font-family: 'DejaVu Sans', sans-serif">V</tspan><tspan x="11.885925" y="-0.237366" style="font-size: 17.4px; font-family: 'DejaVu Sans', sans-serif">M</tspan><tspan x="26.876953" y="-0.237366" style="font-size: 17.4px; font-family: 'DejaVu Sans', sans-serif">-</tspan><tspan x="33.146545" y="-0.237366" style="font-size: 17.4px; font-family: 'DejaVu Sans', sans-serif">V</tspan><tspan x="45.032471" y="-0.237366" style="font-size: 17.4px; font-family: 'DejaVu Sans', sans-serif">E</tspan><tspan x="56.01062" y="-0.237366" style="font-size: 17.4px; font-family: 'DejaVu Sans', sans-serif">V</tspan><tspan x="67.896545" y="-0.237366" style="font-size: 17.4px; font-family: 'DejaVu Sans', sans-serif"> </tspan><tspan x="73.419556" y="-0.237366" style="font-size: 17.4px; font-family: 'DejaVu Sans', sans-serif">(</tspan><tspan x="80.198181" y="-0.237366" style="font-size: 17.4px; font-family: 'DejaVu Sans', sans-serif">+</tspan><tspan x="94.756531" y="-0.237366" style="font-size: 17.4px; font-family: 'DejaVu Sans', sans-serif">n</tspan><tspan x="105.768616" y="-0.237366" style="font-size: 17.4px; font-family: 'DejaVu Sans', sans-serif">e</tspan><tspan x="116.458313" y="-0.237366" style="font-size: 17.4px; font-family: 'DejaVu Sans', sans-serif">u</tspan><tspan x="127.470398" y="-0.237366" style="font-size: 17.4px; font-family: 'DejaVu Sans', sans-serif">t</tspan><tspan x="134.282959" y="-0.237366" style="font-size: 17.4px; font-family: 'DejaVu Sans', sans-serif">r</tspan><tspan x="141.426392" y="-0.237366" style="font-size: 17.4px; font-family: 'DejaVu Sans', sans-serif">i</tspan><tspan x="146.253723" y="-0.237366" style="font-size: 17.4px; font-family: 'DejaVu Sans', sans-serif">n</tspan><tspan x="157.265808" y="-0.237366" style="font-size: 17.4px; font-family: 'DejaVu Sans', sans-serif">o</tspan><tspan x="167.896118" y="-0.237366" style="font-size: 17.4px; font-family: 'DejaVu Sans', sans-serif">s</tspan><tspan x="176.948425" y="-0.237366" style="font-size: 17.4px; font-family: 'DejaVu Sans', sans-serif">)</tspan><tspan x="183.727051" y="-0.237366" style="font-size: 17.4px; font-family: 'DejaVu Sans', sans-serif">,</tspan><tspan x="189.250061" y="-0.237366" style="font-size: 17.4px; font-family: 'DejaVu Sans', sans-serif"> </tspan><tspan x="194.773071" y="-0.237366" style="font-size: 17.4px; font-family: 'DejaVu Sans', sans-serif">D</tspan><tspan x="208.152161" y="-0.237366" style="font-size: 17.4px; font-family: 'DejaVu Sans', sans-serif">i</tspan><tspan x="212.979492" y="-0.237366" style="font-size: 17.4px; font-family: 'DejaVu Sans', sans-serif"> </tspan><tspan x="218.502502" y="-0.237366" style="font-size: 17.4px; font-family: 'DejaVu Sans', sans-serif">V</tspan><tspan x="230.388428" y="-0.237366" style="font-size: 17.4px; font-family: 'DejaVu Sans', sans-serif">a</tspan><tspan x="241.035706" y="-0.237366" style="font-size: 17.4px; font-family: 'DejaVu Sans', sans-serif">l</tspan><tspan x="245.863037" y="-0.237366" style="font-size: 17.4px; font-family: 'DejaVu Sans', sans-serif">e</tspan><tspan x="256.552734" y="-0.237366" style="font-size: 17.4px; font-family: 'DejaVu Sans', sans-serif">n</tspan><tspan x="267.564819" y="-0.237366" style="font-size: 17.4px; font-family: 'DejaVu Sans', sans-serif">t</tspan><tspan x="274.37738" y="-0.237366" style="font-size: 17.4px; font-family: 'DejaVu Sans', sans-serif">i</tspan><tspan x="279.204712" y="-0.237366" style="font-size: 17.4px; font-family: 'DejaVu Sans', sans-serif">n</tspan><tspan x="290.216797" y="-0.237366" style="font-size: 17.4px; font-family: 'DejaVu Sans', sans-serif">o</tspan><tspan x="300.847107" y="-0.237366" style="font-size: 17.4px; font-family: 'DejaVu Sans', sans-serif"> </tspan><tspan x="306.370117" y="-0.237366" style="font-size: 17.4px; font-family: 'DejaVu Sans', sans-serif">e</tspan><tspan x="317.059814" y="-0.237366" style="font-size: 17.4px; font-family: 'DejaVu Sans', sans-serif">t</tspan><tspan x="323.872375" y="-0.237366" style="font-size: 17.4px; font-family: 'DejaVu Sans', sans-serif"> </tspan><tspan x="329.395386" y="-0.237366" style="font-size: 17.4px; font-family: 'DejaVu Sans', sans-serif">a</tspan><tspan x="340.042664" y="-0.237366" style="font-size: 17.4px; font-family: 'DejaVu Sans', sans-serif">l</tspan><tspan x="344.869995" y="-0.237366" style="font-size: 17.4px; font-family: 'DejaVu Sans', sans-serif">.</tspan><tspan x="350.393005" y="-0.237366" style="font-size: 17.4px; font-family: 'DejaVu Sans', sans-serif"> </tspan><tspan x="355.916016" y="-0.237366" style="font-size: 17.4px; font-family: 'DejaVu Sans', sans-serif">(</tspan><tspan x="362.694641" y="-0.237366" style="font-size: 17.4px; font-family: 'DejaVu Sans', sans-serif">2</tspan><tspan x="373.749146" y="-0.237366" style="font-size: 17.4px; font-family: 'DejaVu Sans', sans-serif">0</tspan><tspan x="384.80365" y="-0.237366" style="font-size: 17.4px; font-family: 'DejaVu Sans', sans-serif">2</tspan><tspan x="395.858154" y="-0.237366" style="font-size: 17.4px; font-family: 'DejaVu Sans', sans-serif">1</tspan><tspan x="406.912659" y="-0.237366" style="font-size: 17.4px; font-family: 'DejaVu Sans', sans-serif">)</tspan><tspan x="413.691284" y="-0.237366" style="font-size: 17.4px; font-family: 'DejaVu Sans', sans-serif">,</tspan><tspan x="419.214294" y="-0.237366" style="font-size: 17.4px; font-family: 'DejaVu Sans', sans-serif"> </tspan><tspan x="424.737305" y="-0.237366" style="font-size: 17.4px; font-family: 'DejaVu Sans', sans-serif">P</tspan><tspan x="435.214905" y="-0.237366" style="font-size: 17.4px; font-family: 'DejaVu Sans', sans-serif">l</tspan><tspan x="440.042236" y="-0.237366" style="font-size: 17.4px; font-family: 'DejaVu Sans', sans-serif">a</tspan><tspan x="450.689514" y="-0.237366" style="font-size: 17.4px; font-family: 'DejaVu Sans', sans-serif">n</tspan><tspan x="461.701599" y="-0.237366" style="font-size: 17.4px; font-family: 'DejaVu Sans', sans-serif">c</tspan><tspan x="471.254456" y="-0.237366" style="font-size: 17.4px; font-family: 'DejaVu Sans', sans-serif">k</tspan><tspan x="481.316345" y="-0.237366" style="font-size: 17.4px; font-family: 'DejaVu Sans', sans-serif"> </tspan><tspan x="486.839355" y="-0.237366" style="font-size: 17.4px; font-family: 'DejaVu Sans', sans-serif">2</tspan><tspan x="497.89386" y="-0.237366" style="font-size: 17.4px; font-family: 'DejaVu Sans', sans-serif">0</tspan><tspan x="508.948364" y="-0.237366" style="font-size: 17.4px; font-family: 'DejaVu Sans', sans-serif">1</tspan><tspan x="520.002869" y="-0.237366" style="font-size: 17.4px; font-family: 'DejaVu Sans', sans-serif">8</tspan><tspan x="531.057373" y="-0.237366" style="font-size: 17.4px; font-family: 'DejaVu Sans', sans-serif">:</tspan><tspan x="536.911255" y="-0.237366" style="font-size: 17.4px; font-family: 'DejaVu Sans', sans-serif"> </tspan><tspan x="614.600915" y="-0.237366" style="font-size: 17.4px; font-family: 'DejaVu Sans', sans-serif">,</tspan><tspan x="620.123925" y="-0.237366" style="font-size: 17.4px; font-family: 'DejaVu Sans', sans-serif"> </tspan><tspan x="710.166188" y="-0.237366" style="font-size: 17.4px; font-family: 'DejaVu Sans', sans-serif">,</tspan><tspan x="715.689198" y="-0.237366" style="font-size: 17.4px; font-family: 'DejaVu Sans', sans-serif"> </tspan></text><text transform="translate(543.283 -0.237) scale(1.0873 1.0433)" style="font-size: 17.4px; font-family: 'Liberation Serif', serif; font-style: italic">H</text><text transform="translate(601.881 -0.466) scale(0.9298 0.9298)" style="font-size: 17.4px; font-family: 'Liberation Serif', serif; font-style: italic">.</text><text transform="translate(625.297 -0.042) scale(1.1583 0.9617)" style="font-size: 17.4px; font-family: 'Liberation Serif', serif; font-style: italic">r</text><text transform="translate(641.122 -0.042) scale(1.1734 1.0162)" style="font-size: 17.4px; font-family: 'Liberation Serif', serif; font-style: italic">h</text><text transform="translate(697.446 -0.466) scale(0.9298 0.9298)" style="font-size: 17.4px; font-family: 'Liberation Serif', serif; font-style: italic">.</text><text transform="translate(746.533 -0.042) scale(1.1734 1.0162)" style="font-size: 17.4px; font-family: 'Liberation Serif', serif; font-style: italic">h</text><text transform="translate(794.679 -0.466) scale(0.9298 0.9298)" style="font-size: 17.4px; font-family: 'Liberation Serif', serif; font-style: italic">.</text><text transform="translate(556.902 2.868) scale(0.9931 1.0195)" style="font-size: 12.18px; font-family: 'Liberation Serif', serif">0</text><text transform="translate(758.454 -6.895) scale(0.9963 1.0059)" style="font-size: 12.18px; font-family: 'Liberation Serif', serif">2</text><text transform="translate(566.875 0.829) scale(1.4292 0.9375)" style="font-size: 17.4px; font-family: 'Liberation Serif', serif">=</text><text transform="translate(583.464 0.145) scale(1.0578 1.0656)" style="font-size: 17.4px; font-family: 'Liberation Serif', serif">7</text><text transform="translate(592.26 -0.031) scale(0.9915 1.0353)" style="font-size: 17.4px; font-family: 'Liberation Serif', serif">5</text><text transform="translate(606.01 -0.237) scale(0.9963 1.0059)" style="font-size: 17.4px; font-family: 'Liberation Serif', serif">2</text><text transform="translate(653.745 0.829) scale(1.4292 0.9375)" style="font-size: 17.4px; font-family: 'Liberation Serif', serif">=</text><text transform="translate(670.632 -0.237) scale(0.9487 1.0089)" style="font-size: 17.4px; font-family: 'Liberation Serif', serif">1</text><text transform="translate(679.327 -0.237) scale(0.9487 1.0089)" style="font-size: 17.4px; font-family: 'Liberation Serif', serif">1</text><text transform="translate(688.022 -0.237) scale(0.9487 1.0089)" style="font-size: 17.4px; font-family: 'Liberation Serif', serif">1</text><text transform="translate(701.475 -0.029) scale(0.9714 1.024)" style="font-size: 17.4px; font-family: 'Liberation Serif', serif">6</text><text transform="translate(721.086 -0.237) scale(0.9893 1.0649)" style="font-size: 17.4px; font-family: 'Liberation Serif', serif">Ω</text><text transform="translate(768.369 0.829) scale(1.4292 0.9375)" style="font-size: 17.4px; font-family: 'Liberation Serif', serif">=</text><text transform="translate(785.215 -0.028) scale(0.9931 1.0195)" style="font-size: 17.4px; font-family: 'Liberation Serif', serif">0</text><text transform="translate(798.765 -0.237) scale(0.9487 1.0089)" style="font-size: 17.4px; font-family: 'Liberation Serif', serif">1</text><text transform="translate(807.559 -0.237) scale(0.9538 1.0119)" style="font-size: 17.4px; font-family: 'Liberation Serif', serif">4</text><text transform="translate(816.199 -0.237) scale(0.9963 1.0059)" style="font-size: 17.4px; font-family: 'Liberation Serif', serif">2</text><text transform="translate(824.811 -0.028) scale(0.9931 1.0195)" style="font-size: 17.4px; font-family: 'Liberation Serif', serif">0</text><text transform="translate(633.581 2.733) scale(1.0186 1.0014)" style="font-size: 12.18px; font-family: 'Liberation Serif', serif; font-style: italic">d</text><text transform="translate(734.312 2.859) scale(1.2798 0.9617)" style="font-size: 12.18px; font-family: 'Liberation Serif', serif; font-style: italic">m</text>
    </g>
   </g>
   <g id="line2d_190">
    <g>
     <path d="M -0 9.1875 L 9.1875 -9.1875 L -9.1875 -9.1875 z" transform="translate(27.118 1154.478)" style="fill: #ff69b4"/>
    </g>
   </g>
   <g id="text_28">
    <!-- PEDE, Yang et al. (2020), Planck 2018+CMB lensing+BAO+Pantheon+DES+R19: $H_0=72.16$, $r_dh=106.1$, $\Omega_mh^2=0.1433$ -->
    <g transform="translate(41.0376 1159.632)">
     <text><tspan x="0" y="-0.237366" style="font-size: 17.4px; font-family: 'DejaVu Sans', sans-serif">P</tspan><tspan x="10.4776" y="-0.237366" style="font-size: 17.4px; font-family: 'DejaVu Sans', sans-serif">E</tspan><tspan x="21.45575" y="-0.237366" style="font-size: 17.4px; font-family: 'DejaVu Sans', sans-serif">D</tspan><tspan x="34.834839" y="-0.237366" style="font-size: 17.4px; font-family: 'DejaVu Sans', sans-serif">E</tspan><tspan x="45.812988" y="-0.237366" style="font-size: 17.4px; font-family: 'DejaVu Sans', sans-serif">,</tspan><tspan x="51.335999" y="-0.237366" style="font-size: 17.4px; font-family: 'DejaVu Sans', sans-serif"> </tspan><tspan x="56.859009" y="-0.237366" style="font-size: 17.4px; font-family: 'DejaVu Sans', sans-serif">Y</tspan><tspan x="67.472351" y="-0.237366" style="font-size: 17.4px; font-family: 'DejaVu Sans', sans-serif">a</tspan><tspan x="78.119629" y="-0.237366" style="font-size: 17.4px; font-family: 'DejaVu Sans', sans-serif">n</tspan><tspan x="89.131714" y="-0.237366" style="font-size: 17.4px; font-family: 'DejaVu Sans', sans-serif">g</tspan><tspan x="100.160767" y="-0.237366" style="font-size: 17.4px; font-family: 'DejaVu Sans', sans-serif"> </tspan><tspan x="105.683777" y="-0.237366" style="font-size: 17.4px; font-family: 'DejaVu Sans', sans-serif">e</tspan><tspan x="116.373474" y="-0.237366" style="font-size: 17.4px; font-family: 'DejaVu Sans', sans-serif">t</tspan><tspan x="123.186035" y="-0.237366" style="font-size: 17.4px; font-family: 'DejaVu Sans', sans-serif"> </tspan><tspan x="128.709045" y="-0.237366" style="font-size: 17.4px; font-family: 'DejaVu Sans', sans-serif">a</tspan><tspan x="139.356323" y="-0.237366" style="font-size: 17.4px; font-family: 'DejaVu Sans', sans-serif">l</tspan><tspan x="144.183655" y="-0.237366" style="font-size: 17.4px; font-family: 'DejaVu Sans', sans-serif">.</tspan><tspan x="149.706665" y="-0.237366" style="font-size: 17.4px; font-family: 'DejaVu Sans', sans-serif"> </tspan><tspan x="155.229675" y="-0.237366" style="font-size: 17.4px; font-family: 'DejaVu Sans', sans-serif">(</tspan><tspan x="162.008301" y="-0.237366" style="font-size: 17.4px; font-family: 'DejaVu Sans', sans-serif">2</tspan><tspan x="173.062805" y="-0.237366" style="font-size: 17.4px; font-family: 'DejaVu Sans', sans-serif">0</tspan><tspan x="184.11731" y="-0.237366" style="font-size: 17.4px; font-family: 'DejaVu Sans', sans-serif">2</tspan><tspan x="195.171814" y="-0.237366" style="font-size: 17.4px; font-family: 'DejaVu Sans', sans-serif">0</tspan><tspan x="206.226318" y="-0.237366" style="font-size: 17.4px; font-family: 'DejaVu Sans', sans-serif">)</tspan><tspan x="213.004944" y="-0.237366" style="font-size: 17.4px; font-family: 'DejaVu Sans', sans-serif">,</tspan><tspan x="218.527954" y="-0.237366" style="font-size: 17.4px; font-family: 'DejaVu Sans', sans-serif"> </tspan><tspan x="224.050964" y="-0.237366" style="font-size: 17.4px; font-family: 'DejaVu Sans', sans-serif">P</tspan><tspan x="234.528564" y="-0.237366" style="font-size: 17.4px; font-family: 'DejaVu Sans', sans-serif">l</tspan><tspan x="239.355896" y="-0.237366" style="font-size: 17.4px; font-family: 'DejaVu Sans', sans-serif">a</tspan><tspan x="250.003174" y="-0.237366" style="font-size: 17.4px; font-family: 'DejaVu Sans', sans-serif">n</tspan><tspan x="261.015259" y="-0.237366" style="font-size: 17.4px; font-family: 'DejaVu Sans', sans-serif">c</tspan><tspan x="270.568115" y="-0.237366" style="font-size: 17.4px; font-family: 'DejaVu Sans', sans-serif">k</tspan><tspan x="280.630005" y="-0.237366" style="font-size: 17.4px; font-family: 'DejaVu Sans', sans-serif"> </tspan><tspan x="286.153015" y="-0.237366" style="font-size: 17.4px; font-family: 'DejaVu Sans', sans-serif">2</tspan><tspan x="297.20752" y="-0.237366" style="font-size: 17.4px; font-family: 'DejaVu Sans', sans-serif">0</tspan><tspan x="308.262024" y="-0.237366" style="font-size: 17.4px; font-family: 'DejaVu Sans', sans-serif">1</tspan><tspan x="319.316528" y="-0.237366" style="font-size: 17.4px; font-family: 'DejaVu Sans', sans-serif">8</tspan><tspan x="330.371033" y="-0.237366" style="font-size: 17.4px; font-family: 'DejaVu Sans', sans-serif">+</tspan><tspan x="344.929382" y="-0.237366" style="font-size: 17.4px; font-family: 'DejaVu Sans', sans-serif">C</tspan><tspan x="357.06134" y="-0.237366" style="font-size: 17.4px; font-family: 'DejaVu Sans', sans-serif">M</tspan><tspan x="372.052368" y="-0.237366" style="font-size: 17.4px; font-family: 'DejaVu Sans', sans-serif">B</tspan><tspan x="383.972229" y="-0.237366" style="font-size: 17.4px; font-family: 'DejaVu Sans', sans-serif"> </tspan><tspan x="389.495239" y="-0.237366" style="font-size: 17.4px; font-family: 'DejaVu Sans', sans-serif">l</tspan><tspan x="394.322571" y="-0.237366" style="font-size: 17.4px; font-family: 'DejaVu Sans', sans-serif">e</tspan><tspan x="405.012268" y="-0.237366" style="font-size: 17.4px; font-family: 'DejaVu Sans', sans-serif">n</tspan><tspan x="416.024353" y="-0.237366" style="font-size: 17.4px; font-family: 'DejaVu Sans', sans-serif">s</tspan><tspan x="425.07666" y="-0.237366" style="font-size: 17.4px; font-family: 'DejaVu Sans', sans-serif">i</tspan><tspan x="429.903992" y="-0.237366" style="font-size: 17.4px; font-family: 'DejaVu Sans', sans-serif">n</tspan><tspan x="440.916077" y="-0.237366" style="font-size: 17.4px; font-family: 'DejaVu Sans', sans-serif">g</tspan><tspan x="451.945129" y="-0.237366" style="font-size: 17.4px; font-family: 'DejaVu Sans', sans-serif">+</tspan><tspan x="466.503479" y="-0.237366" style="font-size: 17.4px; font-family: 'DejaVu Sans', sans-serif">B</tspan><tspan x="478.42334" y="-0.237366" style="font-size: 17.4px; font-family: 'DejaVu Sans', sans-serif">A</tspan><tspan x="490.309265" y="-0.237366" style="font-size: 17.4px; font-family: 'DejaVu Sans', sans-serif">O</tspan><tspan x="503.985291" y="-0.237366" style="font-size: 17.4px; font-family: 'DejaVu Sans', sans-serif">+</tspan><tspan x="518.54364" y="-0.237366" style="font-size: 17.4px; font-family: 'DejaVu Sans', sans-serif">P</tspan><tspan x="529.02124" y="-0.237366" style="font-size: 17.4px; font-family: 'DejaVu Sans', sans-serif">a</tspan><tspan x="539.668518" y="-0.237366" style="font-size: 17.4px; font-family: 'DejaVu Sans', sans-serif">n</tspan><tspan x="550.680603" y="-0.237366" style="font-size: 17.4px; font-family: 'DejaVu Sans', sans-serif">t</tspan><tspan x="557.493164" y="-0.237366" style="font-size: 17.4px; font-family: 'DejaVu Sans', sans-serif">h</tspan><tspan x="568.505249" y="-0.237366" style="font-size: 17.4px; font-family: 'DejaVu Sans', sans-serif">e</tspan><tspan x="579.194946" y="-0.237366" style="font-size: 17.4px; font-family: 'DejaVu Sans', sans-serif">o</tspan><tspan x="589.825256" y="-0.237366" style="font-size: 17.4px; font-family: 'DejaVu Sans', sans-serif">n</tspan><tspan x="600.837341" y="-0.237366" style="font-size: 17.4px; font-family: 'DejaVu Sans', sans-serif">+</tspan><tspan x="615.395691" y="-0.237366" style="font-size: 17.4px; font-family: 'DejaVu Sans', sans-serif">D</tspan><tspan x="628.77478" y="-0.237366" style="font-size: 17.4px; font-family: 'DejaVu Sans', sans-serif">E</tspan><tspan x="639.75293" y="-0.237366" style="font-size: 17.4px; font-family: 'DejaVu Sans', sans-serif">S</tspan><tspan x="650.781982" y="-0.237366" style="font-size: 17.4px; font-family: 'DejaVu Sans', sans-serif">+</tspan><tspan x="665.340332" y="-0.237366" style="font-size: 17.4px; font-family: 'DejaVu Sans', sans-serif">R</tspan><tspan x="677.412903" y="-0.237366" style="font-size: 17.4px; font-family: 'DejaVu Sans', sans-serif">1</tspan><tspan x="688.467407" y="-0.237366" style="font-size: 17.4px; font-family: 'DejaVu Sans', sans-serif">9</tspan><tspan x="699.521912" y="-0.237366" style="font-size: 17.4px; font-family: 'DejaVu Sans', sans-serif">:</tspan><tspan x="705.375793" y="-0.237366" style="font-size: 17.4px; font-family: 'DejaVu Sans', sans-serif"> </tspan><tspan x="791.760766" y="-0.237366" style="font-size: 17.4px; font-family: 'DejaVu Sans', sans-serif">,</tspan><tspan x="797.283776" y="-0.237366" style="font-size: 17.4px; font-family: 'DejaVu Sans', sans-serif"> </tspan><tspan x="887.326039" y="-0.237366" style="font-size: 17.4px; font-family: 'DejaVu Sans', sans-serif">,</tspan><tspan x="892.849049" y="-0.237366" style="font-size: 17.4px; font-family: 'DejaVu Sans', sans-serif"> </tspan></text><text transform="translate(711.748 -0.237) scale(1.0873 1.0433)" style="font-size: 17.4px; font-family: 'Liberation Serif', serif; font-style: italic">H</text><text transform="translate(770.345 -0.466) scale(0.9298 0.9298)" style="font-size: 17.4px; font-family: 'Liberation Serif', serif; font-style: italic">.</text><text transform="translate(802.457 -0.042) scale(1.1583 0.9617)" style="font-size: 17.4px; font-family: 'Liberation Serif', serif; font-style: italic">r</text><text transform="translate(818.281 -0.042) scale(1.1734 1.0162)" style="font-size: 17.4px; font-family: 'Liberation Serif', serif; font-style: italic">h</text><text transform="translate(874.606 -0.466) scale(0.9298 0.9298)" style="font-size: 17.4px; font-family: 'Liberation Serif', serif; font-style: italic">.</text><text transform="translate(923.693 -0.042) scale(1.1734 1.0162)" style="font-size: 17.4px; font-family: 'Liberation Serif', serif; font-style: italic">h</text><text transform="translate(971.839 -0.466) scale(0.9298 0.9298)" style="font-size: 17.4px; font-family: 'Liberation Serif', serif; font-style: italic">.</text><text transform="translate(725.366 2.868) scale(0.9931 1.0195)" style="font-size: 12.18px; font-family: 'Liberation Serif', serif">0</text><text transform="translate(935.613 -6.895) scale(0.9963 1.0059)" style="font-size: 12.18px; font-family: 'Liberation Serif', serif">2</text><text transform="translate(735.34 0.829) scale(1.4292 0.9375)" style="font-size: 17.4px; font-family: 'Liberation Serif', serif">=</text><text transform="translate(751.929 0.145) scale(1.0578 1.0656)" style="font-size: 17.4px; font-family: 'Liberation Serif', serif">7</text><text transform="translate(760.965 -0.237) scale(0.9963 1.0059)" style="font-size: 17.4px; font-family: 'Liberation Serif', serif">2</text><text transform="translate(774.432 -0.237) scale(0.9487 1.0089)" style="font-size: 17.4px; font-family: 'Liberation Serif', serif">1</text><text transform="translate(783.07 -0.029) scale(0.9714 1.024)" style="font-size: 17.4px; font-family: 'Liberation Serif', serif">6</text><text transform="translate(830.905 0.829) scale(1.4292 0.9375)" style="font-size: 17.4px; font-family: 'Liberation Serif', serif">=</text><text transform="translate(847.792 -0.237) scale(0.9487 1.0089)" style="font-size: 17.4px; font-family: 'Liberation Serif', serif">1</text><text transform="translate(856.447 -0.028) scale(0.9931 1.0195)" style="font-size: 17.4px; font-family: 'Liberation Serif', serif">0</text><text transform="translate(865.125 -0.029) scale(0.9714 1.024)" style="font-size: 17.4px; font-family: 'Liberation Serif', serif">6</text><text transform="translate(878.692 -0.237) scale(0.9487 1.0089)" style="font-size: 17.4px; font-family: 'Liberation Serif', serif">1</text><text transform="translate(898.246 -0.237) scale(0.9893 1.0649)" style="font-size: 17.4px; font-family: 'Liberation Serif', serif">Ω</text><text transform="translate(945.529 0.829) scale(1.4292 0.9375)" style="font-size: 17.4px; font-family: 'Liberation Serif', serif">=</text><text transform="translate(962.375 -0.028) scale(0.9931 1.0195)" style="font-size: 17.4px; font-family: 'Liberation Serif', serif">0</text><text transform="translate(975.925 -0.237) scale(0.9487 1.0089)" style="font-size: 17.4px; font-family: 'Liberation Serif', serif">1</text><text transform="translate(984.719 -0.237) scale(0.9538 1.0119)" style="font-size: 17.4px; font-family: 'Liberation Serif', serif">4</text><text transform="translate(993.148 -0.029) scale(1.0047 1.024)" style="font-size: 17.4px; font-family: 'Liberation Serif', serif">3</text><text transform="translate(1001.844 -0.029) scale(1.0047 1.024)" style="font-size: 17.4px; font-family: 'Liberation Serif', serif">3</text><text transform="translate(810.741 2.733) scale(1.0186 1.0014)" style="font-size: 12.18px; font-family: 'Liberation Serif', serif; font-style: italic">d</text><text transform="translate(911.472 2.859) scale(1.2798 0.9617)" style="font-size: 12.18px; font-family: 'Liberation Serif', serif; font-style: italic">m</text>
    </g>
   </g>
   <g id="line2d_191">
    <g>
     <path d="M 0 -9.1875 L -9.1875 9.1875 L 9.1875 9.1875 z" transform="translate(27.118 1183.728)" style="fill: #8b4513"/>
    </g>
   </g>
   <g id="text_29">
    <!-- PEDE, Pan et al. (2020), Planck 2015+BAO: $H_0=71.55$, $r_dh=105.3$, $\Omega_mh^2=0.1437$ -->
    <g transform="translate(41.0376 1188.8819)">
     <text><tspan x="0" y="-0.237366" style="font-size: 17.4px; font-family: 'DejaVu Sans', sans-serif">P</tspan><tspan x="10.4776" y="-0.237366" style="font-size: 17.4px; font-family: 'DejaVu Sans', sans-serif">E</tspan><tspan x="21.45575" y="-0.237366" style="font-size: 17.4px; font-family: 'DejaVu Sans', sans-serif">D</tspan><tspan x="34.834839" y="-0.237366" style="font-size: 17.4px; font-family: 'DejaVu Sans', sans-serif">E</tspan><tspan x="45.812988" y="-0.237366" style="font-size: 17.4px; font-family: 'DejaVu Sans', sans-serif">,</tspan><tspan x="51.335999" y="-0.237366" style="font-size: 17.4px; font-family: 'DejaVu Sans', sans-serif"> </tspan><tspan x="56.859009" y="-0.237366" style="font-size: 17.4px; font-family: 'DejaVu Sans', sans-serif">P</tspan><tspan x="67.336609" y="-0.237366" style="font-size: 17.4px; font-family: 'DejaVu Sans', sans-serif">a</tspan><tspan x="77.983887" y="-0.237366" style="font-size: 17.4px; font-family: 'DejaVu Sans', sans-serif">n</tspan><tspan x="88.995972" y="-0.237366" style="font-size: 17.4px; font-family: 'DejaVu Sans', sans-serif"> </tspan><tspan x="94.518982" y="-0.237366" style="font-size: 17.4px; font-family: 'DejaVu Sans', sans-serif">e</tspan><tspan x="105.208679" y="-0.237366" style="font-size: 17.4px; font-family: 'DejaVu Sans', sans-serif">t</tspan><tspan x="112.02124" y="-0.237366" style="font-size: 17.4px; font-family: 'DejaVu Sans', sans-serif"> </tspan><tspan x="117.54425" y="-0.237366" style="font-size: 17.4px; font-family: 'DejaVu Sans', sans-serif">a</tspan><tspan x="128.191528" y="-0.237366" style="font-size: 17.4px; font-family: 'DejaVu Sans', sans-serif">l</tspan><tspan x="133.01886" y="-0.237366" style="font-size: 17.4px; font-family: 'DejaVu Sans', sans-serif">.</tspan><tspan x="138.54187" y="-0.237366" style="font-size: 17.4px; font-family: 'DejaVu Sans', sans-serif"> </tspan><tspan x="144.06488" y="-0.237366" style="font-size: 17.4px; font-family: 'DejaVu Sans', sans-serif">(</tspan><tspan x="150.843506" y="-0.237366" style="font-size: 17.4px; font-family: 'DejaVu Sans', sans-serif">2</tspan><tspan x="161.89801" y="-0.237366" style="font-size: 17.4px; font-family: 'DejaVu Sans', sans-serif">0</tspan><tspan x="172.952515" y="-0.237366" style="font-size: 17.4px; font-family: 'DejaVu Sans', sans-serif">2</tspan><tspan x="184.007019" y="-0.237366" style="font-size: 17.4px; font-family: 'DejaVu Sans', sans-serif">0</tspan><tspan x="195.061523" y="-0.237366" style="font-size: 17.4px; font-family: 'DejaVu Sans', sans-serif">)</tspan><tspan x="201.840149" y="-0.237366" style="font-size: 17.4px; font-family: 'DejaVu Sans', sans-serif">,</tspan><tspan x="207.363159" y="-0.237366" style="font-size: 17.4px; font-family: 'DejaVu Sans', sans-serif"> </tspan><tspan x="212.886169" y="-0.237366" style="font-size: 17.4px; font-family: 'DejaVu Sans', sans-serif">P</tspan><tspan x="223.36377" y="-0.237366" style="font-size: 17.4px; font-family: 'DejaVu Sans', sans-serif">l</tspan><tspan x="228.191101" y="-0.237366" style="font-size: 17.4px; font-family: 'DejaVu Sans', sans-serif">a</tspan><tspan x="238.838379" y="-0.237366" style="font-size: 17.4px; font-family: 'DejaVu Sans', sans-serif">n</tspan><tspan x="249.850464" y="-0.237366" style="font-size: 17.4px; font-family: 'DejaVu Sans', sans-serif">c</tspan><tspan x="259.40332" y="-0.237366" style="font-size: 17.4px; font-family: 'DejaVu Sans', sans-serif">k</tspan><tspan x="269.46521" y="-0.237366" style="font-size: 17.4px; font-family: 'DejaVu Sans', sans-serif"> </tspan><tspan x="274.98822" y="-0.237366" style="font-size: 17.4px; font-family: 'DejaVu Sans', sans-serif">2</tspan><tspan x="286.042725" y="-0.237366" style="font-size: 17.4px; font-family: 'DejaVu Sans', sans-serif">0</tspan><tspan x="297.097229" y="-0.237366" style="font-size: 17.4px; font-family: 'DejaVu Sans', sans-serif">1</tspan><tspan x="308.151733" y="-0.237366" style="font-size: 17.4px; font-family: 'DejaVu Sans', sans-serif">5</tspan><tspan x="319.206238" y="-0.237366" style="font-size: 17.4px; font-family: 'DejaVu Sans', sans-serif">+</tspan><tspan x="333.764587" y="-0.237366" style="font-size: 17.4px; font-family: 'DejaVu Sans', sans-serif">B</tspan><tspan x="345.684448" y="-0.237366" style="font-size: 17.4px; font-family: 'DejaVu Sans', sans-serif">A</tspan><tspan x="357.570374" y="-0.237366" style="font-size: 17.4px; font-family: 'DejaVu Sans', sans-serif">O</tspan><tspan x="371.246399" y="-0.237366" style="font-size: 17.4px; font-family: 'DejaVu Sans', sans-serif">:</tspan><tspan x="377.100281" y="-0.237366" style="font-size: 17.4px; font-family: 'DejaVu Sans', sans-serif"> </tspan><tspan x="463.485253" y="-0.237366" style="font-size: 17.4px; font-family: 'DejaVu Sans', sans-serif">,</tspan><tspan x="469.008263" y="-0.237366" style="font-size: 17.4px; font-family: 'DejaVu Sans', sans-serif"> </tspan><tspan x="559.050526" y="-0.237366" style="font-size: 17.4px; font-family: 'DejaVu Sans', sans-serif">,</tspan><tspan x="564.573536" y="-0.237366" style="font-size: 17.4px; font-family: 'DejaVu Sans', sans-serif"> </tspan></text><text transform="translate(383.472 -0.237) scale(1.0873 1.0433)" style="font-size: 17.4px; font-family: 'Liberation Serif', serif; font-style: italic">H</text><text transform="translate(442.07 -0.466) scale(0.9298 0.9298)" style="font-size: 17.4px; font-family: 'Liberation Serif', serif; font-style: italic">.</text><text transform="translate(474.182 -0.042) scale(1.1583 0.9617)" style="font-size: 17.4px; font-family: 'Liberation Serif', serif; font-style: italic">r</text><text transform="translate(490.006 -0.042) scale(1.1734 1.0162)" style="font-size: 17.4px; font-family: 'Liberation Serif', serif; font-style: italic">h</text><text transform="translate(546.33 -0.466) scale(0.9298 0.9298)" style="font-size: 17.4px; font-family: 'Liberation Serif', serif; font-style: italic">.</text><text transform="translate(595.418 -0.042) scale(1.1734 1.0162)" style="font-size: 17.4px; font-family: 'Liberation Serif', serif; font-style: italic">h</text><text transform="translate(643.563 -0.466) scale(0.9298 0.9298)" style="font-size: 17.4px; font-family: 'Liberation Serif', serif; font-style: italic">.</text><text transform="translate(397.091 2.868) scale(0.9931 1.0195)" style="font-size: 12.18px; font-family: 'Liberation Serif', serif">0</text><text transform="translate(607.338 -6.895) scale(0.9963 1.0059)" style="font-size: 12.18px; font-family: 'Liberation Serif', serif">2</text><text transform="translate(407.064 0.829) scale(1.4292 0.9375)" style="font-size: 17.4px; font-family: 'Liberation Serif', serif">=</text><text transform="translate(423.653 0.145) scale(1.0578 1.0656)" style="font-size: 17.4px; font-family: 'Liberation Serif', serif">7</text><text transform="translate(432.646 -0.237) scale(0.9487 1.0089)" style="font-size: 17.4px; font-family: 'Liberation Serif', serif">1</text><text transform="translate(445.959 -0.031) scale(0.9915 1.0353)" style="font-size: 17.4px; font-family: 'Liberation Serif', serif">5</text><text transform="translate(454.654 -0.031) scale(0.9915 1.0353)" style="font-size: 17.4px; font-family: 'Liberation Serif', serif">5</text><text transform="translate(502.63 0.829) scale(1.4292 0.9375)" style="font-size: 17.4px; font-family: 'Liberation Serif', serif">=</text><text transform="translate(519.516 -0.237) scale(0.9487 1.0089)" style="font-size: 17.4px; font-family: 'Liberation Serif', serif">1</text><text transform="translate(528.171 -0.028) scale(0.9931 1.0195)" style="font-size: 17.4px; font-family: 'Liberation Serif', serif">0</text><text transform="translate(536.709 -0.031) scale(0.9915 1.0353)" style="font-size: 17.4px; font-family: 'Liberation Serif', serif">5</text><text transform="translate(550.249 -0.029) scale(1.0047 1.024)" style="font-size: 17.4px; font-family: 'Liberation Serif', serif">3</text><text transform="translate(569.97 -0.237) scale(0.9893 1.0649)" style="font-size: 17.4px; font-family: 'Liberation Serif', serif">Ω</text><text transform="translate(617.253 0.829) scale(1.4292 0.9375)" style="font-size: 17.4px; font-family: 'Liberation Serif', serif">=</text><text transform="translate(634.1 -0.028) scale(0.9931 1.0195)" style="font-size: 17.4px; font-family: 'Liberation Serif', serif">0</text><text transform="translate(647.65 -0.237) scale(0.9487 1.0089)" style="font-size: 17.4px; font-family: 'Liberation Serif', serif">1</text><text transform="translate(656.444 -0.237) scale(0.9538 1.0119)" style="font-size: 17.4px; font-family: 'Liberation Serif', serif">4</text><text transform="translate(664.873 -0.029) scale(1.0047 1.024)" style="font-size: 17.4px; font-family: 'Liberation Serif', serif">3</text><text transform="translate(673.438 0.145) scale(1.0578 1.0656)" style="font-size: 17.4px; font-family: 'Liberation Serif', serif">7</text><text transform="translate(482.466 2.733) scale(1.0186 1.0014)" style="font-size: 12.18px; font-family: 'Liberation Serif', serif; font-style: italic">d</text><text transform="translate(583.196 2.859) scale(1.2798 0.9617)" style="font-size: 12.18px; font-family: 'Liberation Serif', serif; font-style: italic">m</text>
    </g>
   </g>
   <g id="line2d_192">
    <g>
     <path d="M 9.1875 0 L -9.1875 -9.1875 L -9.1875 9.1875 z" transform="translate(27.118 1213.255)" style="fill: #00ffff"/>
    </g>
   </g>
   <g id="text_30">
    <!-- PEDE, Li et al. (2019), Planck 2015 distance priors+BAO+Pantheon+Ly-$\alpha$: $H_0=71.02$, $\Omega_mh^2=0.1468$ -->
    <g transform="translate(41.0376 1218.4092)">
     <text><tspan x="0" y="-0.237366" style="font-size: 17.4px; font-family: 'DejaVu Sans', sans-serif">P</tspan><tspan x="10.4776" y="-0.237366" style="font-size: 17.4px; font-family: 'DejaVu Sans', sans-serif">E</tspan><tspan x="21.45575" y="-0.237366" style="font-size: 17.4px; font-family: 'DejaVu Sans', sans-serif">D</tspan><tspan x="34.834839" y="-0.237366" style="font-size: 17.4px; font-family: 'DejaVu Sans', sans-serif">E</tspan><tspan x="45.812988" y="-0.237366" style="font-size: 17.4px; font-family: 'DejaVu Sans', sans-serif">,</tspan><tspan x="51.335999" y="-0.237366" style="font-size: 17.4px; font-family: 'DejaVu Sans', sans-serif"> </tspan><tspan x="56.859009" y="-0.237366" style="font-size: 17.4px; font-family: 'DejaVu Sans', sans-serif">L</tspan><tspan x="66.539124" y="-0.237366" style="font-size: 17.4px; font-family: 'DejaVu Sans', sans-serif">i</tspan><tspan x="71.366455" y="-0.237366" style="font-size: 17.4px; font-family: 'DejaVu Sans', sans-serif"> </tspan><tspan x="76.889465" y="-0.237366" style="font-size: 17.4px; font-family: 'DejaVu Sans', sans-serif">e</tspan><tspan x="87.579163" y="-0.237366" style="font-size: 17.4px; font-family: 'DejaVu Sans', sans-serif">t</tspan><tspan x="94.391724" y="-0.237366" style="font-size: 17.4px; font-family: 'DejaVu Sans', sans-serif"> </tspan><tspan x="99.914734" y="-0.237366" style="font-size: 17.4px; font-family: 'DejaVu Sans', sans-serif">a</tspan><tspan x="110.562012" y="-0.237366" style="font-size: 17.4px; font-family: 'DejaVu Sans', sans-serif">l</tspan><tspan x="115.389343" y="-0.237366" style="font-size: 17.4px; font-family: 'DejaVu Sans', sans-serif">.</tspan><tspan x="120.912354" y="-0.237366" style="font-size: 17.4px; font-family: 'DejaVu Sans', sans-serif"> </tspan><tspan x="126.435364" y="-0.237366" style="font-size: 17.4px; font-family: 'DejaVu Sans', sans-serif">(</tspan><tspan x="133.213989" y="-0.237366" style="font-size: 17.4px; font-family: 'DejaVu Sans', sans-serif">2</tspan><tspan x="144.268494" y="-0.237366" style="font-size: 17.4px; font-family: 'DejaVu Sans', sans-serif">0</tspan><tspan x="155.322998" y="-0.237366" style="font-size: 17.4px; font-family: 'DejaVu Sans', sans-serif">1</tspan><tspan x="166.377502" y="-0.237366" style="font-size: 17.4px; font-family: 'DejaVu Sans', sans-serif">9</tspan><tspan x="177.432007" y="-0.237366" style="font-size: 17.4px; font-family: 'DejaVu Sans', sans-serif">)</tspan><tspan x="184.210632" y="-0.237366" style="font-size: 17.4px; font-family: 'DejaVu Sans', sans-serif">,</tspan><tspan x="189.733643" y="-0.237366" style="font-size: 17.4px; font-family: 'DejaVu Sans', sans-serif"> </tspan><tspan x="195.256653" y="-0.237366" style="font-size: 17.4px; font-family: 'DejaVu Sans', sans-serif">P</tspan><tspan x="205.734253" y="-0.237366" style="font-size: 17.4px; font-family: 'DejaVu Sans', sans-serif">l</tspan><tspan x="210.561584" y="-0.237366" style="font-size: 17.4px; font-family: 'DejaVu Sans', sans-serif">a</tspan><tspan x="221.208862" y="-0.237366" style="font-size: 17.4px; font-family: 'DejaVu Sans', sans-serif">n</tspan><tspan x="232.220947" y="-0.237366" style="font-size: 17.4px; font-family: 'DejaVu Sans', sans-serif">c</tspan><tspan x="241.773804" y="-0.237366" style="font-size: 17.4px; font-family: 'DejaVu Sans', sans-serif">k</tspan><tspan x="251.835693" y="-0.237366" style="font-size: 17.4px; font-family: 'DejaVu Sans', sans-serif"> </tspan><tspan x="257.358704" y="-0.237366" style="font-size: 17.4px; font-family: 'DejaVu Sans', sans-serif">2</tspan><tspan x="268.413208" y="-0.237366" style="font-size: 17.4px; font-family: 'DejaVu Sans', sans-serif">0</tspan><tspan x="279.467712" y="-0.237366" style="font-size: 17.4px; font-family: 'DejaVu Sans', sans-serif">1</tspan><tspan x="290.522217" y="-0.237366" style="font-size: 17.4px; font-family: 'DejaVu Sans', sans-serif">5</tspan><tspan x="301.576721" y="-0.237366" style="font-size: 17.4px; font-family: 'DejaVu Sans', sans-serif"> </tspan><tspan x="307.099731" y="-0.237366" style="font-size: 17.4px; font-family: 'DejaVu Sans', sans-serif">d</tspan><tspan x="318.128784" y="-0.237366" style="font-size: 17.4px; font-family: 'DejaVu Sans', sans-serif">i</tspan><tspan x="322.956116" y="-0.237366" style="font-size: 17.4px; font-family: 'DejaVu Sans', sans-serif">s</tspan><tspan x="332.008423" y="-0.237366" style="font-size: 17.4px; font-family: 'DejaVu Sans', sans-serif">t</tspan><tspan x="338.820984" y="-0.237366" style="font-size: 17.4px; font-family: 'DejaVu Sans', sans-serif">a</tspan><tspan x="349.468262" y="-0.237366" style="font-size: 17.4px; font-family: 'DejaVu Sans', sans-serif">n</tspan><tspan x="360.480347" y="-0.237366" style="font-size: 17.4px; font-family: 'DejaVu Sans', sans-serif">c</tspan><tspan x="370.033203" y="-0.237366" style="font-size: 17.4px; font-family: 'DejaVu Sans', sans-serif">e</tspan><tspan x="380.7229" y="-0.237366" style="font-size: 17.4px; font-family: 'DejaVu Sans', sans-serif"> </tspan><tspan x="386.245911" y="-0.237366" style="font-size: 17.4px; font-family: 'DejaVu Sans', sans-serif">p</tspan><tspan x="397.274963" y="-0.237366" style="font-size: 17.4px; font-family: 'DejaVu Sans', sans-serif">r</tspan><tspan x="404.418396" y="-0.237366" style="font-size: 17.4px; font-family: 'DejaVu Sans', sans-serif">i</tspan><tspan x="409.245728" y="-0.237366" style="font-size: 17.4px; font-family: 'DejaVu Sans', sans-serif">o</tspan><tspan x="419.876038" y="-0.237366" style="font-size: 17.4px; font-family: 'DejaVu Sans', sans-serif">r</tspan><tspan x="427.01947" y="-0.237366" style="font-size: 17.4px; font-family: 'DejaVu Sans', sans-serif">s</tspan><tspan x="436.071777" y="-0.237366" style="font-size: 17.4px; font-family: 'DejaVu Sans', sans-serif">+</tspan><tspan x="450.630127" y="-0.237366" style="font-size: 17.4px; font-family: 'DejaVu Sans', sans-serif">B</tspan><tspan x="462.549988" y="-0.237366" style="font-size: 17.4px; font-family: 'DejaVu Sans', sans-serif">A</tspan><tspan x="474.435913" y="-0.237366" style="font-size: 17.4px; font-family: 'DejaVu Sans', sans-serif">O</tspan><tspan x="488.111938" y="-0.237366" style="font-size: 17.4px; font-family: 'DejaVu Sans', sans-serif">+</tspan><tspan x="502.670288" y="-0.237366" style="font-size: 17.4px; font-family: 'DejaVu Sans', sans-serif">P</tspan><tspan x="513.147888" y="-0.237366" style="font-size: 17.4px; font-family: 'DejaVu Sans', sans-serif">a</tspan><tspan x="523.795166" y="-0.237366" style="font-size: 17.4px; font-family: 'DejaVu Sans', sans-serif">n</tspan><tspan x="534.807251" y="-0.237366" style="font-size: 17.4px; font-family: 'DejaVu Sans', sans-serif">t</tspan><tspan x="541.619812" y="-0.237366" style="font-size: 17.4px; font-family: 'DejaVu Sans', sans-serif">h</tspan><tspan x="552.631897" y="-0.237366" style="font-size: 17.4px; font-family: 'DejaVu Sans', sans-serif">e</tspan><tspan x="563.321594" y="-0.237366" style="font-size: 17.4px; font-family: 'DejaVu Sans', sans-serif">o</tspan><tspan x="573.951904" y="-0.237366" style="font-size: 17.4px; font-family: 'DejaVu Sans', sans-serif">n</tspan><tspan x="584.963989" y="-0.237366" style="font-size: 17.4px; font-family: 'DejaVu Sans', sans-serif">+</tspan><tspan x="599.522339" y="-0.237366" style="font-size: 17.4px; font-family: 'DejaVu Sans', sans-serif">L</tspan><tspan x="609.202454" y="-0.237366" style="font-size: 17.4px; font-family: 'DejaVu Sans', sans-serif">y</tspan><tspan x="619.484924" y="-0.237366" style="font-size: 17.4px; font-family: 'DejaVu Sans', sans-serif">-</tspan><tspan x="636.869904" y="-0.237366" style="font-size: 17.4px; font-family: 'DejaVu Sans', sans-serif">:</tspan><tspan x="642.723785" y="-0.237366" style="font-size: 17.4px; font-family: 'DejaVu Sans', sans-serif"> </tspan><tspan x="729.108758" y="-0.237366" style="font-size: 17.4px; font-family: 'DejaVu Sans', sans-serif">,</tspan><tspan x="734.631768" y="-0.237366" style="font-size: 17.4px; font-family: 'DejaVu Sans', sans-serif"> </tspan></text><text transform="translate(625.882 -0.21) scale(1.0983 0.9402)" style="font-size: 17.4px; font-family: 'Liberation Serif', serif; font-style: italic">α</text><text transform="translate(649.096 -0.237) scale(1.0873 1.0433)" style="font-size: 17.4px; font-family: 'Liberation Serif', serif; font-style: italic">H</text><text transform="translate(707.693 -0.466) scale(0.9298 0.9298)" style="font-size: 17.4px; font-family: 'Liberation Serif', serif; font-style: italic">.</text><text transform="translate(765.476 -0.042) scale(1.1734 1.0162)" style="font-size: 17.4px; font-family: 'Liberation Serif', serif; font-style: italic">h</text><text transform="translate(813.622 -0.466) scale(0.9298 0.9298)" style="font-size: 17.4px; font-family: 'Liberation Serif', serif; font-style: italic">.</text><text transform="translate(662.714 2.868) scale(0.9931 1.0195)" style="font-size: 12.18px; font-family: 'Liberation Serif', serif">0</text><text transform="translate(777.396 -6.895) scale(0.9963 1.0059)" style="font-size: 12.18px; font-family: 'Liberation Serif', serif">2</text><text transform="translate(672.688 0.829) scale(1.4292 0.9375)" style="font-size: 17.4px; font-family: 'Liberation Serif', serif">=</text><text transform="translate(689.277 0.145) scale(1.0578 1.0656)" style="font-size: 17.4px; font-family: 'Liberation Serif', serif">7</text><text transform="translate(698.27 -0.237) scale(0.9487 1.0089)" style="font-size: 17.4px; font-family: 'Liberation Serif', serif">1</text><text transform="translate(711.74 -0.028) scale(0.9931 1.0195)" style="font-size: 17.4px; font-family: 'Liberation Serif', serif">0</text><text transform="translate(720.518 -0.237) scale(0.9963 1.0059)" style="font-size: 17.4px; font-family: 'Liberation Serif', serif">2</text><text transform="translate(740.028 -0.237) scale(0.9893 1.0649)" style="font-size: 17.4px; font-family: 'Liberation Serif', serif">Ω</text><text transform="translate(787.311 0.829) scale(1.4292 0.9375)" style="font-size: 17.4px; font-family: 'Liberation Serif', serif">=</text><text transform="translate(804.158 -0.028) scale(0.9931 1.0195)" style="font-size: 17.4px; font-family: 'Liberation Serif', serif">0</text><text transform="translate(817.708 -0.237) scale(0.9487 1.0089)" style="font-size: 17.4px; font-family: 'Liberation Serif', serif">1</text><text transform="translate(826.502 -0.237) scale(0.9538 1.0119)" style="font-size: 17.4px; font-family: 'Liberation Serif', serif">4</text><text transform="translate(835.041 -0.029) scale(0.9714 1.024)" style="font-size: 17.4px; font-family: 'Liberation Serif', serif">6</text><text transform="translate(843.814 -0.028) scale(0.9793 1.0195)" style="font-size: 17.4px; font-family: 'Liberation Serif', serif">8</text><text transform="translate(753.254 2.859) scale(1.2798 0.9617)" style="font-size: 12.18px; font-family: 'Liberation Serif', serif; font-style: italic">m</text>
    </g>
   </g>
   <g id="line2d_193">
    <g>
     <path d="M 0 -8.75 L -1.964497 -2.703899 L -8.321745 -2.703899 L -3.178623 1.032797 L -5.143121 7.078899 L -0 3.342203 L 5.143121 7.078899 L 3.178623 1.032797 L 8.321745 -2.703899 L 1.964497 -2.703899 z" transform="translate(27.118 1242.505)" style="fill: #000080"/>
    </g>
   </g>
   <g id="text_31">
    <!-- MEDE, Benaoum et al. (2020), Planck 2018+BAO: $H_0=68.4$, $r_dh=100.6$, $\Omega_mh^2=0.1427$ -->
    <g transform="translate(41.0376 1247.6591)">
     <text><tspan x="0" y="-0.237366" style="font-size: 17.4px; font-family: 'DejaVu Sans', sans-serif">M</tspan><tspan x="14.991028" y="-0.237366" style="font-size: 17.4px; font-family: 'DejaVu Sans', sans-serif">E</tspan><tspan x="25.969177" y="-0.237366" style="font-size: 17.4px; font-family: 'DejaVu Sans', sans-serif">D</tspan><tspan x="39.348267" y="-0.237366" style="font-size: 17.4px; font-family: 'DejaVu Sans', sans-serif">E</tspan><tspan x="50.326416" y="-0.237366" style="font-size: 17.4px; font-family: 'DejaVu Sans', sans-serif">,</tspan><tspan x="55.849426" y="-0.237366" style="font-size: 17.4px; font-family: 'DejaVu Sans', sans-serif"> </tspan><tspan x="61.372437" y="-0.237366" style="font-size: 17.4px; font-family: 'DejaVu Sans', sans-serif">B</tspan><tspan x="73.292297" y="-0.237366" style="font-size: 17.4px; font-family: 'DejaVu Sans', sans-serif">e</tspan><tspan x="83.981995" y="-0.237366" style="font-size: 17.4px; font-family: 'DejaVu Sans', sans-serif">n</tspan><tspan x="94.99408" y="-0.237366" style="font-size: 17.4px; font-family: 'DejaVu Sans', sans-serif">a</tspan><tspan x="105.641357" y="-0.237366" style="font-size: 17.4px; font-family: 'DejaVu Sans', sans-serif">o</tspan><tspan x="116.271667" y="-0.237366" style="font-size: 17.4px; font-family: 'DejaVu Sans', sans-serif">u</tspan><tspan x="127.283752" y="-0.237366" style="font-size: 17.4px; font-family: 'DejaVu Sans', sans-serif">m</tspan><tspan x="144.209106" y="-0.237366" style="font-size: 17.4px; font-family: 'DejaVu Sans', sans-serif"> </tspan><tspan x="149.732117" y="-0.237366" style="font-size: 17.4px; font-family: 'DejaVu Sans', sans-serif">e</tspan><tspan x="160.421814" y="-0.237366" style="font-size: 17.4px; font-family: 'DejaVu Sans', sans-serif">t</tspan><tspan x="167.234375" y="-0.237366" style="font-size: 17.4px; font-family: 'DejaVu Sans', sans-serif"> </tspan><tspan x="172.757385" y="-0.237366" style="font-size: 17.4px; font-family: 'DejaVu Sans', sans-serif">a</tspan><tspan x="183.404663" y="-0.237366" style="font-size: 17.4px; font-family: 'DejaVu Sans', sans-serif">l</tspan><tspan x="188.231995" y="-0.237366" style="font-size: 17.4px; font-family: 'DejaVu Sans', sans-serif">.</tspan><tspan x="193.755005" y="-0.237366" style="font-size: 17.4px; font-family: 'DejaVu Sans', sans-serif"> </tspan><tspan x="199.278015" y="-0.237366" style="font-size: 17.4px; font-family: 'DejaVu Sans', sans-serif">(</tspan><tspan x="206.056641" y="-0.237366" style="font-size: 17.4px; font-family: 'DejaVu Sans', sans-serif">2</tspan><tspan x="217.111145" y="-0.237366" style="font-size: 17.4px; font-family: 'DejaVu Sans', sans-serif">0</tspan><tspan x="228.165649" y="-0.237366" style="font-size: 17.4px; font-family: 'DejaVu Sans', sans-serif">2</tspan><tspan x="239.220154" y="-0.237366" style="font-size: 17.4px; font-family: 'DejaVu Sans', sans-serif">0</tspan><tspan x="250.274658" y="-0.237366" style="font-size: 17.4px; font-family: 'DejaVu Sans', sans-serif">)</tspan><tspan x="257.053284" y="-0.237366" style="font-size: 17.4px; font-family: 'DejaVu Sans', sans-serif">,</tspan><tspan x="262.576294" y="-0.237366" style="font-size: 17.4px; font-family: 'DejaVu Sans', sans-serif"> </tspan><tspan x="268.099304" y="-0.237366" style="font-size: 17.4px; font-family: 'DejaVu Sans', sans-serif">P</tspan><tspan x="278.576904" y="-0.237366" style="font-size: 17.4px; font-family: 'DejaVu Sans', sans-serif">l</tspan><tspan x="283.404236" y="-0.237366" style="font-size: 17.4px; font-family: 'DejaVu Sans', sans-serif">a</tspan><tspan x="294.051514" y="-0.237366" style="font-size: 17.4px; font-family: 'DejaVu Sans', sans-serif">n</tspan><tspan x="305.063599" y="-0.237366" style="font-size: 17.4px; font-family: 'DejaVu Sans', sans-serif">c</tspan><tspan x="314.616455" y="-0.237366" style="font-size: 17.4px; font-family: 'DejaVu Sans', sans-serif">k</tspan><tspan x="324.678345" y="-0.237366" style="font-size: 17.4px; font-family: 'DejaVu Sans', sans-serif"> </tspan><tspan x="330.201355" y="-0.237366" style="font-size: 17.4px; font-family: 'DejaVu Sans', sans-serif">2</tspan><tspan x="341.255859" y="-0.237366" style="font-size: 17.4px; font-family: 'DejaVu Sans', sans-serif">0</tspan><tspan x="352.310364" y="-0.237366" style="font-size: 17.4px; font-family: 'DejaVu Sans', sans-serif">1</tspan><tspan x="363.364868" y="-0.237366" style="font-size: 17.4px; font-family: 'DejaVu Sans', sans-serif">8</tspan><tspan x="374.419373" y="-0.237366" style="font-size: 17.4px; font-family: 'DejaVu Sans', sans-serif">+</tspan><tspan x="388.977722" y="-0.237366" style="font-size: 17.4px; font-family: 'DejaVu Sans', sans-serif">B</tspan><tspan x="400.897583" y="-0.237366" style="font-size: 17.4px; font-family: 'DejaVu Sans', sans-serif">A</tspan><tspan x="412.783508" y="-0.237366" style="font-size: 17.4px; font-family: 'DejaVu Sans', sans-serif">O</tspan><tspan x="426.459534" y="-0.237366" style="font-size: 17.4px; font-family: 'DejaVu Sans', sans-serif">:</tspan><tspan x="432.313416" y="-0.237366" style="font-size: 17.4px; font-family: 'DejaVu Sans', sans-serif"> </tspan><tspan x="510.003075" y="-0.237366" style="font-size: 17.4px; font-family: 'DejaVu Sans', sans-serif">,</tspan><tspan x="515.526085" y="-0.237366" style="font-size: 17.4px; font-family: 'DejaVu Sans', sans-serif"> </tspan><tspan x="605.568348" y="-0.237366" style="font-size: 17.4px; font-family: 'DejaVu Sans', sans-serif">,</tspan><tspan x="611.091358" y="-0.237366" style="font-size: 17.4px; font-family: 'DejaVu Sans', sans-serif"> </tspan></text><text transform="translate(438.685 -0.237) scale(1.0873 1.0433)" style="font-size: 17.4px; font-family: 'Liberation Serif', serif; font-style: italic">H</text><text transform="translate(497.283 -0.466) scale(0.9298 0.9298)" style="font-size: 17.4px; font-family: 'Liberation Serif', serif; font-style: italic">.</text><text transform="translate(520.7 -0.042) scale(1.1583 0.9617)" style="font-size: 17.4px; font-family: 'Liberation Serif', serif; font-style: italic">r</text><text transform="translate(536.524 -0.042) scale(1.1734 1.0162)" style="font-size: 17.4px; font-family: 'Liberation Serif', serif; font-style: italic">h</text><text transform="translate(592.848 -0.466) scale(0.9298 0.9298)" style="font-size: 17.4px; font-family: 'Liberation Serif', serif; font-style: italic">.</text><text transform="translate(641.935 -0.042) scale(1.1734 1.0162)" style="font-size: 17.4px; font-family: 'Liberation Serif', serif; font-style: italic">h</text><text transform="translate(690.081 -0.466) scale(0.9298 0.9298)" style="font-size: 17.4px; font-family: 'Liberation Serif', serif; font-style: italic">.</text><text transform="translate(452.304 2.868) scale(0.9931 1.0195)" style="font-size: 12.18px; font-family: 'Liberation Serif', serif">0</text><text transform="translate(653.856 -6.895) scale(0.9963 1.0059)" style="font-size: 12.18px; font-family: 'Liberation Serif', serif">2</text><text transform="translate(462.277 0.829) scale(1.4292 0.9375)" style="font-size: 17.4px; font-family: 'Liberation Serif', serif">=</text><text transform="translate(479.107 -0.029) scale(0.9714 1.024)" style="font-size: 17.4px; font-family: 'Liberation Serif', serif">6</text><text transform="translate(487.879 -0.028) scale(0.9793 1.0195)" style="font-size: 17.4px; font-family: 'Liberation Serif', serif">8</text><text transform="translate(501.468 -0.237) scale(0.9538 1.0119)" style="font-size: 17.4px; font-family: 'Liberation Serif', serif">4</text><text transform="translate(549.147 0.829) scale(1.4292 0.9375)" style="font-size: 17.4px; font-family: 'Liberation Serif', serif">=</text><text transform="translate(566.034 -0.237) scale(0.9487 1.0089)" style="font-size: 17.4px; font-family: 'Liberation Serif', serif">1</text><text transform="translate(574.689 -0.028) scale(0.9931 1.0195)" style="font-size: 17.4px; font-family: 'Liberation Serif', serif">0</text><text transform="translate(583.385 -0.028) scale(0.9931 1.0195)" style="font-size: 17.4px; font-family: 'Liberation Serif', serif">0</text><text transform="translate(596.877 -0.029) scale(0.9714 1.024)" style="font-size: 17.4px; font-family: 'Liberation Serif', serif">6</text><text transform="translate(616.488 -0.237) scale(0.9893 1.0649)" style="font-size: 17.4px; font-family: 'Liberation Serif', serif">Ω</text><text transform="translate(663.771 0.829) scale(1.4292 0.9375)" style="font-size: 17.4px; font-family: 'Liberation Serif', serif">=</text><text transform="translate(680.617 -0.028) scale(0.9931 1.0195)" style="font-size: 17.4px; font-family: 'Liberation Serif', serif">0</text><text transform="translate(694.167 -0.237) scale(0.9487 1.0089)" style="font-size: 17.4px; font-family: 'Liberation Serif', serif">1</text><text transform="translate(702.961 -0.237) scale(0.9538 1.0119)" style="font-size: 17.4px; font-family: 'Liberation Serif', serif">4</text><text transform="translate(711.601 -0.237) scale(0.9963 1.0059)" style="font-size: 17.4px; font-family: 'Liberation Serif', serif">2</text><text transform="translate(719.956 0.145) scale(1.0578 1.0656)" style="font-size: 17.4px; font-family: 'Liberation Serif', serif">7</text><text transform="translate(528.984 2.733) scale(1.0186 1.0014)" style="font-size: 12.18px; font-family: 'Liberation Serif', serif; font-style: italic">d</text><text transform="translate(629.714 2.859) scale(1.2798 0.9617)" style="font-size: 12.18px; font-family: 'Liberation Serif', serif; font-style: italic">m</text>
    </g>
   </g>
   <g id="line2d_194">
    <g>
     <path d="M -0 11.048543 L 11.048543 0 L 0 -11.048543 L -11.048543 -0 z" transform="translate(27.118 1271.72)" style="fill: #32cd32"/>
    </g>
   </g>
   <g id="text_32">
    <!-- VM, Di Valentino et al. (2020), Planck 2018+BAO+R19: $H_0=75.22$, $r_dh=110.1$, $\Omega_mh^2=0.1428$ -->
    <g transform="translate(41.0376 1276.8737)">
     <text><tspan x="0" y="-0.237366" style="font-size: 17.4px; font-family: 'DejaVu Sans', sans-serif">V</tspan><tspan x="11.885925" y="-0.237366" style="font-size: 17.4px; font-family: 'DejaVu Sans', sans-serif">M</tspan><tspan x="26.876953" y="-0.237366" style="font-size: 17.4px; font-family: 'DejaVu Sans', sans-serif">,</tspan><tspan x="32.399963" y="-0.237366" style="font-size: 17.4px; font-family: 'DejaVu Sans', sans-serif"> </tspan><tspan x="37.922974" y="-0.237366" style="font-size: 17.4px; font-family: 'DejaVu Sans', sans-serif">D</tspan><tspan x="51.302063" y="-0.237366" style="font-size: 17.4px; font-family: 'DejaVu Sans', sans-serif">i</tspan><tspan x="56.129395" y="-0.237366" style="font-size: 17.4px; font-family: 'DejaVu Sans', sans-serif"> </tspan><tspan x="61.652405" y="-0.237366" style="font-size: 17.4px; font-family: 'DejaVu Sans', sans-serif">V</tspan><tspan x="73.53833" y="-0.237366" style="font-size: 17.4px; font-family: 'DejaVu Sans', sans-serif">a</tspan><tspan x="84.185608" y="-0.237366" style="font-size: 17.4px; font-family: 'DejaVu Sans', sans-serif">l</tspan><tspan x="89.012939" y="-0.237366" style="font-size: 17.4px; font-family: 'DejaVu Sans', sans-serif">e</tspan><tspan x="99.702637" y="-0.237366" style="font-size: 17.4px; font-family: 'DejaVu Sans', sans-serif">n</tspan><tspan x="110.714722" y="-0.237366" style="font-size: 17.4px; font-family: 'DejaVu Sans', sans-serif">t</tspan><tspan x="117.527283" y="-0.237366" style="font-size: 17.4px; font-family: 'DejaVu Sans', sans-serif">i</tspan><tspan x="122.354614" y="-0.237366" style="font-size: 17.4px; font-family: 'DejaVu Sans', sans-serif">n</tspan><tspan x="133.366699" y="-0.237366" style="font-size: 17.4px; font-family: 'DejaVu Sans', sans-serif">o</tspan><tspan x="143.997009" y="-0.237366" style="font-size: 17.4px; font-family: 'DejaVu Sans', sans-serif"> </tspan><tspan x="149.52002" y="-0.237366" style="font-size: 17.4px; font-family: 'DejaVu Sans', sans-serif">e</tspan><tspan x="160.209717" y="-0.237366" style="font-size: 17.4px; font-family: 'DejaVu Sans', sans-serif">t</tspan><tspan x="167.022278" y="-0.237366" style="font-size: 17.4px; font-family: 'DejaVu Sans', sans-serif"> </tspan><tspan x="172.545288" y="-0.237366" style="font-size: 17.4px; font-family: 'DejaVu Sans', sans-serif">a</tspan><tspan x="183.192566" y="-0.237366" style="font-size: 17.4px; font-family: 'DejaVu Sans', sans-serif">l</tspan><tspan x="188.019897" y="-0.237366" style="font-size: 17.4px; font-family: 'DejaVu Sans', sans-serif">.</tspan><tspan x="193.542908" y="-0.237366" style="font-size: 17.4px; font-family: 'DejaVu Sans', sans-serif"> </tspan><tspan x="199.065918" y="-0.237366" style="font-size: 17.4px; font-family: 'DejaVu Sans', sans-serif">(</tspan><tspan x="205.844543" y="-0.237366" style="font-size: 17.4px; font-family: 'DejaVu Sans', sans-serif">2</tspan><tspan x="216.899048" y="-0.237366" style="font-size: 17.4px; font-family: 'DejaVu Sans', sans-serif">0</tspan><tspan x="227.953552" y="-0.237366" style="font-size: 17.4px; font-family: 'DejaVu Sans', sans-serif">2</tspan><tspan x="239.008057" y="-0.237366" style="font-size: 17.4px; font-family: 'DejaVu Sans', sans-serif">0</tspan><tspan x="250.062561" y="-0.237366" style="font-size: 17.4px; font-family: 'DejaVu Sans', sans-serif">)</tspan><tspan x="256.841187" y="-0.237366" style="font-size: 17.4px; font-family: 'DejaVu Sans', sans-serif">,</tspan><tspan x="262.364197" y="-0.237366" style="font-size: 17.4px; font-family: 'DejaVu Sans', sans-serif"> </tspan><tspan x="267.887207" y="-0.237366" style="font-size: 17.4px; font-family: 'DejaVu Sans', sans-serif">P</tspan><tspan x="278.364807" y="-0.237366" style="font-size: 17.4px; font-family: 'DejaVu Sans', sans-serif">l</tspan><tspan x="283.192139" y="-0.237366" style="font-size: 17.4px; font-family: 'DejaVu Sans', sans-serif">a</tspan><tspan x="293.839417" y="-0.237366" style="font-size: 17.4px; font-family: 'DejaVu Sans', sans-serif">n</tspan><tspan x="304.851501" y="-0.237366" style="font-size: 17.4px; font-family: 'DejaVu Sans', sans-serif">c</tspan><tspan x="314.404358" y="-0.237366" style="font-size: 17.4px; font-family: 'DejaVu Sans', sans-serif">k</tspan><tspan x="324.466248" y="-0.237366" style="font-size: 17.4px; font-family: 'DejaVu Sans', sans-serif"> </tspan><tspan x="329.989258" y="-0.237366" style="font-size: 17.4px; font-family: 'DejaVu Sans', sans-serif">2</tspan><tspan x="341.043762" y="-0.237366" style="font-size: 17.4px; font-family: 'DejaVu Sans', sans-serif">0</tspan><tspan x="352.098267" y="-0.237366" style="font-size: 17.4px; font-family: 'DejaVu Sans', sans-serif">1</tspan><tspan x="363.152771" y="-0.237366" style="font-size: 17.4px; font-family: 'DejaVu Sans', sans-serif">8</tspan><tspan x="374.207275" y="-0.237366" style="font-size: 17.4px; font-family: 'DejaVu Sans', sans-serif">+</tspan><tspan x="388.765625" y="-0.237366" style="font-size: 17.4px; font-family: 'DejaVu Sans', sans-serif">B</tspan><tspan x="400.685486" y="-0.237366" style="font-size: 17.4px; font-family: 'DejaVu Sans', sans-serif">A</tspan><tspan x="412.571411" y="-0.237366" style="font-size: 17.4px; font-family: 'DejaVu Sans', sans-serif">O</tspan><tspan x="426.247437" y="-0.237366" style="font-size: 17.4px; font-family: 'DejaVu Sans', sans-serif">+</tspan><tspan x="440.805786" y="-0.237366" style="font-size: 17.4px; font-family: 'DejaVu Sans', sans-serif">R</tspan><tspan x="452.878357" y="-0.237366" style="font-size: 17.4px; font-family: 'DejaVu Sans', sans-serif">1</tspan><tspan x="463.932861" y="-0.237366" style="font-size: 17.4px; font-family: 'DejaVu Sans', sans-serif">9</tspan><tspan x="474.987366" y="-0.237366" style="font-size: 17.4px; font-family: 'DejaVu Sans', sans-serif">:</tspan><tspan x="480.841248" y="-0.237366" style="font-size: 17.4px; font-family: 'DejaVu Sans', sans-serif"> </tspan><tspan x="567.22622" y="-0.237366" style="font-size: 17.4px; font-family: 'DejaVu Sans', sans-serif">,</tspan><tspan x="572.74923" y="-0.237366" style="font-size: 17.4px; font-family: 'DejaVu Sans', sans-serif"> </tspan><tspan x="662.791493" y="-0.237366" style="font-size: 17.4px; font-family: 'DejaVu Sans', sans-serif">,</tspan><tspan x="668.314503" y="-0.237366" style="font-size: 17.4px; font-family: 'DejaVu Sans', sans-serif"> </tspan></text><text transform="translate(487.213 -0.237) scale(1.0873 1.0433)" style="font-size: 17.4px; font-family: 'Liberation Serif', serif; font-style: italic">H</text><text transform="translate(545.811 -0.466) scale(0.9298 0.9298)" style="font-size: 17.4px; font-family: 'Liberation Serif', serif; font-style: italic">.</text><text transform="translate(577.923 -0.042) scale(1.1583 0.9617)" style="font-size: 17.4px; font-family: 'Liberation Serif', serif; font-style: italic">r</text><text transform="translate(593.747 -0.042) scale(1.1734 1.0162)" style="font-size: 17.4px; font-family: 'Liberation Serif', serif; font-style: italic">h</text><text transform="translate(650.071 -0.466) scale(0.9298 0.9298)" style="font-size: 17.4px; font-family: 'Liberation Serif', serif; font-style: italic">.</text><text transform="translate(699.159 -0.042) scale(1.1734 1.0162)" style="font-size: 17.4px; font-family: 'Liberation Serif', serif; font-style: italic">h</text><text transform="translate(747.304 -0.466) scale(0.9298 0.9298)" style="font-size: 17.4px; font-family: 'Liberation Serif', serif; font-style: italic">.</text><text transform="translate(500.832 2.868) scale(0.9931 1.0195)" style="font-size: 12.18px; font-family: 'Liberation Serif', serif">0</text><text transform="translate(711.079 -6.895) scale(0.9963 1.0059)" style="font-size: 12.18px; font-family: 'Liberation Serif', serif">2</text><text transform="translate(510.805 0.829) scale(1.4292 0.9375)" style="font-size: 17.4px; font-family: 'Liberation Serif', serif">=</text><text transform="translate(527.394 0.145) scale(1.0578 1.0656)" style="font-size: 17.4px; font-family: 'Liberation Serif', serif">7</text><text transform="translate(536.19 -0.031) scale(0.9915 1.0353)" style="font-size: 17.4px; font-family: 'Liberation Serif', serif">5</text><text transform="translate(549.94 -0.237) scale(0.9963 1.0059)" style="font-size: 17.4px; font-family: 'Liberation Serif', serif">2</text><text transform="translate(558.636 -0.237) scale(0.9963 1.0059)" style="font-size: 17.4px; font-family: 'Liberation Serif', serif">2</text><text transform="translate(606.371 0.829) scale(1.4292 0.9375)" style="font-size: 17.4px; font-family: 'Liberation Serif', serif">=</text><text transform="translate(623.257 -0.237) scale(0.9487 1.0089)" style="font-size: 17.4px; font-family: 'Liberation Serif', serif">1</text><text transform="translate(631.952 -0.237) scale(0.9487 1.0089)" style="font-size: 17.4px; font-family: 'Liberation Serif', serif">1</text><text transform="translate(640.608 -0.028) scale(0.9931 1.0195)" style="font-size: 17.4px; font-family: 'Liberation Serif', serif">0</text><text transform="translate(654.158 -0.237) scale(0.9487 1.0089)" style="font-size: 17.4px; font-family: 'Liberation Serif', serif">1</text><text transform="translate(673.711 -0.237) scale(0.9893 1.0649)" style="font-size: 17.4px; font-family: 'Liberation Serif', serif">Ω</text><text transform="translate(720.994 0.829) scale(1.4292 0.9375)" style="font-size: 17.4px; font-family: 'Liberation Serif', serif">=</text><text transform="translate(737.841 -0.028) scale(0.9931 1.0195)" style="font-size: 17.4px; font-family: 'Liberation Serif', serif">0</text><text transform="translate(751.391 -0.237) scale(0.9487 1.0089)" style="font-size: 17.4px; font-family: 'Liberation Serif', serif">1</text><text transform="translate(760.184 -0.237) scale(0.9538 1.0119)" style="font-size: 17.4px; font-family: 'Liberation Serif', serif">4</text><text transform="translate(768.824 -0.237) scale(0.9963 1.0059)" style="font-size: 17.4px; font-family: 'Liberation Serif', serif">2</text><text transform="translate(777.497 -0.028) scale(0.9793 1.0195)" style="font-size: 17.4px; font-family: 'Liberation Serif', serif">8</text><text transform="translate(586.207 2.733) scale(1.0186 1.0014)" style="font-size: 12.18px; font-family: 'Liberation Serif', serif; font-style: italic">d</text><text transform="translate(686.937 2.859) scale(1.2798 0.9617)" style="font-size: 12.18px; font-family: 'Liberation Serif', serif; font-style: italic">m</text>
    </g>
   </g>
   <g id="line2d_195">
    <g>
     <path d="M -0 12.374369 L 7.424621 0 L 0 -12.374369 L -7.424621 -0 z" transform="translate(27.118 1300.934)" style="fill: #20b2aa"/>
    </g>
   </g>
   <g id="text_33">
    <!-- VM (+neutrinos), Di Valentino et al. (2021), Planck 2018+BAO+R19: $H_0=74.60$, $r_dh=109.0$, $\Omega_mh^2=0.1461$ -->
    <g transform="translate(41.0376 1306.0883)">
     <text><tspan x="0" y="-0.237366" style="font-size: 17.4px; font-family: 'DejaVu Sans', sans-serif">V</tspan><tspan x="11.885925" y="-0.237366" style="font-size: 17.4px; font-family: 'DejaVu Sans', sans-serif">M</tspan><tspan x="26.876953" y="-0.237366" style="font-size: 17.4px; font-family: 'DejaVu Sans', sans-serif"> </tspan><tspan x="32.399963" y="-0.237366" style="font-size: 17.4px; font-family: 'DejaVu Sans', sans-serif">(</tspan><tspan x="39.178589" y="-0.237366" style="font-size: 17.4px; font-family: 'DejaVu Sans', sans-serif">+</tspan><tspan x="53.736938" y="-0.237366" style="font-size: 17.4px; font-family: 'DejaVu Sans', sans-serif">n</tspan><tspan x="64.749023" y="-0.237366" style="font-size: 17.4px; font-family: 'DejaVu Sans', sans-serif">e</tspan><tspan x="75.438721" y="-0.237366" style="font-size: 17.4px; font-family: 'DejaVu Sans', sans-serif">u</tspan><tspan x="86.450806" y="-0.237366" style="font-size: 17.4px; font-family: 'DejaVu Sans', sans-serif">t</tspan><tspan x="93.263367" y="-0.237366" style="font-size: 17.4px; font-family: 'DejaVu Sans', sans-serif">r</tspan><tspan x="100.406799" y="-0.237366" style="font-size: 17.4px; font-family: 'DejaVu Sans', sans-serif">i</tspan><tspan x="105.234131" y="-0.237366" style="font-size: 17.4px; font-family: 'DejaVu Sans', sans-serif">n</tspan><tspan x="116.246216" y="-0.237366" style="font-size: 17.4px; font-family: 'DejaVu Sans', sans-serif">o</tspan><tspan x="126.876526" y="-0.237366" style="font-size: 17.4px; font-family: 'DejaVu Sans', sans-serif">s</tspan><tspan x="135.928833" y="-0.237366" style="font-size: 17.4px; font-family: 'DejaVu Sans', sans-serif">)</tspan><tspan x="142.707458" y="-0.237366" style="font-size: 17.4px; font-family: 'DejaVu Sans', sans-serif">,</tspan><tspan x="148.230469" y="-0.237366" style="font-size: 17.4px; font-family: 'DejaVu Sans', sans-serif"> </tspan><tspan x="153.753479" y="-0.237366" style="font-size: 17.4px; font-family: 'DejaVu Sans', sans-serif">D</tspan><tspan x="167.132568" y="-0.237366" style="font-size: 17.4px; font-family: 'DejaVu Sans', sans-serif">i</tspan><tspan x="171.9599" y="-0.237366" style="font-size: 17.4px; font-family: 'DejaVu Sans', sans-serif"> </tspan><tspan x="177.48291" y="-0.237366" style="font-size: 17.4px; font-family: 'DejaVu Sans', sans-serif">V</tspan><tspan x="189.368835" y="-0.237366" style="font-size: 17.4px; font-family: 'DejaVu Sans', sans-serif">a</tspan><tspan x="200.016113" y="-0.237366" style="font-size: 17.4px; font-family: 'DejaVu Sans', sans-serif">l</tspan><tspan x="204.843445" y="-0.237366" style="font-size: 17.4px; font-family: 'DejaVu Sans', sans-serif">e</tspan><tspan x="215.533142" y="-0.237366" style="font-size: 17.4px; font-family: 'DejaVu Sans', sans-serif">n</tspan><tspan x="226.545227" y="-0.237366" style="font-size: 17.4px; font-family: 'DejaVu Sans', sans-serif">t</tspan><tspan x="233.357788" y="-0.237366" style="font-size: 17.4px; font-family: 'DejaVu Sans', sans-serif">i</tspan><tspan x="238.18512" y="-0.237366" style="font-size: 17.4px; font-family: 'DejaVu Sans', sans-serif">n</tspan><tspan x="249.197205" y="-0.237366" style="font-size: 17.4px; font-family: 'DejaVu Sans', sans-serif">o</tspan><tspan x="259.827515" y="-0.237366" style="font-size: 17.4px; font-family: 'DejaVu Sans', sans-serif"> </tspan><tspan x="265.350525" y="-0.237366" style="font-size: 17.4px; font-family: 'DejaVu Sans', sans-serif">e</tspan><tspan x="276.040222" y="-0.237366" style="font-size: 17.4px; font-family: 'DejaVu Sans', sans-serif">t</tspan><tspan x="282.852783" y="-0.237366" style="font-size: 17.4px; font-family: 'DejaVu Sans', sans-serif"> </tspan><tspan x="288.375793" y="-0.237366" style="font-size: 17.4px; font-family: 'DejaVu Sans', sans-serif">a</tspan><tspan x="299.023071" y="-0.237366" style="font-size: 17.4px; font-family: 'DejaVu Sans', sans-serif">l</tspan><tspan x="303.850403" y="-0.237366" style="font-size: 17.4px; font-family: 'DejaVu Sans', sans-serif">.</tspan><tspan x="309.373413" y="-0.237366" style="font-size: 17.4px; font-family: 'DejaVu Sans', sans-serif"> </tspan><tspan x="314.896423" y="-0.237366" style="font-size: 17.4px; font-family: 'DejaVu Sans', sans-serif">(</tspan><tspan x="321.675049" y="-0.237366" style="font-size: 17.4px; font-family: 'DejaVu Sans', sans-serif">2</tspan><tspan x="332.729553" y="-0.237366" style="font-size: 17.4px; font-family: 'DejaVu Sans', sans-serif">0</tspan><tspan x="343.784058" y="-0.237366" style="font-size: 17.4px; font-family: 'DejaVu Sans', sans-serif">2</tspan><tspan x="354.838562" y="-0.237366" style="font-size: 17.4px; font-family: 'DejaVu Sans', sans-serif">1</tspan><tspan x="365.893066" y="-0.237366" style="font-size: 17.4px; font-family: 'DejaVu Sans', sans-serif">)</tspan><tspan x="372.671692" y="-0.237366" style="font-size: 17.4px; font-family: 'DejaVu Sans', sans-serif">,</tspan><tspan x="378.194702" y="-0.237366" style="font-size: 17.4px; font-family: 'DejaVu Sans', sans-serif"> </tspan><tspan x="383.717712" y="-0.237366" style="font-size: 17.4px; font-family: 'DejaVu Sans', sans-serif">P</tspan><tspan x="394.195312" y="-0.237366" style="font-size: 17.4px; font-family: 'DejaVu Sans', sans-serif">l</tspan><tspan x="399.022644" y="-0.237366" style="font-size: 17.4px; font-family: 'DejaVu Sans', sans-serif">a</tspan><tspan x="409.669922" y="-0.237366" style="font-size: 17.4px; font-family: 'DejaVu Sans', sans-serif">n</tspan><tspan x="420.682007" y="-0.237366" style="font-size: 17.4px; font-family: 'DejaVu Sans', sans-serif">c</tspan><tspan x="430.234863" y="-0.237366" style="font-size: 17.4px; font-family: 'DejaVu Sans', sans-serif">k</tspan><tspan x="440.296753" y="-0.237366" style="font-size: 17.4px; font-family: 'DejaVu Sans', sans-serif"> </tspan><tspan x="445.819763" y="-0.237366" style="font-size: 17.4px; font-family: 'DejaVu Sans', sans-serif">2</tspan><tspan x="456.874268" y="-0.237366" style="font-size: 17.4px; font-family: 'DejaVu Sans', sans-serif">0</tspan><tspan x="467.928772" y="-0.237366" style="font-size: 17.4px; font-family: 'DejaVu Sans', sans-serif">1</tspan><tspan x="478.983276" y="-0.237366" style="font-size: 17.4px; font-family: 'DejaVu Sans', sans-serif">8</tspan><tspan x="490.037781" y="-0.237366" style="font-size: 17.4px; font-family: 'DejaVu Sans', sans-serif">+</tspan><tspan x="504.59613" y="-0.237366" style="font-size: 17.4px; font-family: 'DejaVu Sans', sans-serif">B</tspan><tspan x="516.515991" y="-0.237366" style="font-size: 17.4px; font-family: 'DejaVu Sans', sans-serif">A</tspan><tspan x="528.401917" y="-0.237366" style="font-size: 17.4px; font-family: 'DejaVu Sans', sans-serif">O</tspan><tspan x="542.077942" y="-0.237366" style="font-size: 17.4px; font-family: 'DejaVu Sans', sans-serif">+</tspan><tspan x="556.636292" y="-0.237366" style="font-size: 17.4px; font-family: 'DejaVu Sans', sans-serif">R</tspan><tspan x="568.708862" y="-0.237366" style="font-size: 17.4px; font-family: 'DejaVu Sans', sans-serif">1</tspan><tspan x="579.763367" y="-0.237366" style="font-size: 17.4px; font-family: 'DejaVu Sans', sans-serif">9</tspan><tspan x="590.817871" y="-0.237366" style="font-size: 17.4px; font-family: 'DejaVu Sans', sans-serif">:</tspan><tspan x="596.671753" y="-0.237366" style="font-size: 17.4px; font-family: 'DejaVu Sans', sans-serif"> </tspan><tspan x="683.056725" y="-0.237366" style="font-size: 17.4px; font-family: 'DejaVu Sans', sans-serif">,</tspan><tspan x="688.579735" y="-0.237366" style="font-size: 17.4px; font-family: 'DejaVu Sans', sans-serif"> </tspan><tspan x="778.621998" y="-0.237366" style="font-size: 17.4px; font-family: 'DejaVu Sans', sans-serif">,</tspan><tspan x="784.145008" y="-0.237366" style="font-size: 17.4px; font-family: 'DejaVu Sans', sans-serif"> </tspan></text><text transform="translate(603.044 -0.237) scale(1.0873 1.0433)" style="font-size: 17.4px; font-family: 'Liberation Serif', serif; font-style: italic">H</text><text transform="translate(661.641 -0.466) scale(0.9298 0.9298)" style="font-size: 17.4px; font-family: 'Liberation Serif', serif; font-style: italic">.</text><text transform="translate(693.753 -0.042) scale(1.1583 0.9617)" style="font-size: 17.4px; font-family: 'Liberation Serif', serif; font-style: italic">r</text><text transform="translate(709.577 -0.042) scale(1.1734 1.0162)" style="font-size: 17.4px; font-family: 'Liberation Serif', serif; font-style: italic">h</text><text transform="translate(765.902 -0.466) scale(0.9298 0.9298)" style="font-size: 17.4px; font-family: 'Liberation Serif', serif; font-style: italic">.</text><text transform="translate(814.989 -0.042) scale(1.1734 1.0162)" style="font-size: 17.4px; font-family: 'Liberation Serif', serif; font-style: italic">h</text><text transform="translate(863.135 -0.466) scale(0.9298 0.9298)" style="font-size: 17.4px; font-family: 'Liberation Serif', serif; font-style: italic">.</text><text transform="translate(616.662 2.868) scale(0.9931 1.0195)" style="font-size: 12.18px; font-family: 'Liberation Serif', serif">0</text><text transform="translate(826.909 -6.895) scale(0.9963 1.0059)" style="font-size: 12.18px; font-family: 'Liberation Serif', serif">2</text><text transform="translate(626.636 0.829) scale(1.4292 0.9375)" style="font-size: 17.4px; font-family: 'Liberation Serif', serif">=</text><text transform="translate(643.225 0.145) scale(1.0578 1.0656)" style="font-size: 17.4px; font-family: 'Liberation Serif', serif">7</text><text transform="translate(652.316 -0.237) scale(0.9538 1.0119)" style="font-size: 17.4px; font-family: 'Liberation Serif', serif">4</text><text transform="translate(665.67 -0.029) scale(0.9714 1.024)" style="font-size: 17.4px; font-family: 'Liberation Serif', serif">6</text><text transform="translate(674.383 -0.028) scale(0.9931 1.0195)" style="font-size: 17.4px; font-family: 'Liberation Serif', serif">0</text><text transform="translate(722.201 0.829) scale(1.4292 0.9375)" style="font-size: 17.4px; font-family: 'Liberation Serif', serif">=</text><text transform="translate(739.088 -0.237) scale(0.9487 1.0089)" style="font-size: 17.4px; font-family: 'Liberation Serif', serif">1</text><text transform="translate(747.743 -0.028) scale(0.9931 1.0195)" style="font-size: 17.4px; font-family: 'Liberation Serif', serif">0</text><text transform="translate(756.602 -0.029) scale(0.9725 1.024)" style="font-size: 17.4px; font-family: 'Liberation Serif', serif">9</text><text transform="translate(769.948 -0.028) scale(0.9931 1.0195)" style="font-size: 17.4px; font-family: 'Liberation Serif', serif">0</text><text transform="translate(789.542 -0.237) scale(0.9893 1.0649)" style="font-size: 17.4px; font-family: 'Liberation Serif', serif">Ω</text><text transform="translate(836.825 0.829) scale(1.4292 0.9375)" style="font-size: 17.4px; font-family: 'Liberation Serif', serif">=</text><text transform="translate(853.671 -0.028) scale(0.9931 1.0195)" style="font-size: 17.4px; font-family: 'Liberation Serif', serif">0</text><text transform="translate(867.221 -0.237) scale(0.9487 1.0089)" style="font-size: 17.4px; font-family: 'Liberation Serif', serif">1</text><text transform="translate(876.015 -0.237) scale(0.9538 1.0119)" style="font-size: 17.4px; font-family: 'Liberation Serif', serif">4</text><text transform="translate(884.555 -0.029) scale(0.9714 1.024)" style="font-size: 17.4px; font-family: 'Liberation Serif', serif">6</text><text transform="translate(893.307 -0.237) scale(0.9487 1.0089)" style="font-size: 17.4px; font-family: 'Liberation Serif', serif">1</text><text transform="translate(702.037 2.733) scale(1.0186 1.0014)" style="font-size: 12.18px; font-family: 'Liberation Serif', serif; font-style: italic">d</text><text transform="translate(802.768 2.859) scale(1.2798 0.9617)" style="font-size: 12.18px; font-family: 'Liberation Serif', serif; font-style: italic">m</text>
    </g>
   </g>
   <g id="line2d_196">
    <g>
     <path d="M -4.375 -7.577722 L -8.75 -0 L -4.375 7.577722 L 4.375 7.577722 L 8.75 0 L 4.375 -7.577722 z" transform="translate(27.118 1330.149)" style="fill: #800000"/>
    </g>
   </g>
   <g id="text_34">
    <!-- VM-VEV, Di Valentino et al. (2020), Planck 2018+BAO+R19: $H_0=73.63$, $r_dh=108.1$, $\Omega_mh^2=0.1442$ -->
    <g transform="translate(41.0376 1335.3029)">
     <text><tspan x="0" y="-0.237366" style="font-size: 17.4px; font-family: 'DejaVu Sans', sans-serif">V</tspan><tspan x="11.885925" y="-0.237366" style="font-size: 17.4px; font-family: 'DejaVu Sans', sans-serif">M</tspan><tspan x="26.876953" y="-0.237366" style="font-size: 17.4px; font-family: 'DejaVu Sans', sans-serif">-</tspan><tspan x="33.146545" y="-0.237366" style="font-size: 17.4px; font-family: 'DejaVu Sans', sans-serif">V</tspan><tspan x="45.032471" y="-0.237366" style="font-size: 17.4px; font-family: 'DejaVu Sans', sans-serif">E</tspan><tspan x="56.01062" y="-0.237366" style="font-size: 17.4px; font-family: 'DejaVu Sans', sans-serif">V</tspan><tspan x="67.896545" y="-0.237366" style="font-size: 17.4px; font-family: 'DejaVu Sans', sans-serif">,</tspan><tspan x="73.419556" y="-0.237366" style="font-size: 17.4px; font-family: 'DejaVu Sans', sans-serif"> </tspan><tspan x="78.942566" y="-0.237366" style="font-size: 17.4px; font-family: 'DejaVu Sans', sans-serif">D</tspan><tspan x="92.321655" y="-0.237366" style="font-size: 17.4px; font-family: 'DejaVu Sans', sans-serif">i</tspan><tspan x="97.148987" y="-0.237366" style="font-size: 17.4px; font-family: 'DejaVu Sans', sans-serif"> </tspan><tspan x="102.671997" y="-0.237366" style="font-size: 17.4px; font-family: 'DejaVu Sans', sans-serif">V</tspan><tspan x="114.557922" y="-0.237366" style="font-size: 17.4px; font-family: 'DejaVu Sans', sans-serif">a</tspan><tspan x="125.2052" y="-0.237366" style="font-size: 17.4px; font-family: 'DejaVu Sans', sans-serif">l</tspan><tspan x="130.032532" y="-0.237366" style="font-size: 17.4px; font-family: 'DejaVu Sans', sans-serif">e</tspan><tspan x="140.722229" y="-0.237366" style="font-size: 17.4px; font-family: 'DejaVu Sans', sans-serif">n</tspan><tspan x="151.734314" y="-0.237366" style="font-size: 17.4px; font-family: 'DejaVu Sans', sans-serif">t</tspan><tspan x="158.546875" y="-0.237366" style="font-size: 17.4px; font-family: 'DejaVu Sans', sans-serif">i</tspan><tspan x="163.374207" y="-0.237366" style="font-size: 17.4px; font-family: 'DejaVu Sans', sans-serif">n</tspan><tspan x="174.386292" y="-0.237366" style="font-size: 17.4px; font-family: 'DejaVu Sans', sans-serif">o</tspan><tspan x="185.016602" y="-0.237366" style="font-size: 17.4px; font-family: 'DejaVu Sans', sans-serif"> </tspan><tspan x="190.539612" y="-0.237366" style="font-size: 17.4px; font-family: 'DejaVu Sans', sans-serif">e</tspan><tspan x="201.229309" y="-0.237366" style="font-size: 17.4px; font-family: 'DejaVu Sans', sans-serif">t</tspan><tspan x="208.04187" y="-0.237366" style="font-size: 17.4px; font-family: 'DejaVu Sans', sans-serif"> </tspan><tspan x="213.56488" y="-0.237366" style="font-size: 17.4px; font-family: 'DejaVu Sans', sans-serif">a</tspan><tspan x="224.212158" y="-0.237366" style="font-size: 17.4px; font-family: 'DejaVu Sans', sans-serif">l</tspan><tspan x="229.03949" y="-0.237366" style="font-size: 17.4px; font-family: 'DejaVu Sans', sans-serif">.</tspan><tspan x="234.5625" y="-0.237366" style="font-size: 17.4px; font-family: 'DejaVu Sans', sans-serif"> </tspan><tspan x="240.08551" y="-0.237366" style="font-size: 17.4px; font-family: 'DejaVu Sans', sans-serif">(</tspan><tspan x="246.864136" y="-0.237366" style="font-size: 17.4px; font-family: 'DejaVu Sans', sans-serif">2</tspan><tspan x="257.91864" y="-0.237366" style="font-size: 17.4px; font-family: 'DejaVu Sans', sans-serif">0</tspan><tspan x="268.973145" y="-0.237366" style="font-size: 17.4px; font-family: 'DejaVu Sans', sans-serif">2</tspan><tspan x="280.027649" y="-0.237366" style="font-size: 17.4px; font-family: 'DejaVu Sans', sans-serif">0</tspan><tspan x="291.082153" y="-0.237366" style="font-size: 17.4px; font-family: 'DejaVu Sans', sans-serif">)</tspan><tspan x="297.860779" y="-0.237366" style="font-size: 17.4px; font-family: 'DejaVu Sans', sans-serif">,</tspan><tspan x="303.383789" y="-0.237366" style="font-size: 17.4px; font-family: 'DejaVu Sans', sans-serif"> </tspan><tspan x="308.906799" y="-0.237366" style="font-size: 17.4px; font-family: 'DejaVu Sans', sans-serif">P</tspan><tspan x="319.384399" y="-0.237366" style="font-size: 17.4px; font-family: 'DejaVu Sans', sans-serif">l</tspan><tspan x="324.211731" y="-0.237366" style="font-size: 17.4px; font-family: 'DejaVu Sans', sans-serif">a</tspan><tspan x="334.859009" y="-0.237366" style="font-size: 17.4px; font-family: 'DejaVu Sans', sans-serif">n</tspan><tspan x="345.871094" y="-0.237366" style="font-size: 17.4px; font-family: 'DejaVu Sans', sans-serif">c</tspan><tspan x="355.42395" y="-0.237366" style="font-size: 17.4px; font-family: 'DejaVu Sans', sans-serif">k</tspan><tspan x="365.48584" y="-0.237366" style="font-size: 17.4px; font-family: 'DejaVu Sans', sans-serif"> </tspan><tspan x="371.00885" y="-0.237366" style="font-size: 17.4px; font-family: 'DejaVu Sans', sans-serif">2</tspan><tspan x="382.063354" y="-0.237366" style="font-size: 17.4px; font-family: 'DejaVu Sans', sans-serif">0</tspan><tspan x="393.117859" y="-0.237366" style="font-size: 17.4px; font-family: 'DejaVu Sans', sans-serif">1</tspan><tspan x="404.172363" y="-0.237366" style="font-size: 17.4px; font-family: 'DejaVu Sans', sans-serif">8</tspan><tspan x="415.226868" y="-0.237366" style="font-size: 17.4px; font-family: 'DejaVu Sans', sans-serif">+</tspan><tspan x="429.785217" y="-0.237366" style="font-size: 17.4px; font-family: 'DejaVu Sans', sans-serif">B</tspan><tspan x="441.705078" y="-0.237366" style="font-size: 17.4px; font-family: 'DejaVu Sans', sans-serif">A</tspan><tspan x="453.591003" y="-0.237366" style="font-size: 17.4px; font-family: 'DejaVu Sans', sans-serif">O</tspan><tspan x="467.267029" y="-0.237366" style="font-size: 17.4px; font-family: 'DejaVu Sans', sans-serif">+</tspan><tspan x="481.825378" y="-0.237366" style="font-size: 17.4px; font-family: 'DejaVu Sans', sans-serif">R</tspan><tspan x="493.897949" y="-0.237366" style="font-size: 17.4px; font-family: 'DejaVu Sans', sans-serif">1</tspan><tspan x="504.952454" y="-0.237366" style="font-size: 17.4px; font-family: 'DejaVu Sans', sans-serif">9</tspan><tspan x="516.006958" y="-0.237366" style="font-size: 17.4px; font-family: 'DejaVu Sans', sans-serif">:</tspan><tspan x="521.86084" y="-0.237366" style="font-size: 17.4px; font-family: 'DejaVu Sans', sans-serif"> </tspan><tspan x="608.245812" y="-0.237366" style="font-size: 17.4px; font-family: 'DejaVu Sans', sans-serif">,</tspan><tspan x="613.768822" y="-0.237366" style="font-size: 17.4px; font-family: 'DejaVu Sans', sans-serif"> </tspan><tspan x="703.811085" y="-0.237366" style="font-size: 17.4px; font-family: 'DejaVu Sans', sans-serif">,</tspan><tspan x="709.334095" y="-0.237366" style="font-size: 17.4px; font-family: 'DejaVu Sans', sans-serif"> </tspan></text><text transform="translate(528.233 -0.237) scale(1.0873 1.0433)" style="font-size: 17.4px; font-family: 'Liberation Serif', serif; font-style: italic">H</text><text transform="translate(586.83 -0.466) scale(0.9298 0.9298)" style="font-size: 17.4px; font-family: 'Liberation Serif', serif; font-style: italic">.</text><text transform="translate(618.942 -0.042) scale(1.1583 0.9617)" style="font-size: 17.4px; font-family: 'Liberation Serif', serif; font-style: italic">r</text><text transform="translate(634.766 -0.042) scale(1.1734 1.0162)" style="font-size: 17.4px; font-family: 'Liberation Serif', serif; font-style: italic">h</text><text transform="translate(691.091 -0.466) scale(0.9298 0.9298)" style="font-size: 17.4px; font-family: 'Liberation Serif', serif; font-style: italic">.</text><text transform="translate(740.178 -0.042) scale(1.1734 1.0162)" style="font-size: 17.4px; font-family: 'Liberation Serif', serif; font-style: italic">h</text><text transform="translate(788.324 -0.466) scale(0.9298 0.9298)" style="font-size: 17.4px; font-family: 'Liberation Serif', serif; font-style: italic">.</text><text transform="translate(541.852 2.868) scale(0.9931 1.0195)" style="font-size: 12.18px; font-family: 'Liberation Serif', serif">0</text><text transform="translate(752.098 -6.895) scale(0.9963 1.0059)" style="font-size: 12.18px; font-family: 'Liberation Serif', serif">2</text><text transform="translate(551.825 0.829) scale(1.4292 0.9375)" style="font-size: 17.4px; font-family: 'Liberation Serif', serif">=</text><text transform="translate(568.414 0.145) scale(1.0578 1.0656)" style="font-size: 17.4px; font-family: 'Liberation Serif', serif">7</text><text transform="translate(577.239 -0.029) scale(1.0047 1.024)" style="font-size: 17.4px; font-family: 'Liberation Serif', serif">3</text><text transform="translate(590.86 -0.029) scale(0.9714 1.024)" style="font-size: 17.4px; font-family: 'Liberation Serif', serif">6</text><text transform="translate(599.445 -0.029) scale(1.0047 1.024)" style="font-size: 17.4px; font-family: 'Liberation Serif', serif">3</text><text transform="translate(647.39 0.829) scale(1.4292 0.9375)" style="font-size: 17.4px; font-family: 'Liberation Serif', serif">=</text><text transform="translate(664.277 -0.237) scale(0.9487 1.0089)" style="font-size: 17.4px; font-family: 'Liberation Serif', serif">1</text><text transform="translate(672.932 -0.028) scale(0.9931 1.0195)" style="font-size: 17.4px; font-family: 'Liberation Serif', serif">0</text><text transform="translate(681.687 -0.028) scale(0.9793 1.0195)" style="font-size: 17.4px; font-family: 'Liberation Serif', serif">8</text><text transform="translate(695.177 -0.237) scale(0.9487 1.0089)" style="font-size: 17.4px; font-family: 'Liberation Serif', serif">1</text><text transform="translate(714.731 -0.237) scale(0.9893 1.0649)" style="font-size: 17.4px; font-family: 'Liberation Serif', serif">Ω</text><text transform="translate(762.014 0.829) scale(1.4292 0.9375)" style="font-size: 17.4px; font-family: 'Liberation Serif', serif">=</text><text transform="translate(778.86 -0.028) scale(0.9931 1.0195)" style="font-size: 17.4px; font-family: 'Liberation Serif', serif">0</text><text transform="translate(792.41 -0.237) scale(0.9487 1.0089)" style="font-size: 17.4px; font-family: 'Liberation Serif', serif">1</text><text transform="translate(801.204 -0.237) scale(0.9538 1.0119)" style="font-size: 17.4px; font-family: 'Liberation Serif', serif">4</text><text transform="translate(809.899 -0.237) scale(0.9538 1.0119)" style="font-size: 17.4px; font-family: 'Liberation Serif', serif">4</text><text transform="translate(818.539 -0.237) scale(0.9963 1.0059)" style="font-size: 17.4px; font-family: 'Liberation Serif', serif">2</text><text transform="translate(627.226 2.733) scale(1.0186 1.0014)" style="font-size: 12.18px; font-family: 'Liberation Serif', serif; font-style: italic">d</text><text transform="translate(727.957 2.859) scale(1.2798 0.9617)" style="font-size: 12.18px; font-family: 'Liberation Serif', serif; font-style: italic">m</text>
    </g>
   </g>
   <g id="line2d_197">
    <g>
     <path d="M -8.75 8.75 L 8.75 8.75 L 8.75 -8.75 L -8.75 -8.75 z" transform="translate(27.118 1359.364)" style="fill: #808080"/>
    </g>
   </g>
   <g id="text_35">
    <!-- VM-VEV (+neutrinos), Di Valentino et al. (2021), Planck 2018+BAO+R19: $H_0=73.19$, $r_dh=107.7$, $\Omega_mh^2=0.1447$ -->
    <g transform="translate(41.0376 1364.5175)">
     <text><tspan x="0" y="-0.237366" style="font-size: 17.4px; font-family: 'DejaVu Sans', sans-serif">V</tspan><tspan x="11.885925" y="-0.237366" style="font-size: 17.4px; font-family: 'DejaVu Sans', sans-serif">M</tspan><tspan x="26.876953" y="-0.237366" style="font-size: 17.4px; font-family: 'DejaVu Sans', sans-serif">-</tspan><tspan x="33.146545" y="-0.237366" style="font-size: 17.4px; font-family: 'DejaVu Sans', sans-serif">V</tspan><tspan x="45.032471" y="-0.237366" style="font-size: 17.4px; font-family: 'DejaVu Sans', sans-serif">E</tspan><tspan x="56.01062" y="-0.237366" style="font-size: 17.4px; font-family: 'DejaVu Sans', sans-serif">V</tspan><tspan x="67.896545" y="-0.237366" style="font-size: 17.4px; font-family: 'DejaVu Sans', sans-serif"> </tspan><tspan x="73.419556" y="-0.237366" style="font-size: 17.4px; font-family: 'DejaVu Sans', sans-serif">(</tspan><tspan x="80.198181" y="-0.237366" style="font-size: 17.4px; font-family: 'DejaVu Sans', sans-serif">+</tspan><tspan x="94.756531" y="-0.237366" style="font-size: 17.4px; font-family: 'DejaVu Sans', sans-serif">n</tspan><tspan x="105.768616" y="-0.237366" style="font-size: 17.4px; font-family: 'DejaVu Sans', sans-serif">e</tspan><tspan x="116.458313" y="-0.237366" style="font-size: 17.4px; font-family: 'DejaVu Sans', sans-serif">u</tspan><tspan x="127.470398" y="-0.237366" style="font-size: 17.4px; font-family: 'DejaVu Sans', sans-serif">t</tspan><tspan x="134.282959" y="-0.237366" style="font-size: 17.4px; font-family: 'DejaVu Sans', sans-serif">r</tspan><tspan x="141.426392" y="-0.237366" style="font-size: 17.4px; font-family: 'DejaVu Sans', sans-serif">i</tspan><tspan x="146.253723" y="-0.237366" style="font-size: 17.4px; font-family: 'DejaVu Sans', sans-serif">n</tspan><tspan x="157.265808" y="-0.237366" style="font-size: 17.4px; font-family: 'DejaVu Sans', sans-serif">o</tspan><tspan x="167.896118" y="-0.237366" style="font-size: 17.4px; font-family: 'DejaVu Sans', sans-serif">s</tspan><tspan x="176.948425" y="-0.237366" style="font-size: 17.4px; font-family: 'DejaVu Sans', sans-serif">)</tspan><tspan x="183.727051" y="-0.237366" style="font-size: 17.4px; font-family: 'DejaVu Sans', sans-serif">,</tspan><tspan x="189.250061" y="-0.237366" style="font-size: 17.4px; font-family: 'DejaVu Sans', sans-serif"> </tspan><tspan x="194.773071" y="-0.237366" style="font-size: 17.4px; font-family: 'DejaVu Sans', sans-serif">D</tspan><tspan x="208.152161" y="-0.237366" style="font-size: 17.4px; font-family: 'DejaVu Sans', sans-serif">i</tspan><tspan x="212.979492" y="-0.237366" style="font-size: 17.4px; font-family: 'DejaVu Sans', sans-serif"> </tspan><tspan x="218.502502" y="-0.237366" style="font-size: 17.4px; font-family: 'DejaVu Sans', sans-serif">V</tspan><tspan x="230.388428" y="-0.237366" style="font-size: 17.4px; font-family: 'DejaVu Sans', sans-serif">a</tspan><tspan x="241.035706" y="-0.237366" style="font-size: 17.4px; font-family: 'DejaVu Sans', sans-serif">l</tspan><tspan x="245.863037" y="-0.237366" style="font-size: 17.4px; font-family: 'DejaVu Sans', sans-serif">e</tspan><tspan x="256.552734" y="-0.237366" style="font-size: 17.4px; font-family: 'DejaVu Sans', sans-serif">n</tspan><tspan x="267.564819" y="-0.237366" style="font-size: 17.4px; font-family: 'DejaVu Sans', sans-serif">t</tspan><tspan x="274.37738" y="-0.237366" style="font-size: 17.4px; font-family: 'DejaVu Sans', sans-serif">i</tspan><tspan x="279.204712" y="-0.237366" style="font-size: 17.4px; font-family: 'DejaVu Sans', sans-serif">n</tspan><tspan x="290.216797" y="-0.237366" style="font-size: 17.4px; font-family: 'DejaVu Sans', sans-serif">o</tspan><tspan x="300.847107" y="-0.237366" style="font-size: 17.4px; font-family: 'DejaVu Sans', sans-serif"> </tspan><tspan x="306.370117" y="-0.237366" style="font-size: 17.4px; font-family: 'DejaVu Sans', sans-serif">e</tspan><tspan x="317.059814" y="-0.237366" style="font-size: 17.4px; font-family: 'DejaVu Sans', sans-serif">t</tspan><tspan x="323.872375" y="-0.237366" style="font-size: 17.4px; font-family: 'DejaVu Sans', sans-serif"> </tspan><tspan x="329.395386" y="-0.237366" style="font-size: 17.4px; font-family: 'DejaVu Sans', sans-serif">a</tspan><tspan x="340.042664" y="-0.237366" style="font-size: 17.4px; font-family: 'DejaVu Sans', sans-serif">l</tspan><tspan x="344.869995" y="-0.237366" style="font-size: 17.4px; font-family: 'DejaVu Sans', sans-serif">.</tspan><tspan x="350.393005" y="-0.237366" style="font-size: 17.4px; font-family: 'DejaVu Sans', sans-serif"> </tspan><tspan x="355.916016" y="-0.237366" style="font-size: 17.4px; font-family: 'DejaVu Sans', sans-serif">(</tspan><tspan x="362.694641" y="-0.237366" style="font-size: 17.4px; font-family: 'DejaVu Sans', sans-serif">2</tspan><tspan x="373.749146" y="-0.237366" style="font-size: 17.4px; font-family: 'DejaVu Sans', sans-serif">0</tspan><tspan x="384.80365" y="-0.237366" style="font-size: 17.4px; font-family: 'DejaVu Sans', sans-serif">2</tspan><tspan x="395.858154" y="-0.237366" style="font-size: 17.4px; font-family: 'DejaVu Sans', sans-serif">1</tspan><tspan x="406.912659" y="-0.237366" style="font-size: 17.4px; font-family: 'DejaVu Sans', sans-serif">)</tspan><tspan x="413.691284" y="-0.237366" style="font-size: 17.4px; font-family: 'DejaVu Sans', sans-serif">,</tspan><tspan x="419.214294" y="-0.237366" style="font-size: 17.4px; font-family: 'DejaVu Sans', sans-serif"> </tspan><tspan x="424.737305" y="-0.237366" style="font-size: 17.4px; font-family: 'DejaVu Sans', sans-serif">P</tspan><tspan x="435.214905" y="-0.237366" style="font-size: 17.4px; font-family: 'DejaVu Sans', sans-serif">l</tspan><tspan x="440.042236" y="-0.237366" style="font-size: 17.4px; font-family: 'DejaVu Sans', sans-serif">a</tspan><tspan x="450.689514" y="-0.237366" style="font-size: 17.4px; font-family: 'DejaVu Sans', sans-serif">n</tspan><tspan x="461.701599" y="-0.237366" style="font-size: 17.4px; font-family: 'DejaVu Sans', sans-serif">c</tspan><tspan x="471.254456" y="-0.237366" style="font-size: 17.4px; font-family: 'DejaVu Sans', sans-serif">k</tspan><tspan x="481.316345" y="-0.237366" style="font-size: 17.4px; font-family: 'DejaVu Sans', sans-serif"> </tspan><tspan x="486.839355" y="-0.237366" style="font-size: 17.4px; font-family: 'DejaVu Sans', sans-serif">2</tspan><tspan x="497.89386" y="-0.237366" style="font-size: 17.4px; font-family: 'DejaVu Sans', sans-serif">0</tspan><tspan x="508.948364" y="-0.237366" style="font-size: 17.4px; font-family: 'DejaVu Sans', sans-serif">1</tspan><tspan x="520.002869" y="-0.237366" style="font-size: 17.4px; font-family: 'DejaVu Sans', sans-serif">8</tspan><tspan x="531.057373" y="-0.237366" style="font-size: 17.4px; font-family: 'DejaVu Sans', sans-serif">+</tspan><tspan x="545.615723" y="-0.237366" style="font-size: 17.4px; font-family: 'DejaVu Sans', sans-serif">B</tspan><tspan x="557.535583" y="-0.237366" style="font-size: 17.4px; font-family: 'DejaVu Sans', sans-serif">A</tspan><tspan x="569.421509" y="-0.237366" style="font-size: 17.4px; font-family: 'DejaVu Sans', sans-serif">O</tspan><tspan x="583.097534" y="-0.237366" style="font-size: 17.4px; font-family: 'DejaVu Sans', sans-serif">+</tspan><tspan x="597.655884" y="-0.237366" style="font-size: 17.4px; font-family: 'DejaVu Sans', sans-serif">R</tspan><tspan x="609.728455" y="-0.237366" style="font-size: 17.4px; font-family: 'DejaVu Sans', sans-serif">1</tspan><tspan x="620.782959" y="-0.237366" style="font-size: 17.4px; font-family: 'DejaVu Sans', sans-serif">9</tspan><tspan x="631.837463" y="-0.237366" style="font-size: 17.4px; font-family: 'DejaVu Sans', sans-serif">:</tspan><tspan x="637.691345" y="-0.237366" style="font-size: 17.4px; font-family: 'DejaVu Sans', sans-serif"> </tspan><tspan x="724.076317" y="-0.237366" style="font-size: 17.4px; font-family: 'DejaVu Sans', sans-serif">,</tspan><tspan x="729.599328" y="-0.237366" style="font-size: 17.4px; font-family: 'DejaVu Sans', sans-serif"> </tspan><tspan x="819.64159" y="-0.237366" style="font-size: 17.4px; font-family: 'DejaVu Sans', sans-serif">,</tspan><tspan x="825.164601" y="-0.237366" style="font-size: 17.4px; font-family: 'DejaVu Sans', sans-serif"> </tspan></text><text transform="translate(644.063 -0.237) scale(1.0873 1.0433)" style="font-size: 17.4px; font-family: 'Liberation Serif', serif; font-style: italic">H</text><text transform="translate(702.661 -0.466) scale(0.9298 0.9298)" style="font-size: 17.4px; font-family: 'Liberation Serif', serif; font-style: italic">.</text><text transform="translate(734.773 -0.042) scale(1.1583 0.9617)" style="font-size: 17.4px; font-family: 'Liberation Serif', serif; font-style: italic">r</text><text transform="translate(750.597 -0.042) scale(1.1734 1.0162)" style="font-size: 17.4px; font-family: 'Liberation Serif', serif; font-style: italic">h</text><text transform="translate(806.921 -0.466) scale(0.9298 0.9298)" style="font-size: 17.4px; font-family: 'Liberation Serif', serif; font-style: italic">.</text><text transform="translate(856.009 -0.042) scale(1.1734 1.0162)" style="font-size: 17.4px; font-family: 'Liberation Serif', serif; font-style: italic">h</text><text transform="translate(904.154 -0.466) scale(0.9298 0.9298)" style="font-size: 17.4px; font-family: 'Liberation Serif', serif; font-style: italic">.</text><text transform="translate(657.682 2.868) scale(0.9931 1.0195)" style="font-size: 12.18px; font-family: 'Liberation Serif', serif">0</text><text transform="translate(867.929 -6.895) scale(0.9963 1.0059)" style="font-size: 12.18px; font-family: 'Liberation Serif', serif">2</text><text transform="translate(667.655 0.829) scale(1.4292 0.9375)" style="font-size: 17.4px; font-family: 'Liberation Serif', serif">=</text><text transform="translate(684.244 0.145) scale(1.0578 1.0656)" style="font-size: 17.4px; font-family: 'Liberation Serif', serif">7</text><text transform="translate(693.07 -0.029) scale(1.0047 1.024)" style="font-size: 17.4px; font-family: 'Liberation Serif', serif">3</text><text transform="translate(706.747 -0.237) scale(0.9487 1.0089)" style="font-size: 17.4px; font-family: 'Liberation Serif', serif">1</text><text transform="translate(715.566 -0.029) scale(0.9725 1.024)" style="font-size: 17.4px; font-family: 'Liberation Serif', serif">9</text><text transform="translate(763.221 0.829) scale(1.4292 0.9375)" style="font-size: 17.4px; font-family: 'Liberation Serif', serif">=</text><text transform="translate(780.107 -0.237) scale(0.9487 1.0089)" style="font-size: 17.4px; font-family: 'Liberation Serif', serif">1</text><text transform="translate(788.763 -0.028) scale(0.9931 1.0195)" style="font-size: 17.4px; font-family: 'Liberation Serif', serif">0</text><text transform="translate(797.2 0.145) scale(1.0578 1.0656)" style="font-size: 17.4px; font-family: 'Liberation Serif', serif">7</text><text transform="translate(810.71 0.145) scale(1.0578 1.0656)" style="font-size: 17.4px; font-family: 'Liberation Serif', serif">7</text><text transform="translate(830.561 -0.237) scale(0.9893 1.0649)" style="font-size: 17.4px; font-family: 'Liberation Serif', serif">Ω</text><text transform="translate(877.844 0.829) scale(1.4292 0.9375)" style="font-size: 17.4px; font-family: 'Liberation Serif', serif">=</text><text transform="translate(894.691 -0.028) scale(0.9931 1.0195)" style="font-size: 17.4px; font-family: 'Liberation Serif', serif">0</text><text transform="translate(908.241 -0.237) scale(0.9487 1.0089)" style="font-size: 17.4px; font-family: 'Liberation Serif', serif">1</text><text transform="translate(917.035 -0.237) scale(0.9538 1.0119)" style="font-size: 17.4px; font-family: 'Liberation Serif', serif">4</text><text transform="translate(925.73 -0.237) scale(0.9538 1.0119)" style="font-size: 17.4px; font-family: 'Liberation Serif', serif">4</text><text transform="translate(934.029 0.145) scale(1.0578 1.0656)" style="font-size: 17.4px; font-family: 'Liberation Serif', serif">7</text><text transform="translate(743.057 2.733) scale(1.0186 1.0014)" style="font-size: 12.18px; font-family: 'Liberation Serif', serif; font-style: italic">d</text><text transform="translate(843.787 2.859) scale(1.2798 0.9617)" style="font-size: 12.18px; font-family: 'Liberation Serif', serif; font-style: italic">m</text>
    </g>
   </g>
  </g>
  <g id="line2d_198">
   <path d="M 126.576 354.96 
L 982.728 354.96 
" style="fill: none; stroke: #000000; stroke-width: 1.25; stroke-linecap: square"/>
  </g>
 </g>
 <defs>
  <clipPath id="pdb8084b078">
   <rect x="126.576" y="0.36" width="856.152" height="354.6"/>
  </clipPath>
  <clipPath id="p4e50c6712b">
   <rect x="126.576" y="354.96" width="856.152" height="354.6"/>
  </clipPath>
 </defs>
</svg>
</body></html>
